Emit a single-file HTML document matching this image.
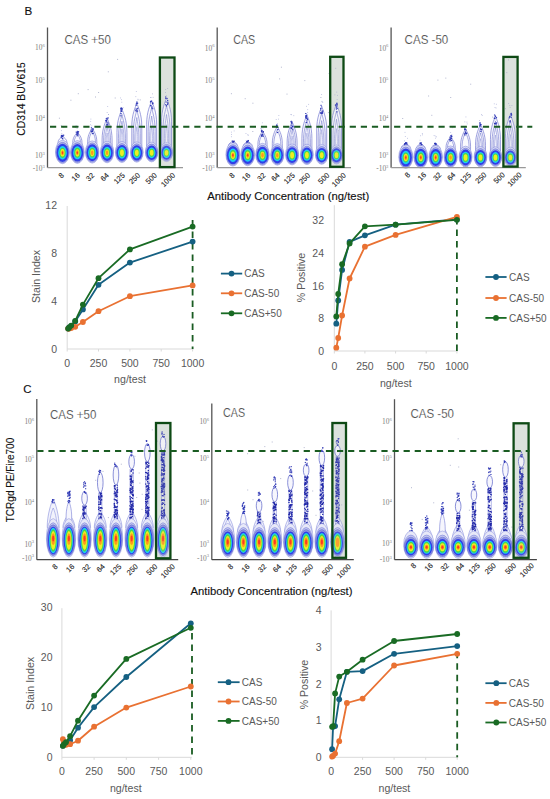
<!DOCTYPE html><html><head><meta charset="utf-8"><style>html,body{margin:0;padding:0;background:#fff;width:550px;height:799px;overflow:hidden}svg{display:block}</style></head><body>
<svg width="550" height="799" viewBox="0 0 550 799" font-family='"Liberation Sans", sans-serif'>
<rect width="550" height="799" fill="#fff"/>
<text x="24.4" y="14.5" font-size="11.6" fill="#111" stroke="#111" stroke-width="0.15">B</text>
<text x="23.2" y="392.9" font-size="11.4" fill="#111" stroke="#111" stroke-width="0.15">C</text>
<text x="24.6" y="99" text-anchor="middle" font-size="10.3" fill="#111" stroke="#111" stroke-width="0.12" transform="rotate(-90 24.6 99)">CD314 BUV615</text>
<text x="13.8" y="480" text-anchor="middle" font-size="10" fill="#111" stroke="#111" stroke-width="0.12" transform="rotate(-90 13.8 480)">TCRgd PE/Fire700</text>
<g>
<line x1="47.5" y1="27.5" x2="47.5" y2="167.7" stroke="#555" stroke-width="1.3"/>
<text x="44.8" y="50.0" text-anchor="end" font-family="Liberation Serif, serif" font-size="7.4" fill="#808080">10<tspan font-size="4.6" dy="-3.4">6</tspan></text>
<text x="44.8" y="82.9" text-anchor="end" font-family="Liberation Serif, serif" font-size="7.4" fill="#808080">10<tspan font-size="4.6" dy="-3.4">5</tspan></text>
<text x="44.8" y="121.0" text-anchor="end" font-family="Liberation Serif, serif" font-size="7.4" fill="#808080">10<tspan font-size="4.6" dy="-3.4">4</tspan></text>
<text x="44.8" y="157.9" text-anchor="end" font-family="Liberation Serif, serif" font-size="7.4" fill="#808080">10<tspan font-size="4.6" dy="-3.4">3</tspan></text>
<text x="44.8" y="171.0" text-anchor="end" font-family="Liberation Serif, serif" font-size="7.4" fill="#808080">-10<tspan font-size="4.6" dy="-3.4">3</tspan></text>
<rect x="159.9" y="57.5" width="14.6" height="109.6" fill="#e0e5e1"/>
<path d="M57.90,144.70 L57.90,142.96 C57.90,139.13 61.35,137.39 62.50,136.00 C63.65,137.39 67.10,139.13 67.10,142.96 L67.10,144.70" fill="#fafafe" stroke="#6a70cc" stroke-width="0.65"/><rect x="61.45" y="135.12" width="1.25" height="1.06" fill="#2a34b4"/><rect x="62.24" y="134.80" width="1.25" height="1.06" fill="#2a34b4"/><rect x="61.96" y="136.00" width="1.25" height="1.06" fill="#2a34b4"/><rect x="60.81" y="136.59" width="1.25" height="1.06" fill="#2a34b4"/><rect x="60.76" y="136.28" width="1.25" height="1.06" fill="#2a34b4"/><rect x="60.84" y="134.87" width="1.25" height="1.06" fill="#2a34b4"/><rect x="61.69" y="137.90" width="1.25" height="1.06" fill="#2a34b4"/><rect x="60.97" y="135.42" width="1.25" height="1.06" fill="#2a34b4"/><rect x="62.18" y="138.40" width="1.25" height="1.06" fill="#2a34b4"/><rect x="62.06" y="136.13" width="1.25" height="1.06" fill="#2a34b4"/><rect x="63.02" y="134.69" width="1.25" height="1.06" fill="#2a34b4"/><rect x="63.39" y="127.19" width="0.80" height="0.68" fill="#9aa0d0"/><rect x="60.82" y="125.30" width="0.80" height="0.68" fill="#9aa0d0"/><rect x="61.41" y="132.98" width="0.80" height="0.68" fill="#9aa0d0"/><rect x="60.95" y="130.40" width="0.80" height="0.68" fill="#9aa0d0"/>
<ellipse cx="62.50" cy="152.00" rx="7.00" ry="11.70" fill="#dcdef5" stroke="#7a80d8" stroke-width="0.5"/><ellipse cx="62.50" cy="152.50" rx="6.50" ry="10.20" fill="#a8ace8" stroke="#5a62d0" stroke-width="0.5"/><ellipse cx="62.50" cy="152.80" rx="6.00" ry="9.10" fill="#2f3ee8"/><ellipse cx="62.50" cy="152.80" rx="4.32" ry="6.73" fill="#1ccff5"/><ellipse cx="62.50" cy="152.80" rx="3.12" ry="5.10" fill="#4cd64a"/><ellipse cx="62.50" cy="152.80" rx="2.10" ry="3.73" fill="#eeee22"/><ellipse cx="62.50" cy="152.80" rx="1.32" ry="2.55" fill="#ff9a1e"/><ellipse cx="62.50" cy="152.80" rx="0.72" ry="1.36" fill="#ff3a22"/>
<path d="M72.76,145.00 L72.76,142.40 C72.76,136.68 76.21,134.08 77.36,132.00 C78.51,134.08 81.96,136.68 81.96,142.40 L81.96,145.00" fill="#fafafe" stroke="#6a70cc" stroke-width="0.65"/><path d="M74.14,145.00 L74.14,142.82 C74.14,138.01 76.55,135.83 77.36,134.08 C78.17,135.83 80.58,138.01 80.58,142.82 L80.58,145.00" fill="none" stroke="#6c72cc" stroke-width="0.6"/><rect x="77.07" y="132.51" width="1.25" height="1.06" fill="#2a34b4"/><rect x="76.85" y="130.84" width="1.25" height="1.06" fill="#2a34b4"/><rect x="75.68" y="131.61" width="1.25" height="1.06" fill="#2a34b4"/><rect x="77.17" y="132.81" width="1.25" height="1.06" fill="#2a34b4"/><rect x="76.29" y="133.66" width="1.25" height="1.06" fill="#2a34b4"/><rect x="76.62" y="132.12" width="1.25" height="1.06" fill="#2a34b4"/><rect x="77.44" y="134.27" width="1.25" height="1.06" fill="#2a34b4"/><rect x="76.12" y="133.60" width="1.25" height="1.06" fill="#2a34b4"/><rect x="76.80" y="135.23" width="1.25" height="1.06" fill="#2a34b4"/><rect x="77.29" y="132.05" width="1.25" height="1.06" fill="#2a34b4"/><rect x="77.89" y="131.14" width="1.25" height="1.06" fill="#2a34b4"/><rect x="76.67" y="128.33" width="0.80" height="0.68" fill="#9aa0d0"/><rect x="75.71" y="125.38" width="0.80" height="0.68" fill="#9aa0d0"/><rect x="75.30" y="127.35" width="0.80" height="0.68" fill="#9aa0d0"/><rect x="77.91" y="126.30" width="0.80" height="0.68" fill="#9aa0d0"/>
<ellipse cx="77.36" cy="152.00" rx="6.88" ry="11.40" fill="#dcdef5" stroke="#7a80d8" stroke-width="0.5"/><ellipse cx="77.36" cy="152.50" rx="6.38" ry="9.90" fill="#a8ace8" stroke="#5a62d0" stroke-width="0.5"/><ellipse cx="77.36" cy="152.80" rx="5.88" ry="8.80" fill="#2f3ee8"/><ellipse cx="77.36" cy="152.80" rx="4.23" ry="6.51" fill="#1ccff5"/><ellipse cx="77.36" cy="152.80" rx="3.06" ry="4.93" fill="#4cd64a"/><ellipse cx="77.36" cy="152.80" rx="2.06" ry="3.61" fill="#eeee22"/><ellipse cx="77.36" cy="152.80" rx="1.29" ry="2.46" fill="#ff9a1e"/><ellipse cx="77.36" cy="152.80" rx="0.71" ry="1.32" fill="#ff3a22"/>
<path d="M87.62,145.30 L87.62,141.84 C87.62,134.23 91.07,130.77 92.22,128.00 C93.37,130.77 96.82,134.23 96.82,141.84 L96.82,145.30" fill="#fafafe" stroke="#6a70cc" stroke-width="0.65"/><path d="M89.00,145.30 L89.00,142.39 C89.00,136.00 91.41,133.09 92.22,130.77 C93.03,133.09 95.44,136.00 95.44,142.39 L95.44,145.30" fill="none" stroke="#6c72cc" stroke-width="0.6"/><rect x="92.50" y="128.60" width="1.25" height="1.06" fill="#2a34b4"/><rect x="92.06" y="130.48" width="1.25" height="1.06" fill="#2a34b4"/><rect x="91.79" y="129.55" width="1.25" height="1.06" fill="#2a34b4"/><rect x="92.41" y="132.82" width="1.25" height="1.06" fill="#2a34b4"/><rect x="91.53" y="130.94" width="1.25" height="1.06" fill="#2a34b4"/><rect x="90.54" y="131.19" width="1.25" height="1.06" fill="#2a34b4"/><rect x="91.95" y="133.14" width="1.25" height="1.06" fill="#2a34b4"/><rect x="92.37" y="128.40" width="1.25" height="1.06" fill="#2a34b4"/><rect x="91.32" y="130.97" width="1.25" height="1.06" fill="#2a34b4"/><rect x="90.45" y="129.59" width="1.25" height="1.06" fill="#2a34b4"/><rect x="90.80" y="127.28" width="1.25" height="1.06" fill="#2a34b4"/><rect x="90.23" y="124.45" width="0.80" height="0.68" fill="#9aa0d0"/><rect x="90.49" y="118.72" width="0.80" height="0.68" fill="#9aa0d0"/><rect x="91.43" y="125.59" width="0.80" height="0.68" fill="#9aa0d0"/><rect x="90.31" y="120.94" width="0.80" height="0.68" fill="#9aa0d0"/>
<ellipse cx="92.22" cy="152.00" rx="6.76" ry="11.10" fill="#dcdef5" stroke="#7a80d8" stroke-width="0.5"/><ellipse cx="92.22" cy="152.50" rx="6.26" ry="9.60" fill="#a8ace8" stroke="#5a62d0" stroke-width="0.5"/><ellipse cx="92.22" cy="152.80" rx="5.76" ry="8.50" fill="#2f3ee8"/><ellipse cx="92.22" cy="152.80" rx="4.15" ry="6.29" fill="#1ccff5"/><ellipse cx="92.22" cy="152.80" rx="3.00" ry="4.76" fill="#4cd64a"/><ellipse cx="92.22" cy="152.80" rx="2.02" ry="3.48" fill="#eeee22"/><ellipse cx="92.22" cy="152.80" rx="1.27" ry="2.38" fill="#ff9a1e"/>
<path d="M102.08,145.60 L102.08,139.98 C102.08,127.62 105.83,122.00 107.08,117.50 C108.33,122.00 112.08,127.62 112.08,139.98 L112.08,145.60" fill="#fafafe" stroke="#6a70cc" stroke-width="0.65"/><path d="M103.58,145.60 L103.58,140.88 C103.58,130.49 106.20,125.77 107.08,122.00 C107.95,125.77 110.58,130.49 110.58,140.88 L110.58,145.60" fill="none" stroke="#6c72cc" stroke-width="0.6"/><path d="M104.98,145.60 L104.98,141.89 C104.98,133.73 106.55,130.02 107.08,127.05 C107.61,130.02 109.18,133.73 109.18,141.89 L109.18,145.60" fill="none" stroke="#767cd0" stroke-width="0.55"/><path d="M106.18,142.79 L106.18,140.82 C106.18,136.50 106.86,134.53 107.08,132.96 C107.30,134.53 107.98,136.50 107.98,140.82 L107.98,142.79" fill="none" stroke="#8086d4" stroke-width="0.5"/><rect x="106.57" y="124.39" width="1.25" height="1.06" fill="#2a34b4"/><rect x="107.22" y="124.21" width="1.25" height="1.06" fill="#2a34b4"/><rect x="105.92" y="119.95" width="1.25" height="1.06" fill="#2a34b4"/><rect x="106.12" y="124.40" width="1.25" height="1.06" fill="#2a34b4"/><rect x="107.55" y="117.43" width="1.25" height="1.06" fill="#2a34b4"/><rect x="105.68" y="118.20" width="1.25" height="1.06" fill="#2a34b4"/><rect x="105.82" y="120.61" width="1.25" height="1.06" fill="#2a34b4"/><rect x="106.67" y="118.50" width="1.25" height="1.06" fill="#2a34b4"/><rect x="105.26" y="119.98" width="1.25" height="1.06" fill="#2a34b4"/><rect x="106.14" y="121.38" width="1.25" height="1.06" fill="#2a34b4"/><rect x="107.54" y="122.56" width="1.25" height="1.06" fill="#2a34b4"/><rect x="106.74" y="112.29" width="0.80" height="0.68" fill="#9aa0d0"/><rect x="107.31" y="106.09" width="0.80" height="0.68" fill="#9aa0d0"/><rect x="108.12" y="114.08" width="0.80" height="0.68" fill="#9aa0d0"/><rect x="108.03" y="114.28" width="0.80" height="0.68" fill="#9aa0d0"/>
<ellipse cx="107.08" cy="152.00" rx="6.64" ry="10.80" fill="#dcdef5" stroke="#7a80d8" stroke-width="0.5"/><ellipse cx="107.08" cy="152.50" rx="6.14" ry="9.30" fill="#a8ace8" stroke="#5a62d0" stroke-width="0.5"/><ellipse cx="107.08" cy="152.80" rx="5.64" ry="8.20" fill="#2f3ee8"/><ellipse cx="107.08" cy="152.80" rx="4.06" ry="6.07" fill="#1ccff5"/><ellipse cx="107.08" cy="152.80" rx="2.93" ry="4.59" fill="#4cd64a"/><ellipse cx="107.08" cy="152.80" rx="1.97" ry="3.36" fill="#eeee22"/><ellipse cx="107.08" cy="152.80" rx="1.24" ry="2.30" fill="#ff9a1e"/>
<path d="M116.94,145.90 L116.94,132.50 C116.94,119.30 120.69,113.30 121.94,108.50 C123.19,113.30 126.94,119.30 126.94,132.50 L126.94,145.90" fill="#fafafe" stroke="#6a70cc" stroke-width="0.65"/><path d="M118.44,145.90 L118.44,138.48 C118.44,125.28 121.06,119.28 121.94,114.48 C122.81,119.28 125.44,125.28 125.44,138.48 L125.44,145.90" fill="none" stroke="#6c72cc" stroke-width="0.6"/><path d="M119.84,145.90 L119.84,140.96 C119.84,130.10 121.41,125.17 121.94,121.22 C122.47,125.17 124.04,130.10 124.04,140.96 L124.04,145.90" fill="none" stroke="#767cd0" stroke-width="0.55"/><path d="M121.04,142.16 L121.04,139.54 C121.04,133.78 121.72,131.16 121.94,129.07 C122.16,131.16 122.84,133.78 122.84,139.54 L122.84,142.16" fill="none" stroke="#8086d4" stroke-width="0.5"/><rect x="121.06" y="110.79" width="1.25" height="1.06" fill="#2a34b4"/><rect x="120.36" y="113.03" width="1.25" height="1.06" fill="#2a34b4"/><rect x="120.26" y="107.64" width="1.25" height="1.06" fill="#2a34b4"/><rect x="120.62" y="108.54" width="1.25" height="1.06" fill="#2a34b4"/><rect x="120.93" y="107.50" width="1.25" height="1.06" fill="#2a34b4"/><rect x="120.12" y="108.44" width="1.25" height="1.06" fill="#2a34b4"/><rect x="120.36" y="110.45" width="1.25" height="1.06" fill="#2a34b4"/><rect x="120.18" y="115.31" width="1.25" height="1.06" fill="#2a34b4"/><rect x="121.59" y="108.41" width="1.25" height="1.06" fill="#2a34b4"/><rect x="120.72" y="110.30" width="1.25" height="1.06" fill="#2a34b4"/><rect x="120.99" y="108.17" width="1.25" height="1.06" fill="#2a34b4"/><rect x="122.80" y="107.42" width="0.80" height="0.68" fill="#9aa0d0"/><rect x="121.42" y="101.82" width="0.80" height="0.68" fill="#9aa0d0"/><rect x="120.05" y="97.62" width="0.80" height="0.68" fill="#9aa0d0"/><rect x="120.97" y="99.41" width="0.80" height="0.68" fill="#9aa0d0"/>
<ellipse cx="121.94" cy="152.00" rx="6.52" ry="10.50" fill="#dcdef5" stroke="#7a80d8" stroke-width="0.5"/><ellipse cx="121.94" cy="152.50" rx="6.02" ry="9.00" fill="#a8ace8" stroke="#5a62d0" stroke-width="0.5"/><ellipse cx="121.94" cy="152.80" rx="5.52" ry="7.90" fill="#2f3ee8"/><ellipse cx="121.94" cy="152.80" rx="3.97" ry="5.85" fill="#1ccff5"/><ellipse cx="121.94" cy="152.80" rx="2.87" ry="4.42" fill="#4cd64a"/><ellipse cx="121.94" cy="152.80" rx="1.93" ry="3.24" fill="#eeee22"/>
<path d="M131.80,146.20 L131.80,126.70 C131.80,113.50 135.55,107.50 136.80,102.70 C138.05,107.50 141.80,113.50 141.80,126.70 L141.80,146.20" fill="#fafafe" stroke="#6a70cc" stroke-width="0.65"/><path d="M133.30,146.20 L133.30,133.66 C133.30,120.46 135.93,114.46 136.80,109.66 C137.68,114.46 140.30,120.46 140.30,133.66 L140.30,146.20" fill="none" stroke="#6c72cc" stroke-width="0.6"/><path d="M134.70,146.20 L134.70,140.46 C134.70,127.83 136.28,122.08 136.80,117.49 C137.33,122.08 138.90,127.83 138.90,140.46 L138.90,146.20" fill="none" stroke="#767cd0" stroke-width="0.55"/><path d="M135.90,141.85 L135.90,138.81 C135.90,132.11 136.58,129.06 136.80,126.63 C137.03,129.06 137.70,132.11 137.70,138.81 L137.70,141.85" fill="none" stroke="#8086d4" stroke-width="0.5"/><rect x="136.96" y="102.73" width="1.25" height="1.06" fill="#2a34b4"/><rect x="135.03" y="110.23" width="1.25" height="1.06" fill="#2a34b4"/><rect x="136.24" y="102.59" width="1.25" height="1.06" fill="#2a34b4"/><rect x="136.28" y="101.46" width="1.25" height="1.06" fill="#2a34b4"/><rect x="136.24" y="110.50" width="1.25" height="1.06" fill="#2a34b4"/><rect x="137.05" y="107.81" width="1.25" height="1.06" fill="#2a34b4"/><rect x="135.60" y="104.68" width="1.25" height="1.06" fill="#2a34b4"/><rect x="135.38" y="108.53" width="1.25" height="1.06" fill="#2a34b4"/><rect x="136.25" y="108.60" width="1.25" height="1.06" fill="#2a34b4"/><rect x="135.77" y="103.32" width="1.25" height="1.06" fill="#2a34b4"/><rect x="136.92" y="110.56" width="1.25" height="1.06" fill="#2a34b4"/><rect x="137.67" y="99.57" width="0.80" height="0.68" fill="#9aa0d0"/><rect x="137.55" y="98.84" width="0.80" height="0.68" fill="#9aa0d0"/><rect x="135.42" y="96.39" width="0.80" height="0.68" fill="#9aa0d0"/><rect x="135.88" y="91.02" width="0.80" height="0.68" fill="#9aa0d0"/>
<ellipse cx="136.80" cy="152.00" rx="6.40" ry="10.20" fill="#dcdef5" stroke="#7a80d8" stroke-width="0.5"/><ellipse cx="136.80" cy="152.50" rx="5.90" ry="8.70" fill="#a8ace8" stroke="#5a62d0" stroke-width="0.5"/><ellipse cx="136.80" cy="152.80" rx="5.40" ry="7.60" fill="#2f3ee8"/><ellipse cx="136.80" cy="152.80" rx="3.89" ry="5.62" fill="#1ccff5"/><ellipse cx="136.80" cy="152.80" rx="2.81" ry="4.26" fill="#4cd64a"/><ellipse cx="136.80" cy="152.80" rx="1.89" ry="3.12" fill="#eeee22"/>
<path d="M146.66,146.50 L146.66,124.30 C146.66,111.10 150.41,105.10 151.66,100.30 C152.91,105.10 156.66,111.10 156.66,124.30 L156.66,146.50" fill="#fafafe" stroke="#6a70cc" stroke-width="0.65"/><path d="M148.16,146.50 L148.16,131.69 C148.16,118.49 150.78,112.49 151.66,107.69 C152.53,112.49 155.16,118.49 155.16,131.69 L155.16,146.50" fill="none" stroke="#6c72cc" stroke-width="0.6"/><path d="M149.56,146.50 L149.56,140.01 C149.56,126.81 151.13,120.81 151.66,116.01 C152.19,120.81 153.76,126.81 153.76,140.01 L153.76,146.50" fill="none" stroke="#767cd0" stroke-width="0.55"/><path d="M150.76,141.88 L150.76,138.65 C150.76,131.53 151.44,128.30 151.66,125.71 C151.88,128.30 152.56,131.53 152.56,138.65 L152.56,141.88" fill="none" stroke="#8086d4" stroke-width="0.5"/><rect x="149.90" y="101.45" width="1.25" height="1.06" fill="#2a34b4"/><rect x="150.46" y="105.38" width="1.25" height="1.06" fill="#2a34b4"/><rect x="152.13" y="103.05" width="1.25" height="1.06" fill="#2a34b4"/><rect x="152.08" y="108.19" width="1.25" height="1.06" fill="#2a34b4"/><rect x="152.13" y="102.26" width="1.25" height="1.06" fill="#2a34b4"/><rect x="150.36" y="100.96" width="1.25" height="1.06" fill="#2a34b4"/><rect x="150.31" y="100.74" width="1.25" height="1.06" fill="#2a34b4"/><rect x="151.33" y="107.35" width="1.25" height="1.06" fill="#2a34b4"/><rect x="151.85" y="103.35" width="1.25" height="1.06" fill="#2a34b4"/><rect x="151.40" y="106.40" width="1.25" height="1.06" fill="#2a34b4"/><rect x="150.04" y="105.08" width="1.25" height="1.06" fill="#2a34b4"/><rect x="152.74" y="96.91" width="0.80" height="0.68" fill="#9aa0d0"/><rect x="152.16" y="93.56" width="0.80" height="0.68" fill="#9aa0d0"/><rect x="150.10" y="96.98" width="0.80" height="0.68" fill="#9aa0d0"/><rect x="150.66" y="97.11" width="0.80" height="0.68" fill="#9aa0d0"/>
<ellipse cx="151.66" cy="152.00" rx="6.28" ry="9.90" fill="#dcdef5" stroke="#7a80d8" stroke-width="0.5"/><ellipse cx="151.66" cy="152.50" rx="5.78" ry="8.40" fill="#a8ace8" stroke="#5a62d0" stroke-width="0.5"/><ellipse cx="151.66" cy="152.80" rx="5.28" ry="7.30" fill="#2f3ee8"/><ellipse cx="151.66" cy="152.80" rx="3.80" ry="5.40" fill="#1ccff5"/><ellipse cx="151.66" cy="152.80" rx="2.75" ry="4.09" fill="#4cd64a"/><ellipse cx="151.66" cy="152.80" rx="1.85" ry="2.99" fill="#eeee22"/>
<path d="M161.52,146.80 L161.52,121.80 C161.52,108.60 165.27,102.60 166.52,97.80 C167.77,102.60 171.52,108.60 171.52,121.80 L171.52,146.80" fill="#fafafe" stroke="#6a70cc" stroke-width="0.65"/><path d="M163.02,146.80 L163.02,129.64 C163.02,116.44 165.64,110.44 166.52,105.64 C167.39,110.44 170.02,116.44 170.02,129.64 L170.02,146.80" fill="none" stroke="#6c72cc" stroke-width="0.6"/><path d="M164.42,146.80 L164.42,138.46 C164.42,125.26 165.99,119.26 166.52,114.46 C167.04,119.26 168.62,125.26 168.62,138.46 L168.62,146.80" fill="none" stroke="#767cd0" stroke-width="0.55"/><path d="M165.62,141.90 L165.62,138.47 C165.62,130.92 166.29,127.49 166.52,124.75 C166.74,127.49 167.42,130.92 167.42,138.47 L167.42,141.90" fill="none" stroke="#8086d4" stroke-width="0.5"/><rect x="167.03" y="100.06" width="1.25" height="1.06" fill="#2a34b4"/><rect x="165.66" y="105.29" width="1.25" height="1.06" fill="#2a34b4"/><rect x="166.43" y="97.92" width="1.25" height="1.06" fill="#2a34b4"/><rect x="165.00" y="97.74" width="1.25" height="1.06" fill="#2a34b4"/><rect x="166.87" y="103.96" width="1.25" height="1.06" fill="#2a34b4"/><rect x="165.05" y="104.15" width="1.25" height="1.06" fill="#2a34b4"/><rect x="167.05" y="102.54" width="1.25" height="1.06" fill="#2a34b4"/><rect x="165.54" y="101.51" width="1.25" height="1.06" fill="#2a34b4"/><rect x="165.01" y="96.44" width="1.25" height="1.06" fill="#2a34b4"/><rect x="167.03" y="102.47" width="1.25" height="1.06" fill="#2a34b4"/><rect x="165.96" y="105.17" width="1.25" height="1.06" fill="#2a34b4"/><rect x="165.88" y="95.39" width="0.80" height="0.68" fill="#9aa0d0"/><rect x="167.29" y="88.12" width="0.80" height="0.68" fill="#9aa0d0"/><rect x="165.23" y="89.02" width="0.80" height="0.68" fill="#9aa0d0"/><rect x="165.19" y="92.25" width="0.80" height="0.68" fill="#9aa0d0"/>
<ellipse cx="166.52" cy="152.00" rx="6.16" ry="9.60" fill="#dcdef5" stroke="#7a80d8" stroke-width="0.5"/><ellipse cx="166.52" cy="152.50" rx="5.66" ry="8.10" fill="#a8ace8" stroke="#5a62d0" stroke-width="0.5"/><ellipse cx="166.52" cy="152.80" rx="5.16" ry="7.00" fill="#2f3ee8"/><ellipse cx="166.52" cy="152.80" rx="3.72" ry="5.18" fill="#1ccff5"/><ellipse cx="166.52" cy="152.80" rx="2.68" ry="3.92" fill="#4cd64a"/><ellipse cx="166.52" cy="152.80" rx="1.81" ry="2.87" fill="#eeee22"/>
<rect x="87.6" y="89.1" width="1" height="1" fill="#b4b8d0"/>
<rect x="73.2" y="126.0" width="1" height="1" fill="#b4b8d0"/>
<rect x="98.1" y="92.0" width="1" height="1" fill="#b4b8d0"/>
<rect x="123.8" y="125.6" width="1" height="1" fill="#b4b8d0"/>
<rect x="105.6" y="126.6" width="1" height="1" fill="#b4b8d0"/>
<rect x="114.7" y="97.5" width="1" height="1" fill="#b4b8d0"/>
<rect x="117.1" y="58.9" width="1" height="1" fill="#b4b8d0"/>
<rect x="107.8" y="71.3" width="1" height="1" fill="#b4b8d0"/>
<rect x="58.9" y="117.7" width="1" height="1" fill="#b4b8d0"/>
<rect x="77.8" y="93.2" width="1" height="1" fill="#b4b8d0"/>
<rect x="139.7" y="99.4" width="1" height="1" fill="#b4b8d0"/>
<rect x="95.0" y="96.5" width="1" height="1" fill="#b4b8d0"/>
<rect x="120.7" y="116.6" width="1" height="1" fill="#b4b8d0"/>
<rect x="70.4" y="99.7" width="1" height="1" fill="#b4b8d0"/>
<line x1="47.5" y1="167.7" x2="183" y2="167.7" stroke="#999" stroke-width="1.3"/>
<rect x="159.9" y="57.5" width="14.6" height="109.6" fill="#c4cec8" fill-opacity="0.12" stroke="#0e4a15" stroke-width="2.3"/>
<text x="64.5" y="44.3" font-size="12.8" fill="#333" stroke="#fff" stroke-width="0.22" textLength="46.4" lengthAdjust="spacingAndGlyphs">CAS +50</text>
<text x="64.4" y="175.8" text-anchor="end" font-size="7.4" fill="#222" stroke="#222" stroke-width="0.12" transform="rotate(-45 64.4 175.8)">8</text>
<text x="80.4" y="175.8" text-anchor="end" font-size="7.4" fill="#222" stroke="#222" stroke-width="0.12" transform="rotate(-45 80.4 175.8)">16</text>
<text x="94.9" y="175.8" text-anchor="end" font-size="7.4" fill="#222" stroke="#222" stroke-width="0.12" transform="rotate(-45 94.9 175.8)">32</text>
<text x="109.4" y="175.8" text-anchor="end" font-size="7.4" fill="#222" stroke="#222" stroke-width="0.12" transform="rotate(-45 109.4 175.8)">64</text>
<text x="125.4" y="175.8" text-anchor="end" font-size="7.4" fill="#222" stroke="#222" stroke-width="0.12" transform="rotate(-45 125.4 175.8)">125</text>
<text x="140.7" y="175.8" text-anchor="end" font-size="7.4" fill="#222" stroke="#222" stroke-width="0.12" transform="rotate(-45 140.7 175.8)">250</text>
<text x="157.3" y="175.8" text-anchor="end" font-size="7.4" fill="#222" stroke="#222" stroke-width="0.12" transform="rotate(-45 157.3 175.8)">500</text>
<text x="175.6" y="175.8" text-anchor="end" font-size="7.4" fill="#222" stroke="#222" stroke-width="0.12" transform="rotate(-45 175.6 175.8)">1000</text>
</g>
<g>
<line x1="217.2" y1="27.5" x2="217.2" y2="167.7" stroke="#555" stroke-width="1.3"/>
<text x="214.5" y="50.6" text-anchor="end" font-family="Liberation Serif, serif" font-size="7.4" fill="#808080">10<tspan font-size="4.6" dy="-3.4">6</tspan></text>
<text x="214.5" y="82.9" text-anchor="end" font-family="Liberation Serif, serif" font-size="7.4" fill="#808080">10<tspan font-size="4.6" dy="-3.4">5</tspan></text>
<text x="214.5" y="121.0" text-anchor="end" font-family="Liberation Serif, serif" font-size="7.4" fill="#808080">10<tspan font-size="4.6" dy="-3.4">4</tspan></text>
<text x="214.5" y="157.9" text-anchor="end" font-family="Liberation Serif, serif" font-size="7.4" fill="#808080">10<tspan font-size="4.6" dy="-3.4">3</tspan></text>
<text x="214.5" y="171.0" text-anchor="end" font-family="Liberation Serif, serif" font-size="7.4" fill="#808080">-10<tspan font-size="4.6" dy="-3.4">3</tspan></text>
<rect x="330.2" y="56.8" width="13.3" height="110.0" fill="#e0e5e1"/>
<path d="M228.30,147.10 L228.30,145.90 C228.30,143.26 231.75,142.06 232.90,141.10 C234.05,142.06 237.50,143.26 237.50,145.90 L237.50,147.10" fill="#fafafe" stroke="#6a70cc" stroke-width="0.65"/><rect x="231.67" y="140.51" width="1.25" height="1.06" fill="#2a34b4"/><rect x="232.93" y="141.28" width="1.25" height="1.06" fill="#2a34b4"/><rect x="232.42" y="142.11" width="1.25" height="1.06" fill="#2a34b4"/><rect x="233.26" y="141.06" width="1.25" height="1.06" fill="#2a34b4"/><rect x="232.55" y="141.27" width="1.25" height="1.06" fill="#2a34b4"/><rect x="232.30" y="141.89" width="1.25" height="1.06" fill="#2a34b4"/><rect x="232.16" y="141.36" width="1.25" height="1.06" fill="#2a34b4"/><rect x="232.22" y="142.71" width="1.25" height="1.06" fill="#2a34b4"/><rect x="232.75" y="142.49" width="1.25" height="1.06" fill="#2a34b4"/><rect x="233.34" y="140.46" width="1.25" height="1.06" fill="#2a34b4"/><rect x="232.42" y="142.71" width="1.25" height="1.06" fill="#2a34b4"/><rect x="233.72" y="130.61" width="0.80" height="0.68" fill="#9aa0d0"/><rect x="231.14" y="133.96" width="0.80" height="0.68" fill="#9aa0d0"/><rect x="230.96" y="131.75" width="0.80" height="0.68" fill="#9aa0d0"/><rect x="230.96" y="136.46" width="0.80" height="0.68" fill="#9aa0d0"/>
<ellipse cx="232.90" cy="154.40" rx="7.00" ry="11.70" fill="#dcdef5" stroke="#7a80d8" stroke-width="0.5"/><ellipse cx="232.90" cy="154.90" rx="6.50" ry="10.20" fill="#a8ace8" stroke="#5a62d0" stroke-width="0.5"/><ellipse cx="232.90" cy="155.20" rx="6.00" ry="9.10" fill="#2f3ee8"/><ellipse cx="232.90" cy="155.20" rx="4.32" ry="6.73" fill="#1ccff5"/><ellipse cx="232.90" cy="155.20" rx="3.12" ry="5.10" fill="#4cd64a"/><ellipse cx="232.90" cy="155.20" rx="2.10" ry="3.73" fill="#eeee22"/><ellipse cx="232.90" cy="155.20" rx="1.32" ry="2.55" fill="#ff9a1e"/><ellipse cx="232.90" cy="155.20" rx="0.72" ry="1.36" fill="#ff3a22"/>
<path d="M243.10,147.40 L243.10,146.20 C243.10,143.56 246.55,142.36 247.70,141.40 C248.85,142.36 252.30,143.56 252.30,146.20 L252.30,147.40" fill="#fafafe" stroke="#6a70cc" stroke-width="0.65"/><rect x="247.76" y="142.86" width="1.25" height="1.06" fill="#2a34b4"/><rect x="246.25" y="142.26" width="1.25" height="1.06" fill="#2a34b4"/><rect x="247.46" y="140.37" width="1.25" height="1.06" fill="#2a34b4"/><rect x="247.99" y="143.09" width="1.25" height="1.06" fill="#2a34b4"/><rect x="246.40" y="143.04" width="1.25" height="1.06" fill="#2a34b4"/><rect x="246.83" y="141.51" width="1.25" height="1.06" fill="#2a34b4"/><rect x="248.25" y="142.65" width="1.25" height="1.06" fill="#2a34b4"/><rect x="246.26" y="141.32" width="1.25" height="1.06" fill="#2a34b4"/><rect x="247.11" y="141.02" width="1.25" height="1.06" fill="#2a34b4"/><rect x="246.34" y="140.95" width="1.25" height="1.06" fill="#2a34b4"/><rect x="247.61" y="139.96" width="1.25" height="1.06" fill="#2a34b4"/><rect x="247.49" y="134.25" width="0.80" height="0.68" fill="#9aa0d0"/><rect x="245.57" y="133.05" width="0.80" height="0.68" fill="#9aa0d0"/><rect x="247.75" y="135.03" width="0.80" height="0.68" fill="#9aa0d0"/><rect x="245.73" y="140.24" width="0.80" height="0.68" fill="#9aa0d0"/>
<ellipse cx="247.70" cy="154.40" rx="6.88" ry="11.40" fill="#dcdef5" stroke="#7a80d8" stroke-width="0.5"/><ellipse cx="247.70" cy="154.90" rx="6.38" ry="9.90" fill="#a8ace8" stroke="#5a62d0" stroke-width="0.5"/><ellipse cx="247.70" cy="155.20" rx="5.88" ry="8.80" fill="#2f3ee8"/><ellipse cx="247.70" cy="155.20" rx="4.23" ry="6.51" fill="#1ccff5"/><ellipse cx="247.70" cy="155.20" rx="3.06" ry="4.93" fill="#4cd64a"/><ellipse cx="247.70" cy="155.20" rx="2.06" ry="3.61" fill="#eeee22"/><ellipse cx="247.70" cy="155.20" rx="1.29" ry="2.46" fill="#ff9a1e"/><ellipse cx="247.70" cy="155.20" rx="0.71" ry="1.32" fill="#ff3a22"/>
<path d="M257.90,147.70 L257.90,144.32 C257.90,136.88 261.35,133.50 262.50,130.80 C263.65,133.50 267.10,136.88 267.10,144.32 L267.10,147.70" fill="#fafafe" stroke="#6a70cc" stroke-width="0.65"/><path d="M259.28,147.70 L259.28,144.86 C259.28,138.61 261.69,135.78 262.50,133.50 C263.31,135.78 265.72,138.61 265.72,144.86 L265.72,147.70" fill="none" stroke="#6c72cc" stroke-width="0.6"/><rect x="262.57" y="135.68" width="1.25" height="1.06" fill="#2a34b4"/><rect x="260.93" y="131.04" width="1.25" height="1.06" fill="#2a34b4"/><rect x="260.77" y="134.42" width="1.25" height="1.06" fill="#2a34b4"/><rect x="261.32" y="130.15" width="1.25" height="1.06" fill="#2a34b4"/><rect x="261.69" y="135.29" width="1.25" height="1.06" fill="#2a34b4"/><rect x="262.64" y="131.00" width="1.25" height="1.06" fill="#2a34b4"/><rect x="261.03" y="135.34" width="1.25" height="1.06" fill="#2a34b4"/><rect x="262.04" y="133.90" width="1.25" height="1.06" fill="#2a34b4"/><rect x="260.89" y="129.68" width="1.25" height="1.06" fill="#2a34b4"/><rect x="262.33" y="132.09" width="1.25" height="1.06" fill="#2a34b4"/><rect x="260.85" y="135.46" width="1.25" height="1.06" fill="#2a34b4"/><rect x="262.58" y="127.62" width="0.80" height="0.68" fill="#9aa0d0"/><rect x="260.60" y="128.22" width="0.80" height="0.68" fill="#9aa0d0"/><rect x="260.54" y="128.29" width="0.80" height="0.68" fill="#9aa0d0"/><rect x="261.93" y="122.53" width="0.80" height="0.68" fill="#9aa0d0"/>
<ellipse cx="262.50" cy="154.40" rx="6.76" ry="11.10" fill="#dcdef5" stroke="#7a80d8" stroke-width="0.5"/><ellipse cx="262.50" cy="154.90" rx="6.26" ry="9.60" fill="#a8ace8" stroke="#5a62d0" stroke-width="0.5"/><ellipse cx="262.50" cy="155.20" rx="5.76" ry="8.50" fill="#2f3ee8"/><ellipse cx="262.50" cy="155.20" rx="4.15" ry="6.29" fill="#1ccff5"/><ellipse cx="262.50" cy="155.20" rx="3.00" ry="4.76" fill="#4cd64a"/><ellipse cx="262.50" cy="155.20" rx="2.02" ry="3.48" fill="#eeee22"/><ellipse cx="262.50" cy="155.20" rx="1.27" ry="2.38" fill="#ff9a1e"/>
<path d="M272.30,148.00 L272.30,143.60 C272.30,133.92 276.05,129.52 277.30,126.00 C278.55,129.52 282.30,133.92 282.30,143.60 L282.30,148.00" fill="#fafafe" stroke="#6a70cc" stroke-width="0.65"/><path d="M273.80,148.00 L273.80,144.30 C273.80,136.17 276.43,132.48 277.30,129.52 C278.18,132.48 280.80,136.17 280.80,144.30 L280.80,148.00" fill="none" stroke="#6c72cc" stroke-width="0.6"/><rect x="276.80" y="132.01" width="1.25" height="1.06" fill="#2a34b4"/><rect x="276.12" y="125.55" width="1.25" height="1.06" fill="#2a34b4"/><rect x="276.74" y="126.43" width="1.25" height="1.06" fill="#2a34b4"/><rect x="275.74" y="125.81" width="1.25" height="1.06" fill="#2a34b4"/><rect x="275.60" y="126.13" width="1.25" height="1.06" fill="#2a34b4"/><rect x="276.22" y="126.97" width="1.25" height="1.06" fill="#2a34b4"/><rect x="277.30" y="126.85" width="1.25" height="1.06" fill="#2a34b4"/><rect x="276.68" y="125.94" width="1.25" height="1.06" fill="#2a34b4"/><rect x="276.31" y="124.65" width="1.25" height="1.06" fill="#2a34b4"/><rect x="276.08" y="124.62" width="1.25" height="1.06" fill="#2a34b4"/><rect x="277.23" y="128.96" width="1.25" height="1.06" fill="#2a34b4"/><rect x="275.78" y="119.22" width="0.80" height="0.68" fill="#9aa0d0"/><rect x="278.46" y="115.17" width="0.80" height="0.68" fill="#9aa0d0"/><rect x="278.05" y="118.75" width="0.80" height="0.68" fill="#9aa0d0"/><rect x="276.88" y="123.18" width="0.80" height="0.68" fill="#9aa0d0"/>
<ellipse cx="277.30" cy="154.40" rx="6.64" ry="10.80" fill="#dcdef5" stroke="#7a80d8" stroke-width="0.5"/><ellipse cx="277.30" cy="154.90" rx="6.14" ry="9.30" fill="#a8ace8" stroke="#5a62d0" stroke-width="0.5"/><ellipse cx="277.30" cy="155.20" rx="5.64" ry="8.20" fill="#2f3ee8"/><ellipse cx="277.30" cy="155.20" rx="4.06" ry="6.07" fill="#1ccff5"/><ellipse cx="277.30" cy="155.20" rx="2.93" ry="4.59" fill="#4cd64a"/><ellipse cx="277.30" cy="155.20" rx="1.97" ry="3.36" fill="#eeee22"/><ellipse cx="277.30" cy="155.20" rx="1.24" ry="2.30" fill="#ff9a1e"/>
<path d="M287.10,148.30 L287.10,142.92 C287.10,131.08 290.85,125.70 292.10,121.40 C293.35,125.70 297.10,131.08 297.10,142.92 L297.10,148.30" fill="#fafafe" stroke="#6a70cc" stroke-width="0.65"/><path d="M288.60,148.30 L288.60,143.78 C288.60,133.84 291.23,129.32 292.10,125.70 C292.98,129.32 295.60,133.84 295.60,143.78 L295.60,148.30" fill="none" stroke="#6c72cc" stroke-width="0.6"/><path d="M290.00,148.30 L290.00,144.75 C290.00,136.94 291.58,133.39 292.10,130.55 C292.62,133.39 294.20,136.94 294.20,144.75 L294.20,148.30" fill="none" stroke="#767cd0" stroke-width="0.55"/><path d="M291.20,145.61 L291.20,143.73 C291.20,139.58 291.88,137.70 292.10,136.19 C292.33,137.70 293.00,139.58 293.00,143.73 L293.00,145.61" fill="none" stroke="#8086d4" stroke-width="0.5"/><rect x="291.22" y="124.71" width="1.25" height="1.06" fill="#2a34b4"/><rect x="291.93" y="129.23" width="1.25" height="1.06" fill="#2a34b4"/><rect x="291.10" y="127.81" width="1.25" height="1.06" fill="#2a34b4"/><rect x="291.97" y="125.94" width="1.25" height="1.06" fill="#2a34b4"/><rect x="291.25" y="123.20" width="1.25" height="1.06" fill="#2a34b4"/><rect x="290.41" y="121.13" width="1.25" height="1.06" fill="#2a34b4"/><rect x="290.44" y="126.94" width="1.25" height="1.06" fill="#2a34b4"/><rect x="290.89" y="121.45" width="1.25" height="1.06" fill="#2a34b4"/><rect x="290.48" y="127.89" width="1.25" height="1.06" fill="#2a34b4"/><rect x="292.36" y="126.27" width="1.25" height="1.06" fill="#2a34b4"/><rect x="290.95" y="122.20" width="1.25" height="1.06" fill="#2a34b4"/><rect x="290.96" y="114.45" width="0.80" height="0.68" fill="#9aa0d0"/><rect x="290.47" y="114.30" width="0.80" height="0.68" fill="#9aa0d0"/><rect x="290.85" y="119.98" width="0.80" height="0.68" fill="#9aa0d0"/><rect x="293.40" y="115.42" width="0.80" height="0.68" fill="#9aa0d0"/>
<ellipse cx="292.10" cy="154.40" rx="6.52" ry="10.50" fill="#dcdef5" stroke="#7a80d8" stroke-width="0.5"/><ellipse cx="292.10" cy="154.90" rx="6.02" ry="9.00" fill="#a8ace8" stroke="#5a62d0" stroke-width="0.5"/><ellipse cx="292.10" cy="155.20" rx="5.52" ry="7.90" fill="#2f3ee8"/><ellipse cx="292.10" cy="155.20" rx="3.97" ry="5.85" fill="#1ccff5"/><ellipse cx="292.10" cy="155.20" rx="2.87" ry="4.42" fill="#4cd64a"/><ellipse cx="292.10" cy="155.20" rx="1.93" ry="3.24" fill="#eeee22"/>
<path d="M301.90,148.60 L301.90,138.30 C301.90,125.10 305.65,119.10 306.90,114.30 C308.15,119.10 311.90,125.10 311.90,138.30 L311.90,148.60" fill="#fafafe" stroke="#6a70cc" stroke-width="0.65"/><path d="M303.40,148.60 L303.40,142.84 C303.40,130.16 306.02,124.40 306.90,119.79 C307.77,124.40 310.40,130.16 310.40,142.84 L310.40,148.60" fill="none" stroke="#6c72cc" stroke-width="0.6"/><path d="M304.80,148.60 L304.80,144.07 C304.80,134.11 306.38,129.58 306.90,125.96 C307.42,129.58 309.00,134.11 309.00,144.07 L309.00,148.60" fill="none" stroke="#767cd0" stroke-width="0.55"/><path d="M306.00,145.17 L306.00,142.77 C306.00,137.49 306.67,135.09 306.90,133.16 C307.12,135.09 307.80,137.49 307.80,142.77 L307.80,145.17" fill="none" stroke="#8086d4" stroke-width="0.5"/><rect x="305.66" y="121.97" width="1.25" height="1.06" fill="#2a34b4"/><rect x="305.82" y="116.19" width="1.25" height="1.06" fill="#2a34b4"/><rect x="305.08" y="116.43" width="1.25" height="1.06" fill="#2a34b4"/><rect x="306.21" y="117.58" width="1.25" height="1.06" fill="#2a34b4"/><rect x="305.56" y="117.59" width="1.25" height="1.06" fill="#2a34b4"/><rect x="305.09" y="115.31" width="1.25" height="1.06" fill="#2a34b4"/><rect x="305.29" y="116.60" width="1.25" height="1.06" fill="#2a34b4"/><rect x="305.18" y="113.01" width="1.25" height="1.06" fill="#2a34b4"/><rect x="305.81" y="115.01" width="1.25" height="1.06" fill="#2a34b4"/><rect x="306.48" y="117.83" width="1.25" height="1.06" fill="#2a34b4"/><rect x="306.88" y="119.05" width="1.25" height="1.06" fill="#2a34b4"/><rect x="307.28" y="111.97" width="0.80" height="0.68" fill="#9aa0d0"/><rect x="306.10" y="105.89" width="0.80" height="0.68" fill="#9aa0d0"/><rect x="308.25" y="103.94" width="0.80" height="0.68" fill="#9aa0d0"/><rect x="307.31" y="109.38" width="0.80" height="0.68" fill="#9aa0d0"/>
<ellipse cx="306.90" cy="154.40" rx="6.40" ry="10.20" fill="#dcdef5" stroke="#7a80d8" stroke-width="0.5"/><ellipse cx="306.90" cy="154.90" rx="5.90" ry="8.70" fill="#a8ace8" stroke="#5a62d0" stroke-width="0.5"/><ellipse cx="306.90" cy="155.20" rx="5.40" ry="7.60" fill="#2f3ee8"/><ellipse cx="306.90" cy="155.20" rx="3.89" ry="5.62" fill="#1ccff5"/><ellipse cx="306.90" cy="155.20" rx="2.81" ry="4.26" fill="#4cd64a"/><ellipse cx="306.90" cy="155.20" rx="1.89" ry="3.12" fill="#eeee22"/>
<path d="M316.70,148.90 L316.70,130.00 C316.70,116.80 320.45,110.80 321.70,106.00 C322.95,110.80 326.70,116.80 326.70,130.00 L326.70,148.90" fill="#fafafe" stroke="#6a70cc" stroke-width="0.65"/><path d="M318.20,148.90 L318.20,136.86 C318.20,123.66 320.83,117.66 321.70,112.86 C322.58,117.66 325.20,123.66 325.20,136.86 L325.20,148.90" fill="none" stroke="#6c72cc" stroke-width="0.6"/><path d="M319.60,148.90 L319.60,143.24 C319.60,130.78 321.18,125.12 321.70,120.59 C322.23,125.12 323.80,130.78 323.80,143.24 L323.80,148.90" fill="none" stroke="#767cd0" stroke-width="0.55"/><path d="M320.80,144.61 L320.80,141.61 C320.80,135.00 321.48,132.00 321.70,129.59 C321.93,132.00 322.60,135.00 322.60,141.61 L322.60,144.61" fill="none" stroke="#8086d4" stroke-width="0.5"/><rect x="319.98" y="112.44" width="1.25" height="1.06" fill="#2a34b4"/><rect x="322.02" y="110.46" width="1.25" height="1.06" fill="#2a34b4"/><rect x="321.64" y="112.22" width="1.25" height="1.06" fill="#2a34b4"/><rect x="320.21" y="109.48" width="1.25" height="1.06" fill="#2a34b4"/><rect x="321.09" y="112.43" width="1.25" height="1.06" fill="#2a34b4"/><rect x="321.81" y="112.35" width="1.25" height="1.06" fill="#2a34b4"/><rect x="321.28" y="112.98" width="1.25" height="1.06" fill="#2a34b4"/><rect x="321.51" y="111.09" width="1.25" height="1.06" fill="#2a34b4"/><rect x="320.43" y="104.80" width="1.25" height="1.06" fill="#2a34b4"/><rect x="320.19" y="107.93" width="1.25" height="1.06" fill="#2a34b4"/><rect x="320.13" y="112.44" width="1.25" height="1.06" fill="#2a34b4"/><rect x="321.51" y="100.91" width="0.80" height="0.68" fill="#9aa0d0"/><rect x="321.75" y="101.49" width="0.80" height="0.68" fill="#9aa0d0"/><rect x="321.26" y="94.04" width="0.80" height="0.68" fill="#9aa0d0"/><rect x="322.37" y="102.23" width="0.80" height="0.68" fill="#9aa0d0"/>
<ellipse cx="321.70" cy="154.40" rx="6.28" ry="9.90" fill="#dcdef5" stroke="#7a80d8" stroke-width="0.5"/><ellipse cx="321.70" cy="154.90" rx="5.78" ry="8.40" fill="#a8ace8" stroke="#5a62d0" stroke-width="0.5"/><ellipse cx="321.70" cy="155.20" rx="5.28" ry="7.30" fill="#2f3ee8"/><ellipse cx="321.70" cy="155.20" rx="3.80" ry="5.40" fill="#1ccff5"/><ellipse cx="321.70" cy="155.20" rx="2.75" ry="4.09" fill="#4cd64a"/><ellipse cx="321.70" cy="155.20" rx="1.85" ry="2.99" fill="#eeee22"/>
<path d="M331.50,149.20 L331.50,127.60 C331.50,114.40 335.25,108.40 336.50,103.60 C337.75,108.40 341.50,114.40 341.50,127.60 L341.50,149.20" fill="#fafafe" stroke="#6a70cc" stroke-width="0.65"/><path d="M333.00,149.20 L333.00,134.90 C333.00,121.70 335.62,115.70 336.50,110.90 C337.38,115.70 340.00,121.70 340.00,134.90 L340.00,149.20" fill="none" stroke="#6c72cc" stroke-width="0.6"/><path d="M334.40,149.20 L334.40,143.10 C334.40,129.90 335.98,123.90 336.50,119.10 C337.02,123.90 338.60,129.90 338.60,143.10 L338.60,149.20" fill="none" stroke="#767cd0" stroke-width="0.55"/><path d="M335.60,144.64 L335.60,141.45 C335.60,134.43 336.27,131.23 336.50,128.68 C336.73,131.23 337.40,134.43 337.40,141.45 L337.40,144.64" fill="none" stroke="#8086d4" stroke-width="0.5"/><rect x="335.88" y="107.18" width="1.25" height="1.06" fill="#2a34b4"/><rect x="336.26" y="102.73" width="1.25" height="1.06" fill="#2a34b4"/><rect x="336.44" y="104.50" width="1.25" height="1.06" fill="#2a34b4"/><rect x="334.85" y="104.62" width="1.25" height="1.06" fill="#2a34b4"/><rect x="336.43" y="104.05" width="1.25" height="1.06" fill="#2a34b4"/><rect x="336.45" y="111.37" width="1.25" height="1.06" fill="#2a34b4"/><rect x="335.86" y="105.73" width="1.25" height="1.06" fill="#2a34b4"/><rect x="335.82" y="108.60" width="1.25" height="1.06" fill="#2a34b4"/><rect x="336.52" y="107.96" width="1.25" height="1.06" fill="#2a34b4"/><rect x="336.22" y="102.84" width="1.25" height="1.06" fill="#2a34b4"/><rect x="335.03" y="104.51" width="1.25" height="1.06" fill="#2a34b4"/><rect x="336.98" y="94.95" width="0.80" height="0.68" fill="#9aa0d0"/><rect x="336.34" y="91.74" width="0.80" height="0.68" fill="#9aa0d0"/><rect x="334.52" y="94.56" width="0.80" height="0.68" fill="#9aa0d0"/><rect x="336.72" y="99.21" width="0.80" height="0.68" fill="#9aa0d0"/>
<ellipse cx="336.50" cy="154.40" rx="6.16" ry="9.60" fill="#dcdef5" stroke="#7a80d8" stroke-width="0.5"/><ellipse cx="336.50" cy="154.90" rx="5.66" ry="8.10" fill="#a8ace8" stroke="#5a62d0" stroke-width="0.5"/><ellipse cx="336.50" cy="155.20" rx="5.16" ry="7.00" fill="#2f3ee8"/><ellipse cx="336.50" cy="155.20" rx="3.72" ry="5.18" fill="#1ccff5"/><ellipse cx="336.50" cy="155.20" rx="2.68" ry="3.92" fill="#4cd64a"/><ellipse cx="336.50" cy="155.20" rx="1.81" ry="2.87" fill="#eeee22"/>
<rect x="304.3" y="80.1" width="1" height="1" fill="#b4b8d0"/>
<rect x="286.5" y="93.6" width="1" height="1" fill="#b4b8d0"/>
<rect x="280.9" y="66.7" width="1" height="1" fill="#b4b8d0"/>
<rect x="328.6" y="73.0" width="1" height="1" fill="#b4b8d0"/>
<rect x="338.1" y="130.2" width="1" height="1" fill="#b4b8d0"/>
<rect x="230.9" y="93.2" width="1" height="1" fill="#b4b8d0"/>
<rect x="320.4" y="132.7" width="1" height="1" fill="#b4b8d0"/>
<rect x="279.1" y="78.4" width="1" height="1" fill="#b4b8d0"/>
<rect x="252.3" y="131.0" width="1" height="1" fill="#b4b8d0"/>
<rect x="252.4" y="102.7" width="1" height="1" fill="#b4b8d0"/>
<rect x="244.7" y="98.2" width="1" height="1" fill="#b4b8d0"/>
<rect x="335.2" y="67.8" width="1" height="1" fill="#b4b8d0"/>
<rect x="320.4" y="97.0" width="1" height="1" fill="#b4b8d0"/>
<rect x="327.9" y="112.1" width="1" height="1" fill="#b4b8d0"/>
<line x1="217.2" y1="167.7" x2="351" y2="167.7" stroke="#999" stroke-width="1.3"/>
<rect x="330.2" y="56.8" width="13.3" height="110.0" fill="#c4cec8" fill-opacity="0.12" stroke="#0e4a15" stroke-width="2.3"/>
<text x="233.3" y="44.0" font-size="12.8" fill="#333" stroke="#fff" stroke-width="0.22" textLength="21.9" lengthAdjust="spacingAndGlyphs">CAS</text>
<text x="235.2" y="175.8" text-anchor="end" font-size="7.4" fill="#222" stroke="#222" stroke-width="0.12" transform="rotate(-45 235.2 175.8)">8</text>
<text x="250.9" y="175.8" text-anchor="end" font-size="7.4" fill="#222" stroke="#222" stroke-width="0.12" transform="rotate(-45 250.9 175.8)">16</text>
<text x="266.2" y="175.8" text-anchor="end" font-size="7.4" fill="#222" stroke="#222" stroke-width="0.12" transform="rotate(-45 266.2 175.8)">32</text>
<text x="280.2" y="175.8" text-anchor="end" font-size="7.4" fill="#222" stroke="#222" stroke-width="0.12" transform="rotate(-45 280.2 175.8)">64</text>
<text x="295.4" y="175.8" text-anchor="end" font-size="7.4" fill="#222" stroke="#222" stroke-width="0.12" transform="rotate(-45 295.4 175.8)">125</text>
<text x="310.7" y="175.8" text-anchor="end" font-size="7.4" fill="#222" stroke="#222" stroke-width="0.12" transform="rotate(-45 310.7 175.8)">250</text>
<text x="329.8" y="175.8" text-anchor="end" font-size="7.4" fill="#222" stroke="#222" stroke-width="0.12" transform="rotate(-45 329.8 175.8)">500</text>
<text x="346.4" y="175.8" text-anchor="end" font-size="7.4" fill="#222" stroke="#222" stroke-width="0.12" transform="rotate(-45 346.4 175.8)">1000</text>
</g>
<g>
<line x1="391.1" y1="27.5" x2="391.1" y2="167.7" stroke="#555" stroke-width="1.3"/>
<text x="388.4" y="50.6" text-anchor="end" font-family="Liberation Serif, serif" font-size="7.4" fill="#808080">10<tspan font-size="4.6" dy="-3.4">6</tspan></text>
<text x="388.4" y="82.9" text-anchor="end" font-family="Liberation Serif, serif" font-size="7.4" fill="#808080">10<tspan font-size="4.6" dy="-3.4">5</tspan></text>
<text x="388.4" y="121.0" text-anchor="end" font-family="Liberation Serif, serif" font-size="7.4" fill="#808080">10<tspan font-size="4.6" dy="-3.4">4</tspan></text>
<text x="388.4" y="157.9" text-anchor="end" font-family="Liberation Serif, serif" font-size="7.4" fill="#808080">10<tspan font-size="4.6" dy="-3.4">3</tspan></text>
<text x="388.4" y="171.0" text-anchor="end" font-family="Liberation Serif, serif" font-size="7.4" fill="#808080">-10<tspan font-size="4.6" dy="-3.4">3</tspan></text>
<rect x="503.4" y="56.9" width="14.2" height="109.7" fill="#e0e5e1"/>
<path d="M401.20,149.40 L401.20,148.20 C401.20,145.56 404.65,144.36 405.80,143.40 C406.95,144.36 410.40,145.56 410.40,148.20 L410.40,149.40" fill="#fafafe" stroke="#6a70cc" stroke-width="0.65"/><rect x="404.53" y="144.86" width="1.25" height="1.06" fill="#2a34b4"/><rect x="405.14" y="141.98" width="1.25" height="1.06" fill="#2a34b4"/><rect x="403.98" y="143.52" width="1.25" height="1.06" fill="#2a34b4"/><rect x="405.06" y="142.90" width="1.25" height="1.06" fill="#2a34b4"/><rect x="404.31" y="143.04" width="1.25" height="1.06" fill="#2a34b4"/><rect x="404.73" y="144.67" width="1.25" height="1.06" fill="#2a34b4"/><rect x="403.98" y="144.38" width="1.25" height="1.06" fill="#2a34b4"/><rect x="405.99" y="142.30" width="1.25" height="1.06" fill="#2a34b4"/><rect x="406.20" y="144.25" width="1.25" height="1.06" fill="#2a34b4"/><rect x="406.14" y="142.86" width="1.25" height="1.06" fill="#2a34b4"/><rect x="404.87" y="143.20" width="1.25" height="1.06" fill="#2a34b4"/><rect x="407.20" y="137.88" width="0.80" height="0.68" fill="#9aa0d0"/><rect x="404.90" y="136.11" width="0.80" height="0.68" fill="#9aa0d0"/><rect x="404.59" y="131.93" width="0.80" height="0.68" fill="#9aa0d0"/><rect x="403.97" y="140.58" width="0.80" height="0.68" fill="#9aa0d0"/>
<ellipse cx="405.80" cy="156.70" rx="7.00" ry="11.70" fill="#dcdef5" stroke="#7a80d8" stroke-width="0.5"/><ellipse cx="405.80" cy="157.20" rx="6.50" ry="10.20" fill="#a8ace8" stroke="#5a62d0" stroke-width="0.5"/><ellipse cx="405.80" cy="157.50" rx="6.00" ry="9.10" fill="#2f3ee8"/><ellipse cx="405.80" cy="157.50" rx="4.32" ry="6.73" fill="#1ccff5"/><ellipse cx="405.80" cy="157.50" rx="3.12" ry="5.10" fill="#4cd64a"/><ellipse cx="405.80" cy="157.50" rx="2.10" ry="3.73" fill="#eeee22"/><ellipse cx="405.80" cy="157.50" rx="1.32" ry="2.55" fill="#ff9a1e"/><ellipse cx="405.80" cy="157.50" rx="0.72" ry="1.36" fill="#ff3a22"/>
<path d="M416.14,149.70 L416.14,148.50 C416.14,145.86 419.59,144.66 420.74,143.70 C421.89,144.66 425.34,145.86 425.34,148.50 L425.34,149.70" fill="#fafafe" stroke="#6a70cc" stroke-width="0.65"/><rect x="419.60" y="145.29" width="1.25" height="1.06" fill="#2a34b4"/><rect x="419.51" y="143.08" width="1.25" height="1.06" fill="#2a34b4"/><rect x="420.14" y="142.83" width="1.25" height="1.06" fill="#2a34b4"/><rect x="419.81" y="145.36" width="1.25" height="1.06" fill="#2a34b4"/><rect x="421.04" y="144.88" width="1.25" height="1.06" fill="#2a34b4"/><rect x="420.43" y="145.21" width="1.25" height="1.06" fill="#2a34b4"/><rect x="421.17" y="144.01" width="1.25" height="1.06" fill="#2a34b4"/><rect x="420.64" y="142.36" width="1.25" height="1.06" fill="#2a34b4"/><rect x="420.67" y="143.69" width="1.25" height="1.06" fill="#2a34b4"/><rect x="420.72" y="144.33" width="1.25" height="1.06" fill="#2a34b4"/><rect x="419.60" y="142.36" width="1.25" height="1.06" fill="#2a34b4"/><rect x="421.88" y="133.10" width="0.80" height="0.68" fill="#9aa0d0"/><rect x="420.24" y="135.48" width="0.80" height="0.68" fill="#9aa0d0"/><rect x="419.61" y="139.83" width="0.80" height="0.68" fill="#9aa0d0"/><rect x="422.05" y="134.56" width="0.80" height="0.68" fill="#9aa0d0"/>
<ellipse cx="420.74" cy="156.70" rx="6.88" ry="11.40" fill="#dcdef5" stroke="#7a80d8" stroke-width="0.5"/><ellipse cx="420.74" cy="157.20" rx="6.38" ry="9.90" fill="#a8ace8" stroke="#5a62d0" stroke-width="0.5"/><ellipse cx="420.74" cy="157.50" rx="5.88" ry="8.80" fill="#2f3ee8"/><ellipse cx="420.74" cy="157.50" rx="4.23" ry="6.51" fill="#1ccff5"/><ellipse cx="420.74" cy="157.50" rx="3.06" ry="4.93" fill="#4cd64a"/><ellipse cx="420.74" cy="157.50" rx="2.06" ry="3.61" fill="#eeee22"/><ellipse cx="420.74" cy="157.50" rx="1.29" ry="2.46" fill="#ff9a1e"/><ellipse cx="420.74" cy="157.50" rx="0.71" ry="1.32" fill="#ff3a22"/>
<path d="M431.08,150.00 L431.08,148.80 C431.08,146.16 434.53,144.96 435.68,144.00 C436.83,144.96 440.28,146.16 440.28,148.80 L440.28,150.00" fill="#fafafe" stroke="#6a70cc" stroke-width="0.65"/><rect x="435.43" y="143.49" width="1.25" height="1.06" fill="#2a34b4"/><rect x="435.19" y="143.80" width="1.25" height="1.06" fill="#2a34b4"/><rect x="434.26" y="143.03" width="1.25" height="1.06" fill="#2a34b4"/><rect x="434.35" y="145.49" width="1.25" height="1.06" fill="#2a34b4"/><rect x="435.05" y="143.23" width="1.25" height="1.06" fill="#2a34b4"/><rect x="436.03" y="145.79" width="1.25" height="1.06" fill="#2a34b4"/><rect x="434.93" y="142.96" width="1.25" height="1.06" fill="#2a34b4"/><rect x="434.32" y="142.80" width="1.25" height="1.06" fill="#2a34b4"/><rect x="434.68" y="142.80" width="1.25" height="1.06" fill="#2a34b4"/><rect x="434.43" y="143.35" width="1.25" height="1.06" fill="#2a34b4"/><rect x="435.22" y="145.43" width="1.25" height="1.06" fill="#2a34b4"/><rect x="436.18" y="136.54" width="0.80" height="0.68" fill="#9aa0d0"/><rect x="434.97" y="137.77" width="0.80" height="0.68" fill="#9aa0d0"/><rect x="434.84" y="135.72" width="0.80" height="0.68" fill="#9aa0d0"/><rect x="433.70" y="135.05" width="0.80" height="0.68" fill="#9aa0d0"/>
<ellipse cx="435.68" cy="156.70" rx="6.76" ry="11.10" fill="#dcdef5" stroke="#7a80d8" stroke-width="0.5"/><ellipse cx="435.68" cy="157.20" rx="6.26" ry="9.60" fill="#a8ace8" stroke="#5a62d0" stroke-width="0.5"/><ellipse cx="435.68" cy="157.50" rx="5.76" ry="8.50" fill="#2f3ee8"/><ellipse cx="435.68" cy="157.50" rx="4.15" ry="6.29" fill="#1ccff5"/><ellipse cx="435.68" cy="157.50" rx="3.00" ry="4.76" fill="#4cd64a"/><ellipse cx="435.68" cy="157.50" rx="2.02" ry="3.48" fill="#eeee22"/><ellipse cx="435.68" cy="157.50" rx="1.27" ry="2.38" fill="#ff9a1e"/><ellipse cx="435.68" cy="157.50" rx="0.69" ry="1.27" fill="#ff3a22"/>
<path d="M446.02,150.30 L446.02,147.58 C446.02,141.60 449.47,138.88 450.62,136.70 C451.77,138.88 455.22,141.60 455.22,147.58 L455.22,150.30" fill="#fafafe" stroke="#6a70cc" stroke-width="0.65"/><path d="M447.40,150.30 L447.40,148.02 C447.40,142.99 449.81,140.70 450.62,138.88 C451.43,140.70 453.84,142.99 453.84,148.02 L453.84,150.30" fill="none" stroke="#6c72cc" stroke-width="0.6"/><rect x="451.12" y="135.90" width="1.25" height="1.06" fill="#2a34b4"/><rect x="450.00" y="138.71" width="1.25" height="1.06" fill="#2a34b4"/><rect x="450.87" y="136.41" width="1.25" height="1.06" fill="#2a34b4"/><rect x="449.45" y="136.59" width="1.25" height="1.06" fill="#2a34b4"/><rect x="449.75" y="137.69" width="1.25" height="1.06" fill="#2a34b4"/><rect x="451.08" y="139.94" width="1.25" height="1.06" fill="#2a34b4"/><rect x="450.89" y="135.32" width="1.25" height="1.06" fill="#2a34b4"/><rect x="448.87" y="139.16" width="1.25" height="1.06" fill="#2a34b4"/><rect x="450.94" y="137.84" width="1.25" height="1.06" fill="#2a34b4"/><rect x="450.20" y="135.20" width="1.25" height="1.06" fill="#2a34b4"/><rect x="449.73" y="140.37" width="1.25" height="1.06" fill="#2a34b4"/><rect x="451.39" y="134.11" width="0.80" height="0.68" fill="#9aa0d0"/><rect x="451.92" y="127.43" width="0.80" height="0.68" fill="#9aa0d0"/><rect x="448.81" y="126.40" width="0.80" height="0.68" fill="#9aa0d0"/><rect x="450.30" y="132.20" width="0.80" height="0.68" fill="#9aa0d0"/>
<ellipse cx="450.62" cy="156.70" rx="6.64" ry="10.80" fill="#dcdef5" stroke="#7a80d8" stroke-width="0.5"/><ellipse cx="450.62" cy="157.20" rx="6.14" ry="9.30" fill="#a8ace8" stroke="#5a62d0" stroke-width="0.5"/><ellipse cx="450.62" cy="157.50" rx="5.64" ry="8.20" fill="#2f3ee8"/><ellipse cx="450.62" cy="157.50" rx="4.06" ry="6.07" fill="#1ccff5"/><ellipse cx="450.62" cy="157.50" rx="2.93" ry="4.59" fill="#4cd64a"/><ellipse cx="450.62" cy="157.50" rx="1.97" ry="3.36" fill="#eeee22"/><ellipse cx="450.62" cy="157.50" rx="1.24" ry="2.30" fill="#ff9a1e"/>
<path d="M460.56,150.60 L460.56,146.18 C460.56,136.46 464.31,132.04 465.56,128.50 C466.81,132.04 470.56,136.46 470.56,146.18 L470.56,150.60" fill="#fafafe" stroke="#6a70cc" stroke-width="0.65"/><path d="M462.06,150.60 L462.06,146.89 C462.06,138.72 464.69,135.01 465.56,132.04 C466.44,135.01 469.06,138.72 469.06,146.89 L469.06,150.60" fill="none" stroke="#6c72cc" stroke-width="0.6"/><rect x="465.99" y="132.87" width="1.25" height="1.06" fill="#2a34b4"/><rect x="465.29" y="133.22" width="1.25" height="1.06" fill="#2a34b4"/><rect x="464.83" y="131.48" width="1.25" height="1.06" fill="#2a34b4"/><rect x="463.83" y="133.36" width="1.25" height="1.06" fill="#2a34b4"/><rect x="464.29" y="134.48" width="1.25" height="1.06" fill="#2a34b4"/><rect x="465.28" y="129.47" width="1.25" height="1.06" fill="#2a34b4"/><rect x="464.04" y="129.05" width="1.25" height="1.06" fill="#2a34b4"/><rect x="465.26" y="132.68" width="1.25" height="1.06" fill="#2a34b4"/><rect x="464.00" y="127.57" width="1.25" height="1.06" fill="#2a34b4"/><rect x="464.99" y="131.74" width="1.25" height="1.06" fill="#2a34b4"/><rect x="464.67" y="128.82" width="1.25" height="1.06" fill="#2a34b4"/><rect x="465.52" y="116.62" width="0.80" height="0.68" fill="#9aa0d0"/><rect x="464.45" y="121.57" width="0.80" height="0.68" fill="#9aa0d0"/><rect x="466.81" y="123.59" width="0.80" height="0.68" fill="#9aa0d0"/><rect x="466.54" y="121.73" width="0.80" height="0.68" fill="#9aa0d0"/>
<ellipse cx="465.56" cy="156.70" rx="6.52" ry="10.50" fill="#dcdef5" stroke="#7a80d8" stroke-width="0.5"/><ellipse cx="465.56" cy="157.20" rx="6.02" ry="9.00" fill="#a8ace8" stroke="#5a62d0" stroke-width="0.5"/><ellipse cx="465.56" cy="157.50" rx="5.52" ry="7.90" fill="#2f3ee8"/><ellipse cx="465.56" cy="157.50" rx="3.97" ry="5.85" fill="#1ccff5"/><ellipse cx="465.56" cy="157.50" rx="2.87" ry="4.42" fill="#4cd64a"/><ellipse cx="465.56" cy="157.50" rx="1.93" ry="3.24" fill="#eeee22"/>
<path d="M475.50,150.90 L475.50,145.46 C475.50,133.49 479.25,128.05 480.50,123.70 C481.75,128.05 485.50,133.49 485.50,145.46 L485.50,150.90" fill="#fafafe" stroke="#6a70cc" stroke-width="0.65"/><path d="M477.00,150.90 L477.00,146.33 C477.00,136.28 479.62,131.71 480.50,128.05 C481.38,131.71 484.00,136.28 484.00,146.33 L484.00,150.90" fill="none" stroke="#6c72cc" stroke-width="0.6"/><path d="M478.40,150.90 L478.40,147.31 C478.40,139.41 479.98,135.82 480.50,132.95 C481.02,135.82 482.60,139.41 482.60,147.31 L482.60,150.90" fill="none" stroke="#767cd0" stroke-width="0.55"/><path d="M479.60,148.18 L479.60,146.28 C479.60,142.09 480.27,140.18 480.50,138.66 C480.73,140.18 481.40,142.09 481.40,146.28 L481.40,148.18" fill="none" stroke="#8086d4" stroke-width="0.5"/><rect x="479.24" y="124.55" width="1.25" height="1.06" fill="#2a34b4"/><rect x="480.98" y="128.89" width="1.25" height="1.06" fill="#2a34b4"/><rect x="479.41" y="122.41" width="1.25" height="1.06" fill="#2a34b4"/><rect x="479.87" y="128.61" width="1.25" height="1.06" fill="#2a34b4"/><rect x="479.68" y="124.64" width="1.25" height="1.06" fill="#2a34b4"/><rect x="480.28" y="130.99" width="1.25" height="1.06" fill="#2a34b4"/><rect x="479.22" y="122.52" width="1.25" height="1.06" fill="#2a34b4"/><rect x="479.49" y="126.20" width="1.25" height="1.06" fill="#2a34b4"/><rect x="480.31" y="124.08" width="1.25" height="1.06" fill="#2a34b4"/><rect x="480.59" y="129.22" width="1.25" height="1.06" fill="#2a34b4"/><rect x="479.89" y="124.15" width="1.25" height="1.06" fill="#2a34b4"/><rect x="481.79" y="115.13" width="0.80" height="0.68" fill="#9aa0d0"/><rect x="481.25" y="114.24" width="0.80" height="0.68" fill="#9aa0d0"/><rect x="479.10" y="120.07" width="0.80" height="0.68" fill="#9aa0d0"/><rect x="479.36" y="122.17" width="0.80" height="0.68" fill="#9aa0d0"/>
<ellipse cx="480.50" cy="156.70" rx="6.40" ry="10.20" fill="#dcdef5" stroke="#7a80d8" stroke-width="0.5"/><ellipse cx="480.50" cy="157.20" rx="5.90" ry="8.70" fill="#a8ace8" stroke="#5a62d0" stroke-width="0.5"/><ellipse cx="480.50" cy="157.50" rx="5.40" ry="7.60" fill="#2f3ee8"/><ellipse cx="480.50" cy="157.50" rx="3.89" ry="5.62" fill="#1ccff5"/><ellipse cx="480.50" cy="157.50" rx="2.81" ry="4.26" fill="#4cd64a"/><ellipse cx="480.50" cy="157.50" rx="1.89" ry="3.12" fill="#eeee22"/>
<path d="M490.44,151.20 L490.44,139.50 C490.44,126.30 494.19,120.30 495.44,115.50 C496.69,120.30 500.44,126.30 500.44,139.50 L500.44,151.20" fill="#fafafe" stroke="#6a70cc" stroke-width="0.65"/><path d="M491.94,151.20 L491.94,145.20 C491.94,132.01 494.56,126.01 495.44,121.21 C496.31,126.01 498.94,132.01 498.94,145.20 L498.94,151.20" fill="none" stroke="#6c72cc" stroke-width="0.6"/><path d="M493.34,151.20 L493.34,146.49 C493.34,136.12 494.92,131.41 495.44,127.64 C495.96,131.41 497.54,136.12 497.54,146.49 L497.54,151.20" fill="none" stroke="#767cd0" stroke-width="0.55"/><path d="M494.54,147.63 L494.54,145.13 C494.54,139.63 495.21,137.13 495.44,135.13 C495.67,137.13 496.34,139.63 496.34,145.13 L496.34,147.63" fill="none" stroke="#8086d4" stroke-width="0.5"/><rect x="494.80" y="115.78" width="1.25" height="1.06" fill="#2a34b4"/><rect x="494.15" y="117.96" width="1.25" height="1.06" fill="#2a34b4"/><rect x="495.21" y="123.01" width="1.25" height="1.06" fill="#2a34b4"/><rect x="493.97" y="117.74" width="1.25" height="1.06" fill="#2a34b4"/><rect x="494.13" y="123.25" width="1.25" height="1.06" fill="#2a34b4"/><rect x="493.96" y="114.49" width="1.25" height="1.06" fill="#2a34b4"/><rect x="493.76" y="117.74" width="1.25" height="1.06" fill="#2a34b4"/><rect x="495.77" y="122.39" width="1.25" height="1.06" fill="#2a34b4"/><rect x="495.37" y="123.48" width="1.25" height="1.06" fill="#2a34b4"/><rect x="495.85" y="117.13" width="1.25" height="1.06" fill="#2a34b4"/><rect x="494.06" y="122.89" width="1.25" height="1.06" fill="#2a34b4"/><rect x="495.93" y="103.85" width="0.80" height="0.68" fill="#9aa0d0"/><rect x="495.63" y="107.66" width="0.80" height="0.68" fill="#9aa0d0"/><rect x="494.59" y="107.15" width="0.80" height="0.68" fill="#9aa0d0"/><rect x="493.85" y="103.53" width="0.80" height="0.68" fill="#9aa0d0"/>
<ellipse cx="495.44" cy="156.70" rx="6.28" ry="9.90" fill="#dcdef5" stroke="#7a80d8" stroke-width="0.5"/><ellipse cx="495.44" cy="157.20" rx="5.78" ry="8.40" fill="#a8ace8" stroke="#5a62d0" stroke-width="0.5"/><ellipse cx="495.44" cy="157.50" rx="5.28" ry="7.30" fill="#2f3ee8"/><ellipse cx="495.44" cy="157.50" rx="3.80" ry="5.40" fill="#1ccff5"/><ellipse cx="495.44" cy="157.50" rx="2.75" ry="4.09" fill="#4cd64a"/><ellipse cx="495.44" cy="157.50" rx="1.85" ry="2.99" fill="#eeee22"/>
<path d="M505.38,151.50 L505.38,138.30 C505.38,125.10 509.13,119.10 510.38,114.30 C511.63,119.10 515.38,125.10 515.38,138.30 L515.38,151.50" fill="#fafafe" stroke="#6a70cc" stroke-width="0.65"/><path d="M506.88,151.50 L506.88,144.25 C506.88,131.05 509.50,125.05 510.38,120.25 C511.25,125.05 513.88,131.05 513.88,144.25 L513.88,151.50" fill="none" stroke="#6c72cc" stroke-width="0.6"/><path d="M508.28,151.50 L508.28,146.59 C508.28,135.79 509.86,130.88 510.38,126.95 C510.90,130.88 512.48,135.79 512.48,146.59 L512.48,151.50" fill="none" stroke="#767cd0" stroke-width="0.55"/><path d="M509.48,147.78 L509.48,145.18 C509.48,139.45 510.15,136.84 510.38,134.76 C510.61,136.84 511.28,139.45 511.28,145.18 L511.28,147.78" fill="none" stroke="#8086d4" stroke-width="0.5"/><rect x="509.23" y="116.14" width="1.25" height="1.06" fill="#2a34b4"/><rect x="510.85" y="113.98" width="1.25" height="1.06" fill="#2a34b4"/><rect x="510.87" y="114.77" width="1.25" height="1.06" fill="#2a34b4"/><rect x="509.41" y="120.60" width="1.25" height="1.06" fill="#2a34b4"/><rect x="510.53" y="116.91" width="1.25" height="1.06" fill="#2a34b4"/><rect x="508.67" y="117.30" width="1.25" height="1.06" fill="#2a34b4"/><rect x="509.45" y="121.54" width="1.25" height="1.06" fill="#2a34b4"/><rect x="509.02" y="116.26" width="1.25" height="1.06" fill="#2a34b4"/><rect x="510.71" y="113.09" width="1.25" height="1.06" fill="#2a34b4"/><rect x="509.54" y="120.51" width="1.25" height="1.06" fill="#2a34b4"/><rect x="510.40" y="113.19" width="1.25" height="1.06" fill="#2a34b4"/><rect x="508.31" y="102.99" width="0.80" height="0.68" fill="#9aa0d0"/><rect x="511.49" y="105.13" width="0.80" height="0.68" fill="#9aa0d0"/><rect x="510.87" y="112.18" width="0.80" height="0.68" fill="#9aa0d0"/><rect x="509.40" y="105.30" width="0.80" height="0.68" fill="#9aa0d0"/>
<ellipse cx="510.38" cy="156.70" rx="6.16" ry="9.60" fill="#dcdef5" stroke="#7a80d8" stroke-width="0.5"/><ellipse cx="510.38" cy="157.20" rx="5.66" ry="8.10" fill="#a8ace8" stroke="#5a62d0" stroke-width="0.5"/><ellipse cx="510.38" cy="157.50" rx="5.16" ry="7.00" fill="#2f3ee8"/><ellipse cx="510.38" cy="157.50" rx="3.72" ry="5.18" fill="#1ccff5"/><ellipse cx="510.38" cy="157.50" rx="2.68" ry="3.92" fill="#4cd64a"/><ellipse cx="510.38" cy="157.50" rx="1.81" ry="2.87" fill="#eeee22"/>
<rect x="509.6" y="106.9" width="1" height="1" fill="#b4b8d0"/>
<rect x="431.3" y="114.8" width="1" height="1" fill="#b4b8d0"/>
<rect x="437.4" y="79.6" width="1" height="1" fill="#b4b8d0"/>
<rect x="402.2" y="118.0" width="1" height="1" fill="#b4b8d0"/>
<rect x="505.0" y="108.2" width="1" height="1" fill="#b4b8d0"/>
<rect x="508.0" y="59.4" width="1" height="1" fill="#b4b8d0"/>
<rect x="428.1" y="95.5" width="1" height="1" fill="#b4b8d0"/>
<rect x="509.5" y="133.8" width="1" height="1" fill="#b4b8d0"/>
<rect x="445.3" y="77.6" width="1" height="1" fill="#b4b8d0"/>
<rect x="450.2" y="97.0" width="1" height="1" fill="#b4b8d0"/>
<rect x="506.3" y="72.1" width="1" height="1" fill="#b4b8d0"/>
<rect x="492.2" y="116.6" width="1" height="1" fill="#b4b8d0"/>
<rect x="494.4" y="119.3" width="1" height="1" fill="#b4b8d0"/>
<rect x="470.2" y="83.7" width="1" height="1" fill="#b4b8d0"/>
<line x1="391.1" y1="167.7" x2="525.8" y2="167.7" stroke="#999" stroke-width="1.3"/>
<rect x="503.4" y="56.9" width="14.2" height="109.7" fill="#c4cec8" fill-opacity="0.12" stroke="#0e4a15" stroke-width="2.3"/>
<text x="404.6" y="44.0" font-size="12.8" fill="#333" stroke="#fff" stroke-width="0.22" textLength="43.7" lengthAdjust="spacingAndGlyphs">CAS -50</text>
<text x="410.7" y="175.4" text-anchor="end" font-size="7.4" fill="#222" stroke="#222" stroke-width="0.12" transform="rotate(-45 410.7 175.4)">8</text>
<text x="426.7" y="175.4" text-anchor="end" font-size="7.4" fill="#222" stroke="#222" stroke-width="0.12" transform="rotate(-45 426.7 175.4)">16</text>
<text x="442.0" y="175.4" text-anchor="end" font-size="7.4" fill="#222" stroke="#222" stroke-width="0.12" transform="rotate(-45 442.0 175.4)">32</text>
<text x="456.0" y="175.4" text-anchor="end" font-size="7.4" fill="#222" stroke="#222" stroke-width="0.12" transform="rotate(-45 456.0 175.4)">64</text>
<text x="471.7" y="175.4" text-anchor="end" font-size="7.4" fill="#222" stroke="#222" stroke-width="0.12" transform="rotate(-45 471.7 175.4)">125</text>
<text x="487.0" y="175.4" text-anchor="end" font-size="7.4" fill="#222" stroke="#222" stroke-width="0.12" transform="rotate(-45 487.0 175.4)">250</text>
<text x="505.3" y="175.4" text-anchor="end" font-size="7.4" fill="#222" stroke="#222" stroke-width="0.12" transform="rotate(-45 505.3 175.4)">500</text>
<text x="522.1" y="175.4" text-anchor="end" font-size="7.4" fill="#222" stroke="#222" stroke-width="0.12" transform="rotate(-45 522.1 175.4)">1000</text>
</g>
<line x1="50" y1="126.7" x2="532.3" y2="126.7" stroke="#1a5c22" stroke-width="2" stroke-dasharray="6.2,4.9"/>
<text x="288.2" y="200.4" text-anchor="middle" font-size="11.3" fill="#111" stroke="#111" stroke-width="0.14">Antibody Concentration (ng/test)</text>
<g>
<line x1="36.8" y1="399" x2="36.8" y2="559.7" stroke="#555" stroke-width="1.3"/>
<text x="34.1" y="424.2" text-anchor="end" font-family="Liberation Serif, serif" font-size="7.4" fill="#808080">10<tspan font-size="4.6" dy="-3.4">6</tspan></text>
<text x="34.1" y="461.7" text-anchor="end" font-family="Liberation Serif, serif" font-size="7.4" fill="#808080">10<tspan font-size="4.6" dy="-3.4">5</tspan></text>
<text x="34.1" y="505.3" text-anchor="end" font-family="Liberation Serif, serif" font-size="7.4" fill="#808080">10<tspan font-size="4.6" dy="-3.4">4</tspan></text>
<text x="34.1" y="546.8" text-anchor="end" font-family="Liberation Serif, serif" font-size="7.4" fill="#808080">10<tspan font-size="4.6" dy="-3.4">3</tspan></text>
<text x="34.1" y="560.6" text-anchor="end" font-family="Liberation Serif, serif" font-size="7.4" fill="#808080">-10<tspan font-size="4.6" dy="-3.4">3</tspan></text>
<rect x="156.0" y="423.0" width="14.4" height="135.3" fill="#e0e5e1"/>
<path d="M47.20,527.60 C47.20,514.87 51.10,502.70 53.20,499.30 C55.30,502.70 59.20,514.87 59.20,527.60 Z" fill="#f2f3fc" stroke="#6e76d4" stroke-width="0.5"/><path d="M49.40,527.60 C49.40,518.77 51.87,510.34 53.20,507.99 C54.53,510.34 57.00,518.77 57.00,527.60 Z" fill="none" stroke="#7a82da" stroke-width="0.5"/><rect x="52.14" y="500.19" width="1.25" height="1.06" fill="#2a34b4"/><rect x="53.25" y="499.26" width="1.25" height="1.06" fill="#2a34b4"/><rect x="51.85" y="501.48" width="1.25" height="1.06" fill="#2a34b4"/><rect x="51.97" y="499.21" width="1.25" height="1.06" fill="#2a34b4"/><rect x="51.46" y="500.82" width="1.25" height="1.06" fill="#2a34b4"/><rect x="52.16" y="502.23" width="1.25" height="1.06" fill="#2a34b4"/><rect x="53.50" y="502.26" width="1.25" height="1.06" fill="#2a34b4"/><rect x="52.01" y="499.28" width="1.25" height="1.06" fill="#2a34b4"/>
<ellipse cx="53.20" cy="537.90" rx="6.80" ry="19.30" fill="#e8e9f8" stroke="#8a90dc" stroke-width="0.5"/><ellipse cx="53.20" cy="539.30" rx="6.20" ry="16.60" fill="#c4c7ef" stroke="#6a72d6" stroke-width="0.5"/><ellipse cx="53.20" cy="540.00" rx="6.00" ry="15.20" fill="#9096e2" stroke="#5058cc" stroke-width="0.45"/><ellipse cx="53.20" cy="540.50" rx="5.20" ry="13.80" fill="#2f3ee8"/><ellipse cx="53.20" cy="540.50" rx="4.16" ry="12.70" fill="#1ccff5"/><ellipse cx="53.20" cy="540.50" rx="3.43" ry="11.32" fill="#4cd64a"/><ellipse cx="53.20" cy="540.50" rx="2.50" ry="9.38" fill="#eeee22"/><ellipse cx="53.20" cy="539.12" rx="1.87" ry="5.80" fill="#ff9a1e"/><ellipse cx="53.20" cy="538.57" rx="1.04" ry="3.04" fill="#ff3a22"/>
<path d="M62.89,527.60 C62.89,521.75 66.79,516.16 68.89,514.60 C70.99,516.16 74.89,521.75 74.89,527.60 Z" fill="#f2f3fc" stroke="#6e76d4" stroke-width="0.5"/><path d="M66.09,521.60 L66.09,517.32 C66.09,507.90 68.19,503.62 68.89,500.20 C69.59,503.62 71.69,507.90 71.69,517.32 L71.69,521.60" fill="#f6f6fd" stroke="#6a72d2" stroke-width="0.55"/><rect x="67.22" y="495.78" width="1.25" height="1.06" fill="#2a34b4"/><rect x="68.81" y="495.12" width="1.25" height="1.06" fill="#2a34b4"/><rect x="67.57" y="494.74" width="1.25" height="1.06" fill="#2a34b4"/><rect x="68.58" y="498.03" width="1.25" height="1.06" fill="#2a34b4"/><rect x="68.91" y="500.24" width="1.25" height="1.06" fill="#2a34b4"/><rect x="68.69" y="490.95" width="1.25" height="1.06" fill="#2a34b4"/><rect x="69.15" y="493.16" width="1.25" height="1.06" fill="#2a34b4"/><rect x="68.44" y="494.17" width="1.25" height="1.06" fill="#2a34b4"/><rect x="68.88" y="491.95" width="1.25" height="1.06" fill="#2a34b4"/><rect x="67.61" y="492.54" width="1.25" height="1.06" fill="#2a34b4"/><rect x="67.36" y="500.72" width="1.25" height="1.06" fill="#2a34b4"/><rect x="68.47" y="493.58" width="1.25" height="1.06" fill="#2a34b4"/><rect x="67.99" y="502.10" width="1.25" height="1.06" fill="#2a34b4"/><rect x="68.28" y="492.36" width="1.25" height="1.06" fill="#2a34b4"/><rect x="69.07" y="497.76" width="1.25" height="1.06" fill="#2a34b4"/><rect x="69.54" y="490.71" width="1.25" height="1.06" fill="#2a34b4"/><rect x="68.20" y="499.88" width="1.25" height="1.06" fill="#2a34b4"/><rect x="69.15" y="501.10" width="1.25" height="1.06" fill="#2a34b4"/><rect x="67.07" y="493.16" width="1.25" height="1.06" fill="#2a34b4"/><rect x="67.27" y="491.83" width="1.25" height="1.06" fill="#2a34b4"/><rect x="69.49" y="496.86" width="1.25" height="1.06" fill="#2a34b4"/><rect x="69.38" y="494.16" width="1.25" height="1.06" fill="#2a34b4"/><rect x="69.22" y="495.15" width="1.25" height="1.06" fill="#2a34b4"/>
<ellipse cx="68.89" cy="537.90" rx="6.80" ry="19.30" fill="#e8e9f8" stroke="#8a90dc" stroke-width="0.5"/><ellipse cx="68.89" cy="539.30" rx="6.20" ry="16.60" fill="#c4c7ef" stroke="#6a72d6" stroke-width="0.5"/><ellipse cx="68.89" cy="540.00" rx="6.00" ry="15.20" fill="#9096e2" stroke="#5058cc" stroke-width="0.45"/><ellipse cx="68.89" cy="540.50" rx="5.20" ry="13.80" fill="#2f3ee8"/><ellipse cx="68.89" cy="540.50" rx="4.16" ry="12.70" fill="#1ccff5"/><ellipse cx="68.89" cy="540.50" rx="3.43" ry="11.32" fill="#4cd64a"/><ellipse cx="68.89" cy="540.50" rx="2.50" ry="9.38" fill="#eeee22"/><ellipse cx="68.89" cy="539.12" rx="1.87" ry="5.80" fill="#ff9a1e"/><ellipse cx="68.89" cy="538.57" rx="1.04" ry="3.04" fill="#ff3a22"/>
<path d="M78.58,527.60 C78.58,520.40 82.48,513.52 84.58,511.60 C86.68,513.52 90.58,520.40 90.58,527.60 Z" fill="#f2f3fc" stroke="#6e76d4" stroke-width="0.5"/><path d="M82.98,505.10 L82.98,520.60 M86.18,505.10 L86.18,520.60" stroke="#6a72d2" stroke-width="0.5"/><rect x="83.09" y="516.16" width="1.35" height="1.15" fill="#2228a8"/><rect x="85.42" y="505.74" width="1.35" height="1.15" fill="#2228a8"/><rect x="84.23" y="513.71" width="1.35" height="1.15" fill="#2228a8"/><rect x="82.94" y="509.81" width="1.35" height="1.15" fill="#2228a8"/><rect x="82.69" y="507.26" width="1.35" height="1.15" fill="#2228a8"/><rect x="83.07" y="513.39" width="1.35" height="1.15" fill="#2228a8"/><rect x="84.42" y="507.25" width="1.35" height="1.15" fill="#2228a8"/><rect x="82.24" y="509.17" width="1.35" height="1.15" fill="#2228a8"/><rect x="84.51" y="506.97" width="1.35" height="1.15" fill="#2228a8"/><rect x="83.27" y="507.25" width="1.35" height="1.15" fill="#2228a8"/><rect x="84.91" y="512.59" width="1.35" height="1.15" fill="#2228a8"/><rect x="82.42" y="505.67" width="1.35" height="1.15" fill="#2228a8"/><rect x="83.55" y="512.63" width="1.35" height="1.15" fill="#2228a8"/><rect x="84.38" y="505.51" width="1.35" height="1.15" fill="#2228a8"/><rect x="82.76" y="514.88" width="1.35" height="1.15" fill="#2228a8"/><rect x="83.60" y="508.49" width="1.35" height="1.15" fill="#2228a8"/><rect x="83.25" y="518.87" width="1.35" height="1.15" fill="#2228a8"/><rect x="83.27" y="512.88" width="1.35" height="1.15" fill="#2228a8"/><rect x="83.42" y="510.55" width="1.35" height="1.15" fill="#2228a8"/><rect x="85.14" y="519.55" width="1.35" height="1.15" fill="#2228a8"/><rect x="83.44" y="507.16" width="1.35" height="1.15" fill="#2228a8"/><rect x="84.68" y="507.26" width="1.35" height="1.15" fill="#2228a8"/><rect x="82.22" y="518.08" width="1.35" height="1.15" fill="#2228a8"/><rect x="83.65" y="516.82" width="1.35" height="1.15" fill="#2228a8"/><rect x="83.59" y="517.78" width="1.35" height="1.15" fill="#2228a8"/><rect x="83.77" y="506.62" width="1.35" height="1.15" fill="#2228a8"/><rect x="82.26" y="512.65" width="1.35" height="1.15" fill="#2228a8"/><rect x="84.38" y="518.20" width="1.35" height="1.15" fill="#2228a8"/><rect x="82.51" y="513.74" width="1.35" height="1.15" fill="#2228a8"/><rect x="83.47" y="511.92" width="1.35" height="1.15" fill="#2228a8"/><rect x="82.70" y="508.49" width="1.35" height="1.15" fill="#2228a8"/><ellipse cx="84.58" cy="498.25" rx="2.8" ry="6.85" fill="#f6f6fd" stroke="#4f58c4" stroke-width="0.65"/><rect x="84.04" y="491.98" width="1.20" height="1.02" fill="#3038b4"/><rect x="82.96" y="486.63" width="1.20" height="1.02" fill="#3038b4"/><rect x="84.77" y="492.49" width="1.20" height="1.02" fill="#3038b4"/><rect x="83.19" y="482.16" width="1.20" height="1.02" fill="#3038b4"/><rect x="85.13" y="492.60" width="1.20" height="1.02" fill="#3038b4"/><rect x="83.94" y="481.26" width="1.20" height="1.02" fill="#3038b4"/><rect x="85.09" y="485.37" width="1.20" height="1.02" fill="#3038b4"/><rect x="85.03" y="488.23" width="1.20" height="1.02" fill="#3038b4"/><rect x="84.82" y="482.57" width="1.20" height="1.02" fill="#3038b4"/><rect x="84.72" y="483.33" width="1.20" height="1.02" fill="#3038b4"/><rect x="83.73" y="491.01" width="1.20" height="1.02" fill="#3038b4"/><rect x="84.84" y="482.85" width="1.20" height="1.02" fill="#3038b4"/><rect x="83.25" y="485.52" width="1.20" height="1.02" fill="#3038b4"/><rect x="84.03" y="485.32" width="1.20" height="1.02" fill="#3038b4"/><rect x="83.00" y="483.64" width="1.20" height="1.02" fill="#3038b4"/>
<ellipse cx="84.58" cy="537.90" rx="6.80" ry="19.30" fill="#e8e9f8" stroke="#8a90dc" stroke-width="0.5"/><ellipse cx="84.58" cy="539.30" rx="6.20" ry="16.60" fill="#c4c7ef" stroke="#6a72d6" stroke-width="0.5"/><ellipse cx="84.58" cy="540.00" rx="6.00" ry="15.20" fill="#9096e2" stroke="#5058cc" stroke-width="0.45"/><ellipse cx="84.58" cy="540.50" rx="5.20" ry="13.80" fill="#2f3ee8"/><ellipse cx="84.58" cy="540.50" rx="4.16" ry="12.70" fill="#1ccff5"/><ellipse cx="84.58" cy="540.50" rx="3.43" ry="11.32" fill="#4cd64a"/><ellipse cx="84.58" cy="540.50" rx="2.50" ry="9.38" fill="#eeee22"/><ellipse cx="84.58" cy="539.12" rx="1.87" ry="5.80" fill="#ff9a1e"/><ellipse cx="84.58" cy="538.57" rx="1.04" ry="3.04" fill="#ff3a22"/>
<path d="M94.27,527.60 C94.27,520.40 98.17,513.52 100.27,511.60 C102.37,513.52 106.27,520.40 106.27,527.60 Z" fill="#f2f3fc" stroke="#6e76d4" stroke-width="0.5"/><path d="M98.67,492.60 L98.67,520.60 M101.87,492.60 L101.87,520.60" stroke="#6a72d2" stroke-width="0.5"/><rect x="100.36" y="516.72" width="1.35" height="1.15" fill="#2228a8"/><rect x="98.03" y="507.35" width="1.35" height="1.15" fill="#2228a8"/><rect x="100.47" y="492.67" width="1.35" height="1.15" fill="#2228a8"/><rect x="100.74" y="494.90" width="1.35" height="1.15" fill="#2228a8"/><rect x="99.93" y="507.00" width="1.35" height="1.15" fill="#2228a8"/><rect x="100.03" y="500.17" width="1.35" height="1.15" fill="#2228a8"/><rect x="99.32" y="507.91" width="1.35" height="1.15" fill="#2228a8"/><rect x="99.34" y="510.05" width="1.35" height="1.15" fill="#2228a8"/><rect x="99.41" y="503.87" width="1.35" height="1.15" fill="#2228a8"/><rect x="97.97" y="508.93" width="1.35" height="1.15" fill="#2228a8"/><rect x="99.56" y="498.19" width="1.35" height="1.15" fill="#2228a8"/><rect x="100.49" y="513.44" width="1.35" height="1.15" fill="#2228a8"/><rect x="99.45" y="496.63" width="1.35" height="1.15" fill="#2228a8"/><rect x="99.50" y="494.60" width="1.35" height="1.15" fill="#2228a8"/><rect x="98.33" y="503.66" width="1.35" height="1.15" fill="#2228a8"/><rect x="98.21" y="503.98" width="1.35" height="1.15" fill="#2228a8"/><rect x="99.63" y="492.74" width="1.35" height="1.15" fill="#2228a8"/><rect x="100.06" y="493.90" width="1.35" height="1.15" fill="#2228a8"/><rect x="100.39" y="513.37" width="1.35" height="1.15" fill="#2228a8"/><rect x="99.63" y="493.12" width="1.35" height="1.15" fill="#2228a8"/><rect x="99.61" y="502.18" width="1.35" height="1.15" fill="#2228a8"/><rect x="101.13" y="495.41" width="1.35" height="1.15" fill="#2228a8"/><rect x="100.81" y="519.49" width="1.35" height="1.15" fill="#2228a8"/><rect x="100.38" y="514.42" width="1.35" height="1.15" fill="#2228a8"/><rect x="98.55" y="519.09" width="1.35" height="1.15" fill="#2228a8"/><rect x="99.57" y="518.39" width="1.35" height="1.15" fill="#2228a8"/><rect x="101.01" y="496.22" width="1.35" height="1.15" fill="#2228a8"/><rect x="100.58" y="517.66" width="1.35" height="1.15" fill="#2228a8"/><rect x="98.12" y="501.43" width="1.35" height="1.15" fill="#2228a8"/><rect x="100.47" y="496.05" width="1.35" height="1.15" fill="#2228a8"/><rect x="100.94" y="499.30" width="1.35" height="1.15" fill="#2228a8"/><rect x="100.67" y="495.62" width="1.35" height="1.15" fill="#2228a8"/><rect x="99.60" y="517.36" width="1.35" height="1.15" fill="#2228a8"/><rect x="98.60" y="498.96" width="1.35" height="1.15" fill="#2228a8"/><rect x="99.62" y="500.53" width="1.35" height="1.15" fill="#2228a8"/><rect x="98.02" y="496.70" width="1.35" height="1.15" fill="#2228a8"/><rect x="98.44" y="517.82" width="1.35" height="1.15" fill="#2228a8"/><rect x="100.21" y="516.67" width="1.35" height="1.15" fill="#2228a8"/><rect x="98.47" y="513.58" width="1.35" height="1.15" fill="#2228a8"/><rect x="98.29" y="506.46" width="1.35" height="1.15" fill="#2228a8"/><rect x="100.06" y="501.67" width="1.35" height="1.15" fill="#2228a8"/><rect x="100.86" y="507.15" width="1.35" height="1.15" fill="#2228a8"/><rect x="99.87" y="516.31" width="1.35" height="1.15" fill="#2228a8"/><rect x="98.25" y="519.40" width="1.35" height="1.15" fill="#2228a8"/><rect x="100.04" y="502.64" width="1.35" height="1.15" fill="#2228a8"/><rect x="100.61" y="499.01" width="1.35" height="1.15" fill="#2228a8"/><rect x="101.26" y="507.77" width="1.35" height="1.15" fill="#2228a8"/><rect x="99.12" y="513.01" width="1.35" height="1.15" fill="#2228a8"/><rect x="99.40" y="496.55" width="1.35" height="1.15" fill="#2228a8"/><rect x="100.42" y="492.95" width="1.35" height="1.15" fill="#2228a8"/><rect x="100.68" y="498.70" width="1.35" height="1.15" fill="#2228a8"/><rect x="100.07" y="519.15" width="1.35" height="1.15" fill="#2228a8"/><rect x="99.89" y="510.18" width="1.35" height="1.15" fill="#2228a8"/><rect x="98.96" y="491.65" width="1.35" height="1.15" fill="#2228a8"/><rect x="98.01" y="495.78" width="1.35" height="1.15" fill="#2228a8"/><rect x="99.99" y="503.70" width="1.35" height="1.15" fill="#2228a8"/><rect x="99.64" y="516.68" width="1.35" height="1.15" fill="#2228a8"/><rect x="98.34" y="497.96" width="1.35" height="1.15" fill="#2228a8"/><rect x="100.12" y="492.22" width="1.35" height="1.15" fill="#2228a8"/><ellipse cx="100.27" cy="482.60" rx="2.8" ry="10.00" fill="#f6f6fd" stroke="#4f58c4" stroke-width="0.65"/><rect x="98.38" y="470.81" width="1.20" height="1.02" fill="#3038b4"/><rect x="98.65" y="470.82" width="1.20" height="1.02" fill="#3038b4"/><rect x="98.95" y="471.98" width="1.20" height="1.02" fill="#3038b4"/><rect x="99.90" y="470.04" width="1.20" height="1.02" fill="#3038b4"/><rect x="99.99" y="471.42" width="1.20" height="1.02" fill="#3038b4"/><rect x="98.72" y="473.78" width="1.20" height="1.02" fill="#3038b4"/><rect x="99.00" y="469.76" width="1.20" height="1.02" fill="#3038b4"/>
<ellipse cx="100.27" cy="537.90" rx="6.80" ry="19.30" fill="#e8e9f8" stroke="#8a90dc" stroke-width="0.5"/><ellipse cx="100.27" cy="539.30" rx="6.20" ry="16.60" fill="#c4c7ef" stroke="#6a72d6" stroke-width="0.5"/><ellipse cx="100.27" cy="540.00" rx="6.00" ry="15.20" fill="#9096e2" stroke="#5058cc" stroke-width="0.45"/><ellipse cx="100.27" cy="540.50" rx="5.20" ry="13.80" fill="#2f3ee8"/><ellipse cx="100.27" cy="540.50" rx="4.16" ry="12.70" fill="#1ccff5"/><ellipse cx="100.27" cy="540.50" rx="3.43" ry="11.32" fill="#4cd64a"/><ellipse cx="100.27" cy="540.50" rx="2.50" ry="9.38" fill="#eeee22"/><ellipse cx="100.27" cy="539.12" rx="1.87" ry="5.80" fill="#ff9a1e"/><ellipse cx="100.27" cy="538.57" rx="1.04" ry="3.04" fill="#ff3a22"/>
<path d="M109.96,527.60 C109.96,520.40 113.86,513.52 115.96,511.60 C118.06,513.52 121.96,520.40 121.96,527.60 Z" fill="#f2f3fc" stroke="#6e76d4" stroke-width="0.5"/><path d="M114.36,485.00 L114.36,520.60 M117.56,485.00 L117.56,520.60" stroke="#6a72d2" stroke-width="0.5"/><rect x="113.91" y="506.72" width="1.35" height="1.15" fill="#2228a8"/><rect x="116.55" y="511.84" width="1.35" height="1.15" fill="#2228a8"/><rect x="114.95" y="493.41" width="1.35" height="1.15" fill="#2228a8"/><rect x="113.62" y="506.96" width="1.35" height="1.15" fill="#2228a8"/><rect x="115.50" y="496.47" width="1.35" height="1.15" fill="#2228a8"/><rect x="115.78" y="499.80" width="1.35" height="1.15" fill="#2228a8"/><rect x="116.77" y="510.11" width="1.35" height="1.15" fill="#2228a8"/><rect x="114.43" y="516.16" width="1.35" height="1.15" fill="#2228a8"/><rect x="113.73" y="502.92" width="1.35" height="1.15" fill="#2228a8"/><rect x="114.97" y="492.46" width="1.35" height="1.15" fill="#2228a8"/><rect x="113.78" y="511.73" width="1.35" height="1.15" fill="#2228a8"/><rect x="113.63" y="503.61" width="1.35" height="1.15" fill="#2228a8"/><rect x="116.78" y="489.06" width="1.35" height="1.15" fill="#2228a8"/><rect x="114.26" y="505.65" width="1.35" height="1.15" fill="#2228a8"/><rect x="115.31" y="506.84" width="1.35" height="1.15" fill="#2228a8"/><rect x="116.35" y="490.22" width="1.35" height="1.15" fill="#2228a8"/><rect x="114.64" y="494.69" width="1.35" height="1.15" fill="#2228a8"/><rect x="113.75" y="515.66" width="1.35" height="1.15" fill="#2228a8"/><rect x="116.25" y="509.47" width="1.35" height="1.15" fill="#2228a8"/><rect x="113.61" y="514.06" width="1.35" height="1.15" fill="#2228a8"/><rect x="116.12" y="500.56" width="1.35" height="1.15" fill="#2228a8"/><rect x="116.11" y="500.11" width="1.35" height="1.15" fill="#2228a8"/><rect x="114.35" y="487.75" width="1.35" height="1.15" fill="#2228a8"/><rect x="114.37" y="485.38" width="1.35" height="1.15" fill="#2228a8"/><rect x="114.73" y="510.69" width="1.35" height="1.15" fill="#2228a8"/><rect x="115.95" y="514.09" width="1.35" height="1.15" fill="#2228a8"/><rect x="116.00" y="493.47" width="1.35" height="1.15" fill="#2228a8"/><rect x="115.47" y="499.52" width="1.35" height="1.15" fill="#2228a8"/><rect x="116.27" y="502.63" width="1.35" height="1.15" fill="#2228a8"/><rect x="114.49" y="506.86" width="1.35" height="1.15" fill="#2228a8"/><rect x="116.87" y="491.73" width="1.35" height="1.15" fill="#2228a8"/><rect x="116.58" y="484.54" width="1.35" height="1.15" fill="#2228a8"/><rect x="114.47" y="492.41" width="1.35" height="1.15" fill="#2228a8"/><rect x="116.11" y="517.63" width="1.35" height="1.15" fill="#2228a8"/><rect x="116.12" y="495.64" width="1.35" height="1.15" fill="#2228a8"/><rect x="116.58" y="495.70" width="1.35" height="1.15" fill="#2228a8"/><rect x="114.40" y="516.31" width="1.35" height="1.15" fill="#2228a8"/><rect x="115.73" y="508.67" width="1.35" height="1.15" fill="#2228a8"/><rect x="115.85" y="518.85" width="1.35" height="1.15" fill="#2228a8"/><rect x="115.18" y="513.89" width="1.35" height="1.15" fill="#2228a8"/><rect x="115.96" y="514.53" width="1.35" height="1.15" fill="#2228a8"/><rect x="115.07" y="509.80" width="1.35" height="1.15" fill="#2228a8"/><rect x="115.52" y="494.96" width="1.35" height="1.15" fill="#2228a8"/><rect x="114.31" y="506.17" width="1.35" height="1.15" fill="#2228a8"/><rect x="113.85" y="516.42" width="1.35" height="1.15" fill="#2228a8"/><rect x="114.08" y="484.96" width="1.35" height="1.15" fill="#2228a8"/><rect x="113.95" y="517.07" width="1.35" height="1.15" fill="#2228a8"/><rect x="114.76" y="489.05" width="1.35" height="1.15" fill="#2228a8"/><rect x="113.68" y="485.48" width="1.35" height="1.15" fill="#2228a8"/><rect x="115.94" y="506.57" width="1.35" height="1.15" fill="#2228a8"/><rect x="115.95" y="510.23" width="1.35" height="1.15" fill="#2228a8"/><rect x="113.81" y="505.02" width="1.35" height="1.15" fill="#2228a8"/><rect x="114.82" y="513.11" width="1.35" height="1.15" fill="#2228a8"/><rect x="116.37" y="515.73" width="1.35" height="1.15" fill="#2228a8"/><rect x="113.81" y="514.89" width="1.35" height="1.15" fill="#2228a8"/><rect x="116.69" y="517.62" width="1.35" height="1.15" fill="#2228a8"/><rect x="113.95" y="491.32" width="1.35" height="1.15" fill="#2228a8"/><rect x="113.97" y="485.23" width="1.35" height="1.15" fill="#2228a8"/><rect x="116.47" y="512.91" width="1.35" height="1.15" fill="#2228a8"/><rect x="115.74" y="513.37" width="1.35" height="1.15" fill="#2228a8"/><rect x="115.73" y="494.23" width="1.35" height="1.15" fill="#2228a8"/><rect x="113.92" y="487.48" width="1.35" height="1.15" fill="#2228a8"/><rect x="116.16" y="491.30" width="1.35" height="1.15" fill="#2228a8"/><rect x="114.67" y="499.09" width="1.35" height="1.15" fill="#2228a8"/><rect x="113.66" y="493.14" width="1.35" height="1.15" fill="#2228a8"/><rect x="114.55" y="509.48" width="1.35" height="1.15" fill="#2228a8"/><rect x="114.84" y="495.42" width="1.35" height="1.15" fill="#2228a8"/><rect x="116.86" y="501.93" width="1.35" height="1.15" fill="#2228a8"/><rect x="116.48" y="506.01" width="1.35" height="1.15" fill="#2228a8"/><rect x="113.69" y="498.70" width="1.35" height="1.15" fill="#2228a8"/><rect x="115.07" y="511.52" width="1.35" height="1.15" fill="#2228a8"/><rect x="114.76" y="509.09" width="1.35" height="1.15" fill="#2228a8"/><rect x="115.41" y="491.71" width="1.35" height="1.15" fill="#2228a8"/><rect x="116.52" y="487.24" width="1.35" height="1.15" fill="#2228a8"/><rect x="116.37" y="490.07" width="1.35" height="1.15" fill="#2228a8"/><ellipse cx="115.96" cy="475.00" rx="2.8" ry="10.00" fill="#f6f6fd" stroke="#4f58c4" stroke-width="0.65"/><rect x="114.06" y="462.67" width="1.20" height="1.02" fill="#3038b4"/><rect x="116.04" y="466.39" width="1.20" height="1.02" fill="#3038b4"/><rect x="114.07" y="464.06" width="1.20" height="1.02" fill="#3038b4"/><rect x="115.34" y="465.52" width="1.20" height="1.02" fill="#3038b4"/><rect x="114.54" y="464.07" width="1.20" height="1.02" fill="#3038b4"/><rect x="114.96" y="465.69" width="1.20" height="1.02" fill="#3038b4"/>
<ellipse cx="115.96" cy="537.90" rx="6.80" ry="19.30" fill="#e8e9f8" stroke="#8a90dc" stroke-width="0.5"/><ellipse cx="115.96" cy="539.30" rx="6.20" ry="16.60" fill="#c4c7ef" stroke="#6a72d6" stroke-width="0.5"/><ellipse cx="115.96" cy="540.00" rx="6.00" ry="15.20" fill="#9096e2" stroke="#5058cc" stroke-width="0.45"/><ellipse cx="115.96" cy="540.50" rx="5.20" ry="13.80" fill="#2f3ee8"/><ellipse cx="115.96" cy="540.50" rx="4.16" ry="12.70" fill="#1ccff5"/><ellipse cx="115.96" cy="540.50" rx="3.43" ry="11.32" fill="#4cd64a"/><ellipse cx="115.96" cy="540.50" rx="2.50" ry="9.38" fill="#eeee22"/><ellipse cx="115.96" cy="539.12" rx="1.87" ry="5.80" fill="#ff9a1e"/><ellipse cx="115.96" cy="538.57" rx="1.04" ry="3.04" fill="#ff3a22"/>
<path d="M125.65,527.60 C125.65,520.40 129.55,513.52 131.65,511.60 C133.75,513.52 137.65,520.40 137.65,527.60 Z" fill="#f2f3fc" stroke="#6e76d4" stroke-width="0.5"/><path d="M130.05,469.00 L130.05,520.60 M133.25,469.00 L133.25,520.60" stroke="#6a72d2" stroke-width="0.5"/><rect x="130.16" y="516.70" width="1.35" height="1.15" fill="#2228a8"/><rect x="130.24" y="479.08" width="1.35" height="1.15" fill="#2228a8"/><rect x="131.65" y="493.71" width="1.35" height="1.15" fill="#2228a8"/><rect x="129.65" y="500.85" width="1.35" height="1.15" fill="#2228a8"/><rect x="129.55" y="508.66" width="1.35" height="1.15" fill="#2228a8"/><rect x="131.65" y="508.61" width="1.35" height="1.15" fill="#2228a8"/><rect x="131.41" y="486.35" width="1.35" height="1.15" fill="#2228a8"/><rect x="130.64" y="488.36" width="1.35" height="1.15" fill="#2228a8"/><rect x="132.30" y="472.45" width="1.35" height="1.15" fill="#2228a8"/><rect x="132.30" y="469.30" width="1.35" height="1.15" fill="#2228a8"/><rect x="129.98" y="481.58" width="1.35" height="1.15" fill="#2228a8"/><rect x="132.34" y="493.86" width="1.35" height="1.15" fill="#2228a8"/><rect x="130.56" y="513.61" width="1.35" height="1.15" fill="#2228a8"/><rect x="130.07" y="491.78" width="1.35" height="1.15" fill="#2228a8"/><rect x="131.08" y="506.93" width="1.35" height="1.15" fill="#2228a8"/><rect x="131.84" y="501.35" width="1.35" height="1.15" fill="#2228a8"/><rect x="130.46" y="484.86" width="1.35" height="1.15" fill="#2228a8"/><rect x="129.80" y="511.50" width="1.35" height="1.15" fill="#2228a8"/><rect x="131.53" y="506.29" width="1.35" height="1.15" fill="#2228a8"/><rect x="129.85" y="490.64" width="1.35" height="1.15" fill="#2228a8"/><rect x="131.90" y="497.89" width="1.35" height="1.15" fill="#2228a8"/><rect x="129.70" y="491.84" width="1.35" height="1.15" fill="#2228a8"/><rect x="132.28" y="480.28" width="1.35" height="1.15" fill="#2228a8"/><rect x="129.93" y="483.56" width="1.35" height="1.15" fill="#2228a8"/><rect x="131.67" y="511.53" width="1.35" height="1.15" fill="#2228a8"/><rect x="129.80" y="476.05" width="1.35" height="1.15" fill="#2228a8"/><rect x="130.12" y="484.85" width="1.35" height="1.15" fill="#2228a8"/><rect x="131.05" y="476.30" width="1.35" height="1.15" fill="#2228a8"/><rect x="130.39" y="477.77" width="1.35" height="1.15" fill="#2228a8"/><rect x="132.59" y="505.60" width="1.35" height="1.15" fill="#2228a8"/><rect x="129.62" y="517.66" width="1.35" height="1.15" fill="#2228a8"/><rect x="129.62" y="487.83" width="1.35" height="1.15" fill="#2228a8"/><rect x="132.62" y="509.02" width="1.35" height="1.15" fill="#2228a8"/><rect x="131.77" y="490.44" width="1.35" height="1.15" fill="#2228a8"/><rect x="129.94" y="500.92" width="1.35" height="1.15" fill="#2228a8"/><rect x="129.64" y="478.65" width="1.35" height="1.15" fill="#2228a8"/><rect x="130.60" y="469.75" width="1.35" height="1.15" fill="#2228a8"/><rect x="130.63" y="508.82" width="1.35" height="1.15" fill="#2228a8"/><rect x="131.63" y="493.83" width="1.35" height="1.15" fill="#2228a8"/><rect x="131.43" y="491.91" width="1.35" height="1.15" fill="#2228a8"/><rect x="129.76" y="499.15" width="1.35" height="1.15" fill="#2228a8"/><rect x="130.65" y="506.23" width="1.35" height="1.15" fill="#2228a8"/><rect x="132.36" y="490.19" width="1.35" height="1.15" fill="#2228a8"/><rect x="131.23" y="506.65" width="1.35" height="1.15" fill="#2228a8"/><rect x="130.71" y="479.79" width="1.35" height="1.15" fill="#2228a8"/><rect x="131.73" y="513.41" width="1.35" height="1.15" fill="#2228a8"/><rect x="131.91" y="504.12" width="1.35" height="1.15" fill="#2228a8"/><rect x="132.17" y="503.07" width="1.35" height="1.15" fill="#2228a8"/><rect x="131.46" y="491.42" width="1.35" height="1.15" fill="#2228a8"/><rect x="130.34" y="500.42" width="1.35" height="1.15" fill="#2228a8"/><rect x="129.61" y="489.65" width="1.35" height="1.15" fill="#2228a8"/><rect x="131.94" y="504.80" width="1.35" height="1.15" fill="#2228a8"/><rect x="131.42" y="480.90" width="1.35" height="1.15" fill="#2228a8"/><rect x="130.72" y="491.49" width="1.35" height="1.15" fill="#2228a8"/><rect x="131.39" y="489.12" width="1.35" height="1.15" fill="#2228a8"/><rect x="131.57" y="516.00" width="1.35" height="1.15" fill="#2228a8"/><rect x="129.90" y="501.77" width="1.35" height="1.15" fill="#2228a8"/><rect x="131.92" y="488.06" width="1.35" height="1.15" fill="#2228a8"/><rect x="130.94" y="518.29" width="1.35" height="1.15" fill="#2228a8"/><rect x="129.40" y="496.04" width="1.35" height="1.15" fill="#2228a8"/><rect x="129.82" y="508.34" width="1.35" height="1.15" fill="#2228a8"/><rect x="132.47" y="494.79" width="1.35" height="1.15" fill="#2228a8"/><rect x="129.62" y="497.65" width="1.35" height="1.15" fill="#2228a8"/><rect x="131.11" y="505.01" width="1.35" height="1.15" fill="#2228a8"/><rect x="131.02" y="500.99" width="1.35" height="1.15" fill="#2228a8"/><rect x="132.09" y="494.92" width="1.35" height="1.15" fill="#2228a8"/><rect x="130.67" y="516.92" width="1.35" height="1.15" fill="#2228a8"/><rect x="129.99" y="503.31" width="1.35" height="1.15" fill="#2228a8"/><rect x="130.61" y="507.36" width="1.35" height="1.15" fill="#2228a8"/><rect x="129.69" y="518.80" width="1.35" height="1.15" fill="#2228a8"/><rect x="130.48" y="470.92" width="1.35" height="1.15" fill="#2228a8"/><rect x="130.21" y="488.62" width="1.35" height="1.15" fill="#2228a8"/><rect x="129.32" y="489.60" width="1.35" height="1.15" fill="#2228a8"/><rect x="130.70" y="504.03" width="1.35" height="1.15" fill="#2228a8"/><rect x="130.47" y="481.68" width="1.35" height="1.15" fill="#2228a8"/><rect x="130.04" y="506.26" width="1.35" height="1.15" fill="#2228a8"/><rect x="132.47" y="495.20" width="1.35" height="1.15" fill="#2228a8"/><rect x="130.02" y="509.36" width="1.35" height="1.15" fill="#2228a8"/><rect x="130.61" y="478.94" width="1.35" height="1.15" fill="#2228a8"/><rect x="129.71" y="508.07" width="1.35" height="1.15" fill="#2228a8"/><rect x="132.03" y="500.73" width="1.35" height="1.15" fill="#2228a8"/><rect x="130.87" y="497.00" width="1.35" height="1.15" fill="#2228a8"/><rect x="130.04" y="517.74" width="1.35" height="1.15" fill="#2228a8"/><rect x="130.48" y="500.96" width="1.35" height="1.15" fill="#2228a8"/><rect x="132.06" y="510.11" width="1.35" height="1.15" fill="#2228a8"/><rect x="130.87" y="483.19" width="1.35" height="1.15" fill="#2228a8"/><rect x="131.14" y="474.46" width="1.35" height="1.15" fill="#2228a8"/><rect x="132.11" y="486.30" width="1.35" height="1.15" fill="#2228a8"/><rect x="132.17" y="481.80" width="1.35" height="1.15" fill="#2228a8"/><rect x="130.55" y="481.08" width="1.35" height="1.15" fill="#2228a8"/><rect x="130.72" y="477.59" width="1.35" height="1.15" fill="#2228a8"/><rect x="129.28" y="505.24" width="1.35" height="1.15" fill="#2228a8"/><rect x="130.23" y="480.64" width="1.35" height="1.15" fill="#2228a8"/><rect x="130.30" y="492.74" width="1.35" height="1.15" fill="#2228a8"/><rect x="130.73" y="500.88" width="1.35" height="1.15" fill="#2228a8"/><rect x="131.52" y="486.70" width="1.35" height="1.15" fill="#2228a8"/><rect x="132.43" y="512.09" width="1.35" height="1.15" fill="#2228a8"/><rect x="129.47" y="510.72" width="1.35" height="1.15" fill="#2228a8"/><rect x="132.35" y="508.46" width="1.35" height="1.15" fill="#2228a8"/><rect x="129.75" y="510.90" width="1.35" height="1.15" fill="#2228a8"/><rect x="131.43" y="468.77" width="1.35" height="1.15" fill="#2228a8"/><rect x="129.31" y="517.11" width="1.35" height="1.15" fill="#2228a8"/><rect x="131.51" y="480.90" width="1.35" height="1.15" fill="#2228a8"/><rect x="129.62" y="475.36" width="1.35" height="1.15" fill="#2228a8"/><rect x="130.07" y="508.06" width="1.35" height="1.15" fill="#2228a8"/><rect x="130.45" y="475.88" width="1.35" height="1.15" fill="#2228a8"/><rect x="132.35" y="508.85" width="1.35" height="1.15" fill="#2228a8"/><rect x="129.85" y="513.98" width="1.35" height="1.15" fill="#2228a8"/><rect x="131.34" y="508.31" width="1.35" height="1.15" fill="#2228a8"/><rect x="131.55" y="514.13" width="1.35" height="1.15" fill="#2228a8"/><rect x="131.95" y="511.28" width="1.35" height="1.15" fill="#2228a8"/><ellipse cx="131.65" cy="461.75" rx="2.8" ry="7.25" fill="#f6f6fd" stroke="#4f58c4" stroke-width="0.65"/><rect x="130.26" y="454.43" width="1.20" height="1.02" fill="#3038b4"/><rect x="131.13" y="454.68" width="1.20" height="1.02" fill="#3038b4"/><rect x="130.89" y="455.40" width="1.20" height="1.02" fill="#3038b4"/><rect x="131.19" y="452.25" width="1.20" height="1.02" fill="#3038b4"/><rect x="130.36" y="451.61" width="1.20" height="1.02" fill="#3038b4"/><rect x="131.03" y="451.20" width="1.20" height="1.02" fill="#3038b4"/><rect x="130.96" y="451.64" width="1.20" height="1.02" fill="#3038b4"/>
<ellipse cx="131.65" cy="537.90" rx="6.80" ry="19.30" fill="#e8e9f8" stroke="#8a90dc" stroke-width="0.5"/><ellipse cx="131.65" cy="539.30" rx="6.20" ry="16.60" fill="#c4c7ef" stroke="#6a72d6" stroke-width="0.5"/><ellipse cx="131.65" cy="540.00" rx="6.00" ry="15.20" fill="#9096e2" stroke="#5058cc" stroke-width="0.45"/><ellipse cx="131.65" cy="540.50" rx="5.20" ry="13.80" fill="#2f3ee8"/><ellipse cx="131.65" cy="540.50" rx="4.16" ry="12.70" fill="#1ccff5"/><ellipse cx="131.65" cy="540.50" rx="3.43" ry="11.32" fill="#4cd64a"/><ellipse cx="131.65" cy="540.50" rx="2.50" ry="9.38" fill="#eeee22"/><ellipse cx="131.65" cy="539.12" rx="1.87" ry="5.80" fill="#ff9a1e"/><ellipse cx="131.65" cy="538.57" rx="1.04" ry="3.04" fill="#ff3a22"/>
<path d="M141.34,527.60 C141.34,520.40 145.24,513.52 147.34,511.60 C149.44,513.52 153.34,520.40 153.34,527.60 Z" fill="#f2f3fc" stroke="#6e76d4" stroke-width="0.5"/><path d="M145.74,461.70 L145.74,520.60 M148.94,461.70 L148.94,520.60" stroke="#6a72d2" stroke-width="0.5"/><rect x="146.64" y="490.04" width="1.35" height="1.15" fill="#2228a8"/><rect x="146.80" y="511.52" width="1.35" height="1.15" fill="#2228a8"/><rect x="144.99" y="510.22" width="1.35" height="1.15" fill="#2228a8"/><rect x="146.56" y="493.84" width="1.35" height="1.15" fill="#2228a8"/><rect x="147.23" y="510.21" width="1.35" height="1.15" fill="#2228a8"/><rect x="146.24" y="485.37" width="1.35" height="1.15" fill="#2228a8"/><rect x="148.23" y="465.14" width="1.35" height="1.15" fill="#2228a8"/><rect x="147.13" y="498.17" width="1.35" height="1.15" fill="#2228a8"/><rect x="145.06" y="496.61" width="1.35" height="1.15" fill="#2228a8"/><rect x="147.29" y="515.56" width="1.35" height="1.15" fill="#2228a8"/><rect x="146.09" y="518.52" width="1.35" height="1.15" fill="#2228a8"/><rect x="146.70" y="489.25" width="1.35" height="1.15" fill="#2228a8"/><rect x="148.02" y="462.70" width="1.35" height="1.15" fill="#2228a8"/><rect x="147.41" y="497.53" width="1.35" height="1.15" fill="#2228a8"/><rect x="146.12" y="511.45" width="1.35" height="1.15" fill="#2228a8"/><rect x="146.21" y="488.65" width="1.35" height="1.15" fill="#2228a8"/><rect x="146.75" y="506.09" width="1.35" height="1.15" fill="#2228a8"/><rect x="145.68" y="486.33" width="1.35" height="1.15" fill="#2228a8"/><rect x="146.40" y="493.33" width="1.35" height="1.15" fill="#2228a8"/><rect x="147.78" y="477.95" width="1.35" height="1.15" fill="#2228a8"/><rect x="147.78" y="484.48" width="1.35" height="1.15" fill="#2228a8"/><rect x="146.68" y="476.70" width="1.35" height="1.15" fill="#2228a8"/><rect x="146.69" y="518.13" width="1.35" height="1.15" fill="#2228a8"/><rect x="147.19" y="507.35" width="1.35" height="1.15" fill="#2228a8"/><rect x="146.09" y="479.38" width="1.35" height="1.15" fill="#2228a8"/><rect x="145.98" y="495.24" width="1.35" height="1.15" fill="#2228a8"/><rect x="147.12" y="506.89" width="1.35" height="1.15" fill="#2228a8"/><rect x="145.10" y="503.27" width="1.35" height="1.15" fill="#2228a8"/><rect x="147.98" y="492.82" width="1.35" height="1.15" fill="#2228a8"/><rect x="145.13" y="478.39" width="1.35" height="1.15" fill="#2228a8"/><rect x="144.99" y="471.89" width="1.35" height="1.15" fill="#2228a8"/><rect x="148.10" y="496.55" width="1.35" height="1.15" fill="#2228a8"/><rect x="147.20" y="507.17" width="1.35" height="1.15" fill="#2228a8"/><rect x="148.06" y="496.73" width="1.35" height="1.15" fill="#2228a8"/><rect x="147.06" y="497.62" width="1.35" height="1.15" fill="#2228a8"/><rect x="147.33" y="495.82" width="1.35" height="1.15" fill="#2228a8"/><rect x="147.28" y="473.22" width="1.35" height="1.15" fill="#2228a8"/><rect x="147.23" y="487.67" width="1.35" height="1.15" fill="#2228a8"/><rect x="147.56" y="466.67" width="1.35" height="1.15" fill="#2228a8"/><rect x="145.58" y="462.88" width="1.35" height="1.15" fill="#2228a8"/><rect x="147.60" y="514.54" width="1.35" height="1.15" fill="#2228a8"/><rect x="147.19" y="482.43" width="1.35" height="1.15" fill="#2228a8"/><rect x="147.76" y="507.03" width="1.35" height="1.15" fill="#2228a8"/><rect x="146.88" y="475.90" width="1.35" height="1.15" fill="#2228a8"/><rect x="145.99" y="485.54" width="1.35" height="1.15" fill="#2228a8"/><rect x="146.05" y="486.07" width="1.35" height="1.15" fill="#2228a8"/><rect x="147.15" y="515.70" width="1.35" height="1.15" fill="#2228a8"/><rect x="145.15" y="494.13" width="1.35" height="1.15" fill="#2228a8"/><rect x="145.10" y="467.70" width="1.35" height="1.15" fill="#2228a8"/><rect x="147.72" y="494.59" width="1.35" height="1.15" fill="#2228a8"/><rect x="148.09" y="487.00" width="1.35" height="1.15" fill="#2228a8"/><rect x="145.01" y="483.50" width="1.35" height="1.15" fill="#2228a8"/><rect x="146.98" y="515.93" width="1.35" height="1.15" fill="#2228a8"/><rect x="148.30" y="488.70" width="1.35" height="1.15" fill="#2228a8"/><rect x="146.37" y="466.71" width="1.35" height="1.15" fill="#2228a8"/><rect x="147.16" y="473.20" width="1.35" height="1.15" fill="#2228a8"/><rect x="145.48" y="461.61" width="1.35" height="1.15" fill="#2228a8"/><rect x="144.98" y="500.97" width="1.35" height="1.15" fill="#2228a8"/><rect x="145.38" y="517.62" width="1.35" height="1.15" fill="#2228a8"/><rect x="145.26" y="511.92" width="1.35" height="1.15" fill="#2228a8"/><rect x="145.40" y="461.75" width="1.35" height="1.15" fill="#2228a8"/><rect x="147.41" y="474.97" width="1.35" height="1.15" fill="#2228a8"/><rect x="147.46" y="471.74" width="1.35" height="1.15" fill="#2228a8"/><rect x="145.14" y="506.29" width="1.35" height="1.15" fill="#2228a8"/><rect x="147.39" y="511.09" width="1.35" height="1.15" fill="#2228a8"/><rect x="147.45" y="465.66" width="1.35" height="1.15" fill="#2228a8"/><rect x="147.10" y="502.47" width="1.35" height="1.15" fill="#2228a8"/><rect x="146.53" y="515.62" width="1.35" height="1.15" fill="#2228a8"/><rect x="145.83" y="517.50" width="1.35" height="1.15" fill="#2228a8"/><rect x="147.40" y="461.37" width="1.35" height="1.15" fill="#2228a8"/><rect x="145.02" y="499.03" width="1.35" height="1.15" fill="#2228a8"/><rect x="147.74" y="465.39" width="1.35" height="1.15" fill="#2228a8"/><rect x="146.02" y="503.66" width="1.35" height="1.15" fill="#2228a8"/><rect x="145.53" y="511.41" width="1.35" height="1.15" fill="#2228a8"/><rect x="146.62" y="464.22" width="1.35" height="1.15" fill="#2228a8"/><rect x="146.21" y="494.57" width="1.35" height="1.15" fill="#2228a8"/><rect x="146.46" y="500.57" width="1.35" height="1.15" fill="#2228a8"/><rect x="145.46" y="507.66" width="1.35" height="1.15" fill="#2228a8"/><rect x="146.20" y="498.68" width="1.35" height="1.15" fill="#2228a8"/><rect x="147.11" y="485.32" width="1.35" height="1.15" fill="#2228a8"/><rect x="146.28" y="507.01" width="1.35" height="1.15" fill="#2228a8"/><rect x="148.18" y="506.91" width="1.35" height="1.15" fill="#2228a8"/><rect x="146.89" y="477.92" width="1.35" height="1.15" fill="#2228a8"/><rect x="145.17" y="518.07" width="1.35" height="1.15" fill="#2228a8"/><rect x="147.36" y="509.43" width="1.35" height="1.15" fill="#2228a8"/><rect x="146.09" y="496.38" width="1.35" height="1.15" fill="#2228a8"/><rect x="148.29" y="509.66" width="1.35" height="1.15" fill="#2228a8"/><rect x="147.01" y="478.88" width="1.35" height="1.15" fill="#2228a8"/><rect x="146.42" y="513.01" width="1.35" height="1.15" fill="#2228a8"/><rect x="146.25" y="501.04" width="1.35" height="1.15" fill="#2228a8"/><rect x="147.01" y="513.48" width="1.35" height="1.15" fill="#2228a8"/><rect x="147.71" y="477.39" width="1.35" height="1.15" fill="#2228a8"/><rect x="144.97" y="476.19" width="1.35" height="1.15" fill="#2228a8"/><rect x="146.40" y="495.25" width="1.35" height="1.15" fill="#2228a8"/><rect x="147.74" y="512.97" width="1.35" height="1.15" fill="#2228a8"/><rect x="145.11" y="509.78" width="1.35" height="1.15" fill="#2228a8"/><rect x="147.72" y="511.78" width="1.35" height="1.15" fill="#2228a8"/><rect x="146.91" y="476.83" width="1.35" height="1.15" fill="#2228a8"/><rect x="147.86" y="508.23" width="1.35" height="1.15" fill="#2228a8"/><rect x="147.29" y="514.52" width="1.35" height="1.15" fill="#2228a8"/><rect x="146.14" y="465.71" width="1.35" height="1.15" fill="#2228a8"/><rect x="146.85" y="507.67" width="1.35" height="1.15" fill="#2228a8"/><rect x="145.65" y="504.89" width="1.35" height="1.15" fill="#2228a8"/><rect x="148.13" y="474.48" width="1.35" height="1.15" fill="#2228a8"/><rect x="147.03" y="500.61" width="1.35" height="1.15" fill="#2228a8"/><rect x="146.55" y="472.87" width="1.35" height="1.15" fill="#2228a8"/><rect x="145.83" y="504.94" width="1.35" height="1.15" fill="#2228a8"/><rect x="147.66" y="487.78" width="1.35" height="1.15" fill="#2228a8"/><rect x="145.26" y="508.21" width="1.35" height="1.15" fill="#2228a8"/><rect x="147.59" y="474.42" width="1.35" height="1.15" fill="#2228a8"/><rect x="146.94" y="513.53" width="1.35" height="1.15" fill="#2228a8"/><rect x="147.97" y="491.44" width="1.35" height="1.15" fill="#2228a8"/><rect x="146.59" y="495.41" width="1.35" height="1.15" fill="#2228a8"/><rect x="145.61" y="472.03" width="1.35" height="1.15" fill="#2228a8"/><rect x="145.58" y="501.99" width="1.35" height="1.15" fill="#2228a8"/><rect x="146.20" y="493.94" width="1.35" height="1.15" fill="#2228a8"/><rect x="146.33" y="491.16" width="1.35" height="1.15" fill="#2228a8"/><rect x="145.47" y="463.33" width="1.35" height="1.15" fill="#2228a8"/><rect x="148.36" y="482.73" width="1.35" height="1.15" fill="#2228a8"/><rect x="145.33" y="497.97" width="1.35" height="1.15" fill="#2228a8"/><rect x="147.64" y="469.90" width="1.35" height="1.15" fill="#2228a8"/><rect x="147.00" y="481.02" width="1.35" height="1.15" fill="#2228a8"/><rect x="146.73" y="461.91" width="1.35" height="1.15" fill="#2228a8"/><rect x="145.08" y="519.03" width="1.35" height="1.15" fill="#2228a8"/><rect x="147.91" y="489.34" width="1.35" height="1.15" fill="#2228a8"/><rect x="146.89" y="476.11" width="1.35" height="1.15" fill="#2228a8"/><rect x="147.61" y="485.79" width="1.35" height="1.15" fill="#2228a8"/><ellipse cx="147.34" cy="452.65" rx="2.8" ry="9.05" fill="#f6f6fd" stroke="#4f58c4" stroke-width="0.65"/><rect x="147.90" y="443.91" width="1.20" height="1.02" fill="#3038b4"/><rect x="147.57" y="444.91" width="1.20" height="1.02" fill="#3038b4"/><rect x="146.10" y="440.19" width="1.20" height="1.02" fill="#3038b4"/><rect x="145.96" y="440.92" width="1.20" height="1.02" fill="#3038b4"/><rect x="145.66" y="440.26" width="1.20" height="1.02" fill="#3038b4"/><rect x="146.89" y="444.44" width="1.20" height="1.02" fill="#3038b4"/><rect x="146.63" y="444.83" width="1.20" height="1.02" fill="#3038b4"/>
<ellipse cx="147.34" cy="537.90" rx="6.80" ry="19.30" fill="#e8e9f8" stroke="#8a90dc" stroke-width="0.5"/><ellipse cx="147.34" cy="539.30" rx="6.20" ry="16.60" fill="#c4c7ef" stroke="#6a72d6" stroke-width="0.5"/><ellipse cx="147.34" cy="540.00" rx="6.00" ry="15.20" fill="#9096e2" stroke="#5058cc" stroke-width="0.45"/><ellipse cx="147.34" cy="540.50" rx="5.20" ry="13.80" fill="#2f3ee8"/><ellipse cx="147.34" cy="540.50" rx="4.16" ry="12.70" fill="#1ccff5"/><ellipse cx="147.34" cy="540.50" rx="3.43" ry="11.32" fill="#4cd64a"/><ellipse cx="147.34" cy="540.50" rx="2.50" ry="9.38" fill="#eeee22"/><ellipse cx="147.34" cy="539.12" rx="1.87" ry="5.80" fill="#ff9a1e"/><ellipse cx="147.34" cy="538.57" rx="1.04" ry="3.04" fill="#ff3a22"/>
<path d="M157.03,527.60 C157.03,520.40 160.93,513.52 163.03,511.60 C165.13,513.52 169.03,520.40 169.03,527.60 Z" fill="#f2f3fc" stroke="#6e76d4" stroke-width="0.5"/><path d="M161.43,450.90 L161.43,520.60 M164.63,450.90 L164.63,520.60" stroke="#6a72d2" stroke-width="0.5"/><rect x="163.75" y="454.37" width="1.35" height="1.15" fill="#2228a8"/><rect x="162.69" y="477.60" width="1.35" height="1.15" fill="#2228a8"/><rect x="161.06" y="516.76" width="1.35" height="1.15" fill="#2228a8"/><rect x="161.53" y="489.24" width="1.35" height="1.15" fill="#2228a8"/><rect x="162.83" y="516.56" width="1.35" height="1.15" fill="#2228a8"/><rect x="162.93" y="477.30" width="1.35" height="1.15" fill="#2228a8"/><rect x="162.18" y="461.03" width="1.35" height="1.15" fill="#2228a8"/><rect x="163.94" y="519.02" width="1.35" height="1.15" fill="#2228a8"/><rect x="161.41" y="452.59" width="1.35" height="1.15" fill="#2228a8"/><rect x="161.52" y="474.44" width="1.35" height="1.15" fill="#2228a8"/><rect x="163.72" y="512.95" width="1.35" height="1.15" fill="#2228a8"/><rect x="163.50" y="453.18" width="1.35" height="1.15" fill="#2228a8"/><rect x="163.33" y="499.36" width="1.35" height="1.15" fill="#2228a8"/><rect x="162.85" y="518.58" width="1.35" height="1.15" fill="#2228a8"/><rect x="160.84" y="459.99" width="1.35" height="1.15" fill="#2228a8"/><rect x="163.22" y="515.37" width="1.35" height="1.15" fill="#2228a8"/><rect x="162.96" y="470.73" width="1.35" height="1.15" fill="#2228a8"/><rect x="162.67" y="502.73" width="1.35" height="1.15" fill="#2228a8"/><rect x="161.01" y="472.48" width="1.35" height="1.15" fill="#2228a8"/><rect x="161.53" y="458.55" width="1.35" height="1.15" fill="#2228a8"/><rect x="162.29" y="461.65" width="1.35" height="1.15" fill="#2228a8"/><rect x="161.47" y="459.88" width="1.35" height="1.15" fill="#2228a8"/><rect x="162.96" y="450.78" width="1.35" height="1.15" fill="#2228a8"/><rect x="163.09" y="463.50" width="1.35" height="1.15" fill="#2228a8"/><rect x="160.78" y="514.56" width="1.35" height="1.15" fill="#2228a8"/><rect x="161.40" y="515.00" width="1.35" height="1.15" fill="#2228a8"/><rect x="163.60" y="511.84" width="1.35" height="1.15" fill="#2228a8"/><rect x="161.13" y="481.07" width="1.35" height="1.15" fill="#2228a8"/><rect x="160.98" y="514.64" width="1.35" height="1.15" fill="#2228a8"/><rect x="163.52" y="493.70" width="1.35" height="1.15" fill="#2228a8"/><rect x="162.19" y="473.58" width="1.35" height="1.15" fill="#2228a8"/><rect x="163.45" y="483.18" width="1.35" height="1.15" fill="#2228a8"/><rect x="162.79" y="459.85" width="1.35" height="1.15" fill="#2228a8"/><rect x="161.41" y="453.85" width="1.35" height="1.15" fill="#2228a8"/><rect x="163.08" y="488.47" width="1.35" height="1.15" fill="#2228a8"/><rect x="161.15" y="510.59" width="1.35" height="1.15" fill="#2228a8"/><rect x="161.56" y="478.60" width="1.35" height="1.15" fill="#2228a8"/><rect x="161.18" y="468.80" width="1.35" height="1.15" fill="#2228a8"/><rect x="163.51" y="473.22" width="1.35" height="1.15" fill="#2228a8"/><rect x="161.23" y="484.12" width="1.35" height="1.15" fill="#2228a8"/><rect x="161.74" y="512.85" width="1.35" height="1.15" fill="#2228a8"/><rect x="161.04" y="518.11" width="1.35" height="1.15" fill="#2228a8"/><rect x="160.85" y="512.28" width="1.35" height="1.15" fill="#2228a8"/><rect x="162.93" y="464.62" width="1.35" height="1.15" fill="#2228a8"/><rect x="162.28" y="469.85" width="1.35" height="1.15" fill="#2228a8"/><rect x="161.53" y="463.95" width="1.35" height="1.15" fill="#2228a8"/><rect x="161.89" y="518.97" width="1.35" height="1.15" fill="#2228a8"/><rect x="164.05" y="514.38" width="1.35" height="1.15" fill="#2228a8"/><rect x="160.99" y="470.07" width="1.35" height="1.15" fill="#2228a8"/><rect x="163.70" y="453.91" width="1.35" height="1.15" fill="#2228a8"/><rect x="163.13" y="470.36" width="1.35" height="1.15" fill="#2228a8"/><rect x="163.98" y="451.02" width="1.35" height="1.15" fill="#2228a8"/><rect x="163.40" y="473.66" width="1.35" height="1.15" fill="#2228a8"/><rect x="161.13" y="450.03" width="1.35" height="1.15" fill="#2228a8"/><rect x="163.48" y="486.60" width="1.35" height="1.15" fill="#2228a8"/><rect x="161.29" y="480.24" width="1.35" height="1.15" fill="#2228a8"/><rect x="163.76" y="465.11" width="1.35" height="1.15" fill="#2228a8"/><rect x="162.60" y="459.52" width="1.35" height="1.15" fill="#2228a8"/><rect x="161.27" y="503.60" width="1.35" height="1.15" fill="#2228a8"/><rect x="163.07" y="463.61" width="1.35" height="1.15" fill="#2228a8"/><rect x="160.92" y="455.99" width="1.35" height="1.15" fill="#2228a8"/><rect x="162.72" y="484.43" width="1.35" height="1.15" fill="#2228a8"/><rect x="161.59" y="464.26" width="1.35" height="1.15" fill="#2228a8"/><rect x="162.74" y="499.23" width="1.35" height="1.15" fill="#2228a8"/><rect x="163.41" y="490.53" width="1.35" height="1.15" fill="#2228a8"/><rect x="161.34" y="454.48" width="1.35" height="1.15" fill="#2228a8"/><rect x="163.15" y="478.35" width="1.35" height="1.15" fill="#2228a8"/><rect x="163.11" y="453.76" width="1.35" height="1.15" fill="#2228a8"/><rect x="163.41" y="473.26" width="1.35" height="1.15" fill="#2228a8"/><rect x="163.52" y="510.16" width="1.35" height="1.15" fill="#2228a8"/><rect x="162.33" y="450.98" width="1.35" height="1.15" fill="#2228a8"/><rect x="163.75" y="483.12" width="1.35" height="1.15" fill="#2228a8"/><rect x="163.62" y="468.46" width="1.35" height="1.15" fill="#2228a8"/><rect x="161.29" y="507.86" width="1.35" height="1.15" fill="#2228a8"/><rect x="161.90" y="461.30" width="1.35" height="1.15" fill="#2228a8"/><rect x="161.92" y="491.36" width="1.35" height="1.15" fill="#2228a8"/><rect x="160.67" y="486.13" width="1.35" height="1.15" fill="#2228a8"/><rect x="162.17" y="485.84" width="1.35" height="1.15" fill="#2228a8"/><rect x="161.07" y="499.71" width="1.35" height="1.15" fill="#2228a8"/><rect x="163.43" y="510.22" width="1.35" height="1.15" fill="#2228a8"/><rect x="161.75" y="499.47" width="1.35" height="1.15" fill="#2228a8"/><rect x="161.95" y="502.27" width="1.35" height="1.15" fill="#2228a8"/><rect x="160.86" y="510.73" width="1.35" height="1.15" fill="#2228a8"/><rect x="163.90" y="484.39" width="1.35" height="1.15" fill="#2228a8"/><rect x="162.40" y="486.88" width="1.35" height="1.15" fill="#2228a8"/><rect x="162.48" y="451.34" width="1.35" height="1.15" fill="#2228a8"/><rect x="163.94" y="465.49" width="1.35" height="1.15" fill="#2228a8"/><rect x="161.28" y="457.06" width="1.35" height="1.15" fill="#2228a8"/><rect x="161.51" y="506.86" width="1.35" height="1.15" fill="#2228a8"/><rect x="160.76" y="456.62" width="1.35" height="1.15" fill="#2228a8"/><rect x="163.03" y="463.50" width="1.35" height="1.15" fill="#2228a8"/><rect x="160.72" y="491.68" width="1.35" height="1.15" fill="#2228a8"/><rect x="162.62" y="486.35" width="1.35" height="1.15" fill="#2228a8"/><rect x="163.04" y="457.07" width="1.35" height="1.15" fill="#2228a8"/><rect x="163.61" y="499.88" width="1.35" height="1.15" fill="#2228a8"/><rect x="160.81" y="458.48" width="1.35" height="1.15" fill="#2228a8"/><rect x="162.33" y="484.80" width="1.35" height="1.15" fill="#2228a8"/><rect x="161.61" y="458.41" width="1.35" height="1.15" fill="#2228a8"/><rect x="162.03" y="459.45" width="1.35" height="1.15" fill="#2228a8"/><rect x="162.67" y="509.92" width="1.35" height="1.15" fill="#2228a8"/><rect x="161.16" y="489.83" width="1.35" height="1.15" fill="#2228a8"/><rect x="163.19" y="461.35" width="1.35" height="1.15" fill="#2228a8"/><rect x="163.46" y="515.25" width="1.35" height="1.15" fill="#2228a8"/><rect x="161.98" y="479.21" width="1.35" height="1.15" fill="#2228a8"/><rect x="163.51" y="486.54" width="1.35" height="1.15" fill="#2228a8"/><rect x="162.00" y="515.51" width="1.35" height="1.15" fill="#2228a8"/><rect x="163.30" y="473.50" width="1.35" height="1.15" fill="#2228a8"/><rect x="161.47" y="473.26" width="1.35" height="1.15" fill="#2228a8"/><rect x="162.14" y="518.29" width="1.35" height="1.15" fill="#2228a8"/><rect x="163.39" y="513.52" width="1.35" height="1.15" fill="#2228a8"/><rect x="163.43" y="508.98" width="1.35" height="1.15" fill="#2228a8"/><rect x="160.84" y="485.96" width="1.35" height="1.15" fill="#2228a8"/><rect x="163.91" y="515.02" width="1.35" height="1.15" fill="#2228a8"/><rect x="161.50" y="479.32" width="1.35" height="1.15" fill="#2228a8"/><rect x="162.81" y="475.30" width="1.35" height="1.15" fill="#2228a8"/><rect x="162.46" y="454.73" width="1.35" height="1.15" fill="#2228a8"/><rect x="162.13" y="485.08" width="1.35" height="1.15" fill="#2228a8"/><rect x="160.73" y="459.62" width="1.35" height="1.15" fill="#2228a8"/><rect x="163.95" y="504.03" width="1.35" height="1.15" fill="#2228a8"/><rect x="163.84" y="494.03" width="1.35" height="1.15" fill="#2228a8"/><rect x="163.41" y="511.54" width="1.35" height="1.15" fill="#2228a8"/><rect x="163.66" y="452.30" width="1.35" height="1.15" fill="#2228a8"/><rect x="162.84" y="468.42" width="1.35" height="1.15" fill="#2228a8"/><rect x="162.96" y="468.96" width="1.35" height="1.15" fill="#2228a8"/><rect x="162.50" y="514.33" width="1.35" height="1.15" fill="#2228a8"/><rect x="162.77" y="467.37" width="1.35" height="1.15" fill="#2228a8"/><rect x="162.42" y="480.13" width="1.35" height="1.15" fill="#2228a8"/><rect x="163.89" y="469.94" width="1.35" height="1.15" fill="#2228a8"/><rect x="161.69" y="495.03" width="1.35" height="1.15" fill="#2228a8"/><rect x="161.06" y="491.32" width="1.35" height="1.15" fill="#2228a8"/><rect x="163.91" y="485.71" width="1.35" height="1.15" fill="#2228a8"/><rect x="161.57" y="482.41" width="1.35" height="1.15" fill="#2228a8"/><rect x="162.47" y="460.24" width="1.35" height="1.15" fill="#2228a8"/><rect x="161.08" y="459.06" width="1.35" height="1.15" fill="#2228a8"/><rect x="161.65" y="478.24" width="1.35" height="1.15" fill="#2228a8"/><rect x="161.64" y="466.87" width="1.35" height="1.15" fill="#2228a8"/><rect x="160.95" y="487.98" width="1.35" height="1.15" fill="#2228a8"/><rect x="163.51" y="492.41" width="1.35" height="1.15" fill="#2228a8"/><rect x="162.59" y="495.23" width="1.35" height="1.15" fill="#2228a8"/><rect x="161.34" y="499.41" width="1.35" height="1.15" fill="#2228a8"/><rect x="162.22" y="488.10" width="1.35" height="1.15" fill="#2228a8"/><rect x="162.74" y="482.59" width="1.35" height="1.15" fill="#2228a8"/><rect x="161.71" y="466.79" width="1.35" height="1.15" fill="#2228a8"/><rect x="161.41" y="485.62" width="1.35" height="1.15" fill="#2228a8"/><rect x="161.96" y="490.72" width="1.35" height="1.15" fill="#2228a8"/><rect x="160.70" y="474.48" width="1.35" height="1.15" fill="#2228a8"/><rect x="163.59" y="466.53" width="1.35" height="1.15" fill="#2228a8"/><rect x="162.55" y="484.15" width="1.35" height="1.15" fill="#2228a8"/><rect x="161.62" y="518.73" width="1.35" height="1.15" fill="#2228a8"/><rect x="161.66" y="503.72" width="1.35" height="1.15" fill="#2228a8"/><ellipse cx="163.03" cy="443.60" rx="2.8" ry="7.30" fill="#f6f6fd" stroke="#4f58c4" stroke-width="0.65"/><rect x="161.54" y="431.36" width="1.20" height="1.02" fill="#3038b4"/><rect x="163.40" y="433.94" width="1.20" height="1.02" fill="#3038b4"/><rect x="161.29" y="433.58" width="1.20" height="1.02" fill="#3038b4"/><rect x="162.27" y="435.97" width="1.20" height="1.02" fill="#3038b4"/><rect x="161.41" y="432.45" width="1.20" height="1.02" fill="#3038b4"/><rect x="163.62" y="436.00" width="1.20" height="1.02" fill="#3038b4"/><rect x="161.53" y="433.23" width="1.20" height="1.02" fill="#3038b4"/><rect x="162.05" y="435.56" width="1.20" height="1.02" fill="#3038b4"/><rect x="162.73" y="436.76" width="1.20" height="1.02" fill="#3038b4"/>
<ellipse cx="163.03" cy="537.90" rx="6.80" ry="19.30" fill="#e8e9f8" stroke="#8a90dc" stroke-width="0.5"/><ellipse cx="163.03" cy="539.30" rx="6.20" ry="16.60" fill="#c4c7ef" stroke="#6a72d6" stroke-width="0.5"/><ellipse cx="163.03" cy="540.00" rx="6.00" ry="15.20" fill="#9096e2" stroke="#5058cc" stroke-width="0.45"/><ellipse cx="163.03" cy="540.50" rx="5.20" ry="13.80" fill="#2f3ee8"/><ellipse cx="163.03" cy="540.50" rx="4.16" ry="12.70" fill="#1ccff5"/><ellipse cx="163.03" cy="540.50" rx="3.43" ry="11.32" fill="#4cd64a"/><ellipse cx="163.03" cy="540.50" rx="2.50" ry="9.38" fill="#eeee22"/><ellipse cx="163.03" cy="539.12" rx="1.87" ry="5.80" fill="#ff9a1e"/><ellipse cx="163.03" cy="538.57" rx="1.04" ry="3.04" fill="#ff3a22"/>
<rect x="146.0" y="476.4" width="1" height="1" fill="#b4b8d0"/>
<rect x="136.2" y="497.0" width="1" height="1" fill="#b4b8d0"/>
<rect x="138.7" y="472.5" width="1" height="1" fill="#b4b8d0"/>
<rect x="141.7" y="493.8" width="1" height="1" fill="#b4b8d0"/>
<rect x="157.0" y="440.6" width="1" height="1" fill="#b4b8d0"/>
<rect x="151.8" y="429.4" width="1" height="1" fill="#b4b8d0"/>
<rect x="139.4" y="482.6" width="1" height="1" fill="#b4b8d0"/>
<rect x="107.9" y="517.1" width="1" height="1" fill="#b4b8d0"/>
<rect x="116.6" y="467.2" width="1" height="1" fill="#b4b8d0"/>
<rect x="141.5" y="508.9" width="1" height="1" fill="#b4b8d0"/>
<rect x="120.8" y="463.7" width="1" height="1" fill="#b4b8d0"/>
<rect x="102.5" y="470.9" width="1" height="1" fill="#b4b8d0"/>
<rect x="134.4" y="455.8" width="1" height="1" fill="#b4b8d0"/>
<rect x="95.2" y="479.8" width="1" height="1" fill="#b4b8d0"/>
<line x1="36.8" y1="559.7" x2="178.2" y2="559.7" stroke="#444" stroke-width="1.3"/>
<rect x="156.0" y="423.0" width="14.4" height="135.3" fill="#c4cec8" fill-opacity="0.12" stroke="#0e4a15" stroke-width="2.3"/>
<text x="50" y="418.8" font-size="12.8" fill="#333" stroke="#fff" stroke-width="0.22" textLength="46.4" lengthAdjust="spacingAndGlyphs">CAS +50</text>
<text x="58.2" y="567.0" text-anchor="end" font-size="7.4" fill="#222" stroke="#222" stroke-width="0.12" transform="rotate(-45 58.2 567.0)">8</text>
<text x="74.8" y="567.0" text-anchor="end" font-size="7.4" fill="#222" stroke="#222" stroke-width="0.12" transform="rotate(-45 74.8 567.0)">16</text>
<text x="90.8" y="567.0" text-anchor="end" font-size="7.4" fill="#222" stroke="#222" stroke-width="0.12" transform="rotate(-45 90.8 567.0)">32</text>
<text x="105.3" y="567.0" text-anchor="end" font-size="7.4" fill="#222" stroke="#222" stroke-width="0.12" transform="rotate(-45 105.3 567.0)">64</text>
<text x="121.8" y="567.0" text-anchor="end" font-size="7.4" fill="#222" stroke="#222" stroke-width="0.12" transform="rotate(-45 121.8 567.0)">125</text>
<text x="138.4" y="567.0" text-anchor="end" font-size="7.4" fill="#222" stroke="#222" stroke-width="0.12" transform="rotate(-45 138.4 567.0)">250</text>
<text x="158.0" y="567.0" text-anchor="end" font-size="7.4" fill="#222" stroke="#222" stroke-width="0.12" transform="rotate(-45 158.0 567.0)">500</text>
<text x="175.3" y="567.0" text-anchor="end" font-size="7.4" fill="#222" stroke="#222" stroke-width="0.12" transform="rotate(-45 175.3 567.0)">1000</text>
</g>
<g>
<line x1="211.8" y1="403.6" x2="211.8" y2="559.7" stroke="#555" stroke-width="1.3"/>
<text x="209.1" y="424.2" text-anchor="end" font-family="Liberation Serif, serif" font-size="7.4" fill="#808080">10<tspan font-size="4.6" dy="-3.4">6</tspan></text>
<text x="209.1" y="461.1" text-anchor="end" font-family="Liberation Serif, serif" font-size="7.4" fill="#808080">10<tspan font-size="4.6" dy="-3.4">5</tspan></text>
<text x="209.1" y="505.3" text-anchor="end" font-family="Liberation Serif, serif" font-size="7.4" fill="#808080">10<tspan font-size="4.6" dy="-3.4">4</tspan></text>
<text x="209.1" y="546.8" text-anchor="end" font-family="Liberation Serif, serif" font-size="7.4" fill="#808080">10<tspan font-size="4.6" dy="-3.4">3</tspan></text>
<text x="209.1" y="560.6" text-anchor="end" font-family="Liberation Serif, serif" font-size="7.4" fill="#808080">-10<tspan font-size="4.6" dy="-3.4">3</tspan></text>
<rect x="332.4" y="423.0" width="13.6" height="134.8" fill="#e0e5e1"/>
<path d="M221.70,532.40 C221.70,525.02 225.60,517.97 227.70,516.00 C229.80,517.97 233.70,525.02 233.70,532.40 Z" fill="#f2f3fc" stroke="#6e76d4" stroke-width="0.5"/><path d="M223.90,532.40 C223.90,526.52 226.37,520.90 227.70,519.33 C229.03,520.90 231.50,526.52 231.50,532.40 Z" fill="none" stroke="#7a82da" stroke-width="0.5"/><rect x="226.80" y="512.90" width="1.25" height="1.06" fill="#2a34b4"/><rect x="227.76" y="517.65" width="1.25" height="1.06" fill="#2a34b4"/><rect x="227.07" y="514.00" width="1.25" height="1.06" fill="#2a34b4"/><rect x="226.32" y="512.74" width="1.25" height="1.06" fill="#2a34b4"/><rect x="226.22" y="515.18" width="1.25" height="1.06" fill="#2a34b4"/><rect x="227.27" y="510.79" width="1.25" height="1.06" fill="#2a34b4"/><rect x="228.08" y="512.91" width="1.25" height="1.06" fill="#2a34b4"/><rect x="227.90" y="517.54" width="1.25" height="1.06" fill="#2a34b4"/><rect x="228.18" y="511.84" width="1.25" height="1.06" fill="#2a34b4"/><rect x="226.90" y="518.20" width="1.25" height="1.06" fill="#2a34b4"/><rect x="225.90" y="510.43" width="1.25" height="1.06" fill="#2a34b4"/><rect x="227.23" y="514.48" width="1.25" height="1.06" fill="#2a34b4"/><rect x="228.08" y="516.96" width="1.25" height="1.06" fill="#2a34b4"/><rect x="227.17" y="518.98" width="1.25" height="1.06" fill="#2a34b4"/><rect x="227.12" y="514.66" width="1.25" height="1.06" fill="#2a34b4"/><rect x="227.52" y="513.51" width="1.25" height="1.06" fill="#2a34b4"/><rect x="226.73" y="515.35" width="1.25" height="1.06" fill="#2a34b4"/>
<ellipse cx="227.70" cy="540.40" rx="7.10" ry="17.00" fill="#e8e9f8" stroke="#8a90dc" stroke-width="0.5"/><ellipse cx="227.70" cy="541.80" rx="6.50" ry="14.30" fill="#c4c7ef" stroke="#6a72d6" stroke-width="0.5"/><ellipse cx="227.70" cy="542.50" rx="6.30" ry="12.90" fill="#9096e2" stroke="#5058cc" stroke-width="0.45"/><ellipse cx="227.70" cy="543.00" rx="5.50" ry="11.50" fill="#2f3ee8"/><ellipse cx="227.70" cy="543.00" rx="4.29" ry="10.12" fill="#1ccff5"/><ellipse cx="227.70" cy="543.00" rx="3.46" ry="8.74" fill="#4cd64a"/><ellipse cx="227.70" cy="543.00" rx="2.53" ry="6.90" fill="#eeee22"/><ellipse cx="227.70" cy="542.31" rx="1.87" ry="4.83" fill="#ff9a1e"/><ellipse cx="227.70" cy="542.08" rx="1.10" ry="2.76" fill="#ff3a22"/>
<path d="M237.39,532.40 C237.39,526.55 241.29,520.96 243.39,519.40 C245.49,520.96 249.39,526.55 249.39,532.40 Z" fill="#f2f3fc" stroke="#6e76d4" stroke-width="0.5"/><path d="M240.59,526.40 L240.59,523.32 C240.59,516.54 242.69,513.46 243.39,511.00 C244.09,513.46 246.19,516.54 246.19,523.32 L246.19,526.40" fill="#f6f6fd" stroke="#6a72d2" stroke-width="0.55"/><rect x="242.38" y="512.40" width="1.25" height="1.06" fill="#2a34b4"/><rect x="243.22" y="507.49" width="1.25" height="1.06" fill="#2a34b4"/><rect x="241.72" y="505.74" width="1.25" height="1.06" fill="#2a34b4"/><rect x="242.51" y="507.91" width="1.25" height="1.06" fill="#2a34b4"/><rect x="242.96" y="511.61" width="1.25" height="1.06" fill="#2a34b4"/><rect x="243.97" y="507.05" width="1.25" height="1.06" fill="#2a34b4"/><rect x="242.61" y="508.65" width="1.25" height="1.06" fill="#2a34b4"/><rect x="244.05" y="505.38" width="1.25" height="1.06" fill="#2a34b4"/><rect x="242.84" y="510.86" width="1.25" height="1.06" fill="#2a34b4"/><rect x="241.91" y="505.09" width="1.25" height="1.06" fill="#2a34b4"/><rect x="244.01" y="510.98" width="1.25" height="1.06" fill="#2a34b4"/><rect x="242.80" y="502.68" width="1.25" height="1.06" fill="#2a34b4"/><rect x="243.79" y="509.40" width="1.25" height="1.06" fill="#2a34b4"/><rect x="243.60" y="512.89" width="1.25" height="1.06" fill="#2a34b4"/><rect x="243.77" y="506.28" width="1.25" height="1.06" fill="#2a34b4"/><rect x="241.87" y="504.76" width="1.25" height="1.06" fill="#2a34b4"/><rect x="242.80" y="507.26" width="1.25" height="1.06" fill="#2a34b4"/><rect x="241.95" y="503.52" width="1.25" height="1.06" fill="#2a34b4"/><rect x="243.10" y="508.40" width="1.25" height="1.06" fill="#2a34b4"/><rect x="242.38" y="512.93" width="1.25" height="1.06" fill="#2a34b4"/><rect x="243.12" y="501.89" width="1.25" height="1.06" fill="#2a34b4"/>
<ellipse cx="243.39" cy="540.40" rx="7.10" ry="17.00" fill="#e8e9f8" stroke="#8a90dc" stroke-width="0.5"/><ellipse cx="243.39" cy="541.80" rx="6.50" ry="14.30" fill="#c4c7ef" stroke="#6a72d6" stroke-width="0.5"/><ellipse cx="243.39" cy="542.50" rx="6.30" ry="12.90" fill="#9096e2" stroke="#5058cc" stroke-width="0.45"/><ellipse cx="243.39" cy="543.00" rx="5.50" ry="11.50" fill="#2f3ee8"/><ellipse cx="243.39" cy="543.00" rx="4.29" ry="10.12" fill="#1ccff5"/><ellipse cx="243.39" cy="543.00" rx="3.46" ry="8.74" fill="#4cd64a"/><ellipse cx="243.39" cy="543.00" rx="2.53" ry="6.90" fill="#eeee22"/><ellipse cx="243.39" cy="542.31" rx="1.87" ry="4.83" fill="#ff9a1e"/><ellipse cx="243.39" cy="542.08" rx="1.10" ry="2.76" fill="#ff3a22"/>
<path d="M253.08,532.40 C253.08,525.20 256.98,518.32 259.08,516.40 C261.18,518.32 265.08,525.20 265.08,532.40 Z" fill="#f2f3fc" stroke="#6e76d4" stroke-width="0.5"/><path d="M257.48,512.20 L257.48,525.40 M260.68,512.20 L260.68,525.40" stroke="#6a72d2" stroke-width="0.5"/><rect x="258.10" y="521.60" width="1.35" height="1.15" fill="#2228a8"/><rect x="257.75" y="520.32" width="1.35" height="1.15" fill="#2228a8"/><rect x="256.72" y="515.22" width="1.35" height="1.15" fill="#2228a8"/><rect x="259.57" y="518.94" width="1.35" height="1.15" fill="#2228a8"/><rect x="258.98" y="513.80" width="1.35" height="1.15" fill="#2228a8"/><rect x="258.40" y="518.50" width="1.35" height="1.15" fill="#2228a8"/><rect x="257.61" y="519.74" width="1.35" height="1.15" fill="#2228a8"/><rect x="258.51" y="524.36" width="1.35" height="1.15" fill="#2228a8"/><rect x="258.66" y="516.63" width="1.35" height="1.15" fill="#2228a8"/><rect x="257.12" y="513.27" width="1.35" height="1.15" fill="#2228a8"/><rect x="259.29" y="512.61" width="1.35" height="1.15" fill="#2228a8"/><rect x="257.05" y="513.45" width="1.35" height="1.15" fill="#2228a8"/><rect x="258.48" y="522.07" width="1.35" height="1.15" fill="#2228a8"/><rect x="258.79" y="521.85" width="1.35" height="1.15" fill="#2228a8"/><rect x="256.92" y="511.36" width="1.35" height="1.15" fill="#2228a8"/><rect x="259.32" y="515.46" width="1.35" height="1.15" fill="#2228a8"/><rect x="259.14" y="515.87" width="1.35" height="1.15" fill="#2228a8"/><rect x="257.28" y="514.72" width="1.35" height="1.15" fill="#2228a8"/><rect x="257.04" y="523.13" width="1.35" height="1.15" fill="#2228a8"/><rect x="258.68" y="515.81" width="1.35" height="1.15" fill="#2228a8"/><rect x="258.23" y="516.29" width="1.35" height="1.15" fill="#2228a8"/><rect x="256.89" y="522.96" width="1.35" height="1.15" fill="#2228a8"/><rect x="258.69" y="523.87" width="1.35" height="1.15" fill="#2228a8"/><rect x="258.20" y="519.39" width="1.35" height="1.15" fill="#2228a8"/><rect x="257.55" y="511.78" width="1.35" height="1.15" fill="#2228a8"/><rect x="259.87" y="522.48" width="1.35" height="1.15" fill="#2228a8"/><ellipse cx="259.08" cy="505.80" rx="2.8" ry="6.40" fill="#f6f6fd" stroke="#4f58c4" stroke-width="0.65"/><rect x="258.00" y="499.86" width="1.20" height="1.02" fill="#3038b4"/><rect x="259.30" y="493.73" width="1.20" height="1.02" fill="#3038b4"/><rect x="258.75" y="500.49" width="1.20" height="1.02" fill="#3038b4"/><rect x="258.47" y="500.38" width="1.20" height="1.02" fill="#3038b4"/><rect x="257.81" y="494.61" width="1.20" height="1.02" fill="#3038b4"/><rect x="259.05" y="492.88" width="1.20" height="1.02" fill="#3038b4"/><rect x="257.98" y="499.62" width="1.20" height="1.02" fill="#3038b4"/><rect x="258.44" y="498.77" width="1.20" height="1.02" fill="#3038b4"/><rect x="257.81" y="492.39" width="1.20" height="1.02" fill="#3038b4"/><rect x="258.11" y="492.52" width="1.20" height="1.02" fill="#3038b4"/><rect x="259.71" y="493.59" width="1.20" height="1.02" fill="#3038b4"/><rect x="258.64" y="491.78" width="1.20" height="1.02" fill="#3038b4"/><rect x="258.57" y="494.57" width="1.20" height="1.02" fill="#3038b4"/>
<ellipse cx="259.08" cy="540.40" rx="7.10" ry="17.00" fill="#e8e9f8" stroke="#8a90dc" stroke-width="0.5"/><ellipse cx="259.08" cy="541.80" rx="6.50" ry="14.30" fill="#c4c7ef" stroke="#6a72d6" stroke-width="0.5"/><ellipse cx="259.08" cy="542.50" rx="6.30" ry="12.90" fill="#9096e2" stroke="#5058cc" stroke-width="0.45"/><ellipse cx="259.08" cy="543.00" rx="5.50" ry="11.50" fill="#2f3ee8"/><ellipse cx="259.08" cy="543.00" rx="4.29" ry="10.12" fill="#1ccff5"/><ellipse cx="259.08" cy="543.00" rx="3.46" ry="8.74" fill="#4cd64a"/><ellipse cx="259.08" cy="543.00" rx="2.53" ry="6.90" fill="#eeee22"/><ellipse cx="259.08" cy="542.31" rx="1.87" ry="4.83" fill="#ff9a1e"/><ellipse cx="259.08" cy="542.08" rx="1.10" ry="2.76" fill="#ff3a22"/>
<path d="M268.77,532.40 C268.77,525.20 272.67,518.32 274.77,516.40 C276.87,518.32 280.77,525.20 280.77,532.40 Z" fill="#f2f3fc" stroke="#6e76d4" stroke-width="0.5"/><path d="M273.17,501.90 L273.17,525.40 M276.37,501.90 L276.37,525.40" stroke="#6a72d2" stroke-width="0.5"/><rect x="273.77" y="502.44" width="1.35" height="1.15" fill="#2228a8"/><rect x="272.81" y="520.31" width="1.35" height="1.15" fill="#2228a8"/><rect x="273.59" y="506.66" width="1.35" height="1.15" fill="#2228a8"/><rect x="273.05" y="507.56" width="1.35" height="1.15" fill="#2228a8"/><rect x="273.20" y="501.72" width="1.35" height="1.15" fill="#2228a8"/><rect x="274.65" y="508.92" width="1.35" height="1.15" fill="#2228a8"/><rect x="272.93" y="517.49" width="1.35" height="1.15" fill="#2228a8"/><rect x="272.71" y="507.24" width="1.35" height="1.15" fill="#2228a8"/><rect x="275.23" y="503.90" width="1.35" height="1.15" fill="#2228a8"/><rect x="273.90" y="520.55" width="1.35" height="1.15" fill="#2228a8"/><rect x="275.13" y="504.64" width="1.35" height="1.15" fill="#2228a8"/><rect x="273.59" y="517.88" width="1.35" height="1.15" fill="#2228a8"/><rect x="273.68" y="523.42" width="1.35" height="1.15" fill="#2228a8"/><rect x="273.10" y="523.25" width="1.35" height="1.15" fill="#2228a8"/><rect x="274.11" y="506.24" width="1.35" height="1.15" fill="#2228a8"/><rect x="273.93" y="503.98" width="1.35" height="1.15" fill="#2228a8"/><rect x="274.80" y="507.03" width="1.35" height="1.15" fill="#2228a8"/><rect x="275.45" y="514.71" width="1.35" height="1.15" fill="#2228a8"/><rect x="273.65" y="506.69" width="1.35" height="1.15" fill="#2228a8"/><rect x="274.46" y="505.89" width="1.35" height="1.15" fill="#2228a8"/><rect x="275.36" y="503.79" width="1.35" height="1.15" fill="#2228a8"/><rect x="274.14" y="513.65" width="1.35" height="1.15" fill="#2228a8"/><rect x="273.31" y="519.04" width="1.35" height="1.15" fill="#2228a8"/><rect x="273.70" y="516.35" width="1.35" height="1.15" fill="#2228a8"/><rect x="274.33" y="508.20" width="1.35" height="1.15" fill="#2228a8"/><rect x="273.72" y="502.92" width="1.35" height="1.15" fill="#2228a8"/><rect x="273.00" y="520.90" width="1.35" height="1.15" fill="#2228a8"/><rect x="273.49" y="516.47" width="1.35" height="1.15" fill="#2228a8"/><rect x="272.77" y="514.11" width="1.35" height="1.15" fill="#2228a8"/><rect x="273.62" y="512.66" width="1.35" height="1.15" fill="#2228a8"/><rect x="273.40" y="502.45" width="1.35" height="1.15" fill="#2228a8"/><rect x="273.45" y="506.22" width="1.35" height="1.15" fill="#2228a8"/><rect x="272.82" y="517.74" width="1.35" height="1.15" fill="#2228a8"/><rect x="273.36" y="510.38" width="1.35" height="1.15" fill="#2228a8"/><rect x="275.49" y="519.11" width="1.35" height="1.15" fill="#2228a8"/><rect x="275.40" y="521.14" width="1.35" height="1.15" fill="#2228a8"/><rect x="272.84" y="507.40" width="1.35" height="1.15" fill="#2228a8"/><rect x="272.50" y="516.87" width="1.35" height="1.15" fill="#2228a8"/><rect x="274.65" y="509.16" width="1.35" height="1.15" fill="#2228a8"/><rect x="273.80" y="516.39" width="1.35" height="1.15" fill="#2228a8"/><rect x="274.77" y="506.74" width="1.35" height="1.15" fill="#2228a8"/><rect x="275.27" y="509.17" width="1.35" height="1.15" fill="#2228a8"/><rect x="274.53" y="505.17" width="1.35" height="1.15" fill="#2228a8"/><rect x="272.79" y="522.35" width="1.35" height="1.15" fill="#2228a8"/><rect x="274.89" y="517.65" width="1.35" height="1.15" fill="#2228a8"/><rect x="272.53" y="501.84" width="1.35" height="1.15" fill="#2228a8"/><rect x="272.95" y="505.56" width="1.35" height="1.15" fill="#2228a8"/><rect x="273.43" y="509.85" width="1.35" height="1.15" fill="#2228a8"/><rect x="272.53" y="508.21" width="1.35" height="1.15" fill="#2228a8"/><ellipse cx="274.77" cy="494.55" rx="2.8" ry="7.35" fill="#f6f6fd" stroke="#4f58c4" stroke-width="0.65"/><rect x="274.53" y="478.61" width="1.20" height="1.02" fill="#3038b4"/><rect x="275.05" y="483.41" width="1.20" height="1.02" fill="#3038b4"/><rect x="274.73" y="479.53" width="1.20" height="1.02" fill="#3038b4"/><rect x="274.00" y="484.82" width="1.20" height="1.02" fill="#3038b4"/><rect x="273.78" y="476.41" width="1.20" height="1.02" fill="#3038b4"/><rect x="275.04" y="485.95" width="1.20" height="1.02" fill="#3038b4"/><rect x="273.61" y="476.93" width="1.20" height="1.02" fill="#3038b4"/><rect x="275.09" y="483.87" width="1.20" height="1.02" fill="#3038b4"/><rect x="272.99" y="479.41" width="1.20" height="1.02" fill="#3038b4"/><rect x="273.16" y="486.13" width="1.20" height="1.02" fill="#3038b4"/><rect x="273.42" y="487.65" width="1.20" height="1.02" fill="#3038b4"/><rect x="274.82" y="477.46" width="1.20" height="1.02" fill="#3038b4"/><rect x="274.68" y="481.24" width="1.20" height="1.02" fill="#3038b4"/><rect x="274.81" y="486.59" width="1.20" height="1.02" fill="#3038b4"/><rect x="273.60" y="477.51" width="1.20" height="1.02" fill="#3038b4"/>
<ellipse cx="274.77" cy="540.40" rx="7.10" ry="17.00" fill="#e8e9f8" stroke="#8a90dc" stroke-width="0.5"/><ellipse cx="274.77" cy="541.80" rx="6.50" ry="14.30" fill="#c4c7ef" stroke="#6a72d6" stroke-width="0.5"/><ellipse cx="274.77" cy="542.50" rx="6.30" ry="12.90" fill="#9096e2" stroke="#5058cc" stroke-width="0.45"/><ellipse cx="274.77" cy="543.00" rx="5.50" ry="11.50" fill="#2f3ee8"/><ellipse cx="274.77" cy="543.00" rx="4.29" ry="10.12" fill="#1ccff5"/><ellipse cx="274.77" cy="543.00" rx="3.46" ry="8.74" fill="#4cd64a"/><ellipse cx="274.77" cy="543.00" rx="2.53" ry="6.90" fill="#eeee22"/><ellipse cx="274.77" cy="542.31" rx="1.87" ry="4.83" fill="#ff9a1e"/><ellipse cx="274.77" cy="542.08" rx="1.10" ry="2.76" fill="#ff3a22"/>
<path d="M284.46,532.40 C284.46,525.20 288.36,518.32 290.46,516.40 C292.56,518.32 296.46,525.20 296.46,532.40 Z" fill="#f2f3fc" stroke="#6e76d4" stroke-width="0.5"/><path d="M288.86,490.30 L288.86,525.40 M292.06,490.30 L292.06,525.40" stroke="#6a72d2" stroke-width="0.5"/><rect x="291.30" y="504.18" width="1.35" height="1.15" fill="#2228a8"/><rect x="291.25" y="513.58" width="1.35" height="1.15" fill="#2228a8"/><rect x="290.60" y="518.43" width="1.35" height="1.15" fill="#2228a8"/><rect x="290.22" y="505.19" width="1.35" height="1.15" fill="#2228a8"/><rect x="288.27" y="513.81" width="1.35" height="1.15" fill="#2228a8"/><rect x="289.54" y="507.27" width="1.35" height="1.15" fill="#2228a8"/><rect x="291.24" y="493.78" width="1.35" height="1.15" fill="#2228a8"/><rect x="290.68" y="490.83" width="1.35" height="1.15" fill="#2228a8"/><rect x="290.47" y="517.58" width="1.35" height="1.15" fill="#2228a8"/><rect x="288.97" y="508.48" width="1.35" height="1.15" fill="#2228a8"/><rect x="291.38" y="511.68" width="1.35" height="1.15" fill="#2228a8"/><rect x="289.93" y="498.06" width="1.35" height="1.15" fill="#2228a8"/><rect x="288.29" y="501.86" width="1.35" height="1.15" fill="#2228a8"/><rect x="289.48" y="496.37" width="1.35" height="1.15" fill="#2228a8"/><rect x="289.14" y="494.09" width="1.35" height="1.15" fill="#2228a8"/><rect x="290.49" y="512.83" width="1.35" height="1.15" fill="#2228a8"/><rect x="288.89" y="497.78" width="1.35" height="1.15" fill="#2228a8"/><rect x="289.84" y="504.92" width="1.35" height="1.15" fill="#2228a8"/><rect x="291.27" y="501.64" width="1.35" height="1.15" fill="#2228a8"/><rect x="289.10" y="520.35" width="1.35" height="1.15" fill="#2228a8"/><rect x="288.57" y="509.07" width="1.35" height="1.15" fill="#2228a8"/><rect x="289.22" y="517.92" width="1.35" height="1.15" fill="#2228a8"/><rect x="289.95" y="515.99" width="1.35" height="1.15" fill="#2228a8"/><rect x="288.66" y="512.70" width="1.35" height="1.15" fill="#2228a8"/><rect x="290.12" y="505.49" width="1.35" height="1.15" fill="#2228a8"/><rect x="290.69" y="518.47" width="1.35" height="1.15" fill="#2228a8"/><rect x="288.47" y="499.46" width="1.35" height="1.15" fill="#2228a8"/><rect x="289.31" y="496.55" width="1.35" height="1.15" fill="#2228a8"/><rect x="288.29" y="499.16" width="1.35" height="1.15" fill="#2228a8"/><rect x="288.76" y="513.93" width="1.35" height="1.15" fill="#2228a8"/><rect x="289.61" y="493.27" width="1.35" height="1.15" fill="#2228a8"/><rect x="289.19" y="505.75" width="1.35" height="1.15" fill="#2228a8"/><rect x="289.32" y="495.20" width="1.35" height="1.15" fill="#2228a8"/><rect x="288.33" y="489.68" width="1.35" height="1.15" fill="#2228a8"/><rect x="291.46" y="515.64" width="1.35" height="1.15" fill="#2228a8"/><rect x="288.37" y="514.47" width="1.35" height="1.15" fill="#2228a8"/><rect x="291.42" y="509.08" width="1.35" height="1.15" fill="#2228a8"/><rect x="288.45" y="506.46" width="1.35" height="1.15" fill="#2228a8"/><rect x="289.56" y="495.96" width="1.35" height="1.15" fill="#2228a8"/><rect x="289.93" y="489.59" width="1.35" height="1.15" fill="#2228a8"/><rect x="291.21" y="511.92" width="1.35" height="1.15" fill="#2228a8"/><rect x="290.22" y="522.13" width="1.35" height="1.15" fill="#2228a8"/><rect x="290.30" y="498.12" width="1.35" height="1.15" fill="#2228a8"/><rect x="288.92" y="494.17" width="1.35" height="1.15" fill="#2228a8"/><rect x="288.18" y="516.48" width="1.35" height="1.15" fill="#2228a8"/><rect x="290.94" y="499.70" width="1.35" height="1.15" fill="#2228a8"/><rect x="288.72" y="511.70" width="1.35" height="1.15" fill="#2228a8"/><rect x="290.96" y="521.83" width="1.35" height="1.15" fill="#2228a8"/><rect x="288.66" y="516.84" width="1.35" height="1.15" fill="#2228a8"/><rect x="290.91" y="515.36" width="1.35" height="1.15" fill="#2228a8"/><rect x="289.20" y="495.78" width="1.35" height="1.15" fill="#2228a8"/><rect x="290.89" y="500.54" width="1.35" height="1.15" fill="#2228a8"/><rect x="289.34" y="508.64" width="1.35" height="1.15" fill="#2228a8"/><rect x="289.34" y="518.48" width="1.35" height="1.15" fill="#2228a8"/><rect x="288.90" y="490.75" width="1.35" height="1.15" fill="#2228a8"/><rect x="290.01" y="511.35" width="1.35" height="1.15" fill="#2228a8"/><rect x="290.87" y="514.07" width="1.35" height="1.15" fill="#2228a8"/><rect x="291.16" y="522.47" width="1.35" height="1.15" fill="#2228a8"/><rect x="289.77" y="506.83" width="1.35" height="1.15" fill="#2228a8"/><rect x="288.62" y="499.81" width="1.35" height="1.15" fill="#2228a8"/><rect x="290.06" y="492.12" width="1.35" height="1.15" fill="#2228a8"/><rect x="290.42" y="495.04" width="1.35" height="1.15" fill="#2228a8"/><rect x="289.59" y="523.34" width="1.35" height="1.15" fill="#2228a8"/><rect x="288.39" y="490.70" width="1.35" height="1.15" fill="#2228a8"/><rect x="289.58" y="496.00" width="1.35" height="1.15" fill="#2228a8"/><rect x="290.54" y="489.40" width="1.35" height="1.15" fill="#2228a8"/><rect x="290.94" y="519.32" width="1.35" height="1.15" fill="#2228a8"/><rect x="290.76" y="504.23" width="1.35" height="1.15" fill="#2228a8"/><rect x="289.05" y="512.52" width="1.35" height="1.15" fill="#2228a8"/><rect x="289.83" y="504.08" width="1.35" height="1.15" fill="#2228a8"/><rect x="289.24" y="504.70" width="1.35" height="1.15" fill="#2228a8"/><rect x="290.35" y="518.30" width="1.35" height="1.15" fill="#2228a8"/><rect x="291.16" y="495.07" width="1.35" height="1.15" fill="#2228a8"/><rect x="289.09" y="504.85" width="1.35" height="1.15" fill="#2228a8"/><ellipse cx="290.46" cy="482.55" rx="2.8" ry="7.75" fill="#f6f6fd" stroke="#4f58c4" stroke-width="0.65"/><rect x="290.02" y="469.26" width="1.20" height="1.02" fill="#3038b4"/><rect x="289.07" y="466.42" width="1.20" height="1.02" fill="#3038b4"/><rect x="289.40" y="470.47" width="1.20" height="1.02" fill="#3038b4"/><rect x="291.09" y="475.31" width="1.20" height="1.02" fill="#3038b4"/><rect x="290.81" y="476.02" width="1.20" height="1.02" fill="#3038b4"/><rect x="291.06" y="472.19" width="1.20" height="1.02" fill="#3038b4"/><rect x="290.67" y="466.15" width="1.20" height="1.02" fill="#3038b4"/><rect x="290.32" y="472.08" width="1.20" height="1.02" fill="#3038b4"/><rect x="289.33" y="471.67" width="1.20" height="1.02" fill="#3038b4"/><rect x="291.04" y="470.69" width="1.20" height="1.02" fill="#3038b4"/><rect x="290.24" y="468.73" width="1.20" height="1.02" fill="#3038b4"/><rect x="289.45" y="475.06" width="1.20" height="1.02" fill="#3038b4"/><rect x="288.63" y="467.54" width="1.20" height="1.02" fill="#3038b4"/><rect x="290.32" y="470.33" width="1.20" height="1.02" fill="#3038b4"/>
<ellipse cx="290.46" cy="540.40" rx="7.10" ry="17.00" fill="#e8e9f8" stroke="#8a90dc" stroke-width="0.5"/><ellipse cx="290.46" cy="541.80" rx="6.50" ry="14.30" fill="#c4c7ef" stroke="#6a72d6" stroke-width="0.5"/><ellipse cx="290.46" cy="542.50" rx="6.30" ry="12.90" fill="#9096e2" stroke="#5058cc" stroke-width="0.45"/><ellipse cx="290.46" cy="543.00" rx="5.50" ry="11.50" fill="#2f3ee8"/><ellipse cx="290.46" cy="543.00" rx="4.29" ry="10.12" fill="#1ccff5"/><ellipse cx="290.46" cy="543.00" rx="3.46" ry="8.74" fill="#4cd64a"/><ellipse cx="290.46" cy="543.00" rx="2.53" ry="6.90" fill="#eeee22"/><ellipse cx="290.46" cy="542.31" rx="1.87" ry="4.83" fill="#ff9a1e"/><ellipse cx="290.46" cy="542.08" rx="1.10" ry="2.76" fill="#ff3a22"/>
<path d="M300.15,532.40 C300.15,525.20 304.05,518.32 306.15,516.40 C308.25,518.32 312.15,525.20 312.15,532.40 Z" fill="#f2f3fc" stroke="#6e76d4" stroke-width="0.5"/><path d="M304.55,476.40 L304.55,525.40 M307.75,476.40 L307.75,525.40" stroke="#6a72d2" stroke-width="0.5"/><rect x="304.06" y="507.76" width="1.35" height="1.15" fill="#2228a8"/><rect x="305.04" y="503.86" width="1.35" height="1.15" fill="#2228a8"/><rect x="305.19" y="501.37" width="1.35" height="1.15" fill="#2228a8"/><rect x="305.70" y="494.82" width="1.35" height="1.15" fill="#2228a8"/><rect x="304.16" y="484.24" width="1.35" height="1.15" fill="#2228a8"/><rect x="306.80" y="502.26" width="1.35" height="1.15" fill="#2228a8"/><rect x="304.16" y="517.65" width="1.35" height="1.15" fill="#2228a8"/><rect x="304.64" y="480.05" width="1.35" height="1.15" fill="#2228a8"/><rect x="305.58" y="487.73" width="1.35" height="1.15" fill="#2228a8"/><rect x="305.44" y="502.55" width="1.35" height="1.15" fill="#2228a8"/><rect x="304.55" y="503.46" width="1.35" height="1.15" fill="#2228a8"/><rect x="304.16" y="500.55" width="1.35" height="1.15" fill="#2228a8"/><rect x="305.78" y="479.33" width="1.35" height="1.15" fill="#2228a8"/><rect x="305.16" y="479.00" width="1.35" height="1.15" fill="#2228a8"/><rect x="305.27" y="517.71" width="1.35" height="1.15" fill="#2228a8"/><rect x="305.65" y="510.42" width="1.35" height="1.15" fill="#2228a8"/><rect x="306.35" y="481.02" width="1.35" height="1.15" fill="#2228a8"/><rect x="307.14" y="510.76" width="1.35" height="1.15" fill="#2228a8"/><rect x="304.12" y="516.08" width="1.35" height="1.15" fill="#2228a8"/><rect x="305.11" y="483.79" width="1.35" height="1.15" fill="#2228a8"/><rect x="307.04" y="502.99" width="1.35" height="1.15" fill="#2228a8"/><rect x="306.41" y="482.10" width="1.35" height="1.15" fill="#2228a8"/><rect x="306.41" y="478.22" width="1.35" height="1.15" fill="#2228a8"/><rect x="304.58" y="493.64" width="1.35" height="1.15" fill="#2228a8"/><rect x="303.83" y="504.52" width="1.35" height="1.15" fill="#2228a8"/><rect x="304.50" y="490.10" width="1.35" height="1.15" fill="#2228a8"/><rect x="306.18" y="496.27" width="1.35" height="1.15" fill="#2228a8"/><rect x="306.80" y="505.84" width="1.35" height="1.15" fill="#2228a8"/><rect x="306.74" y="502.99" width="1.35" height="1.15" fill="#2228a8"/><rect x="306.89" y="518.07" width="1.35" height="1.15" fill="#2228a8"/><rect x="304.35" y="511.93" width="1.35" height="1.15" fill="#2228a8"/><rect x="304.94" y="512.82" width="1.35" height="1.15" fill="#2228a8"/><rect x="306.09" y="515.86" width="1.35" height="1.15" fill="#2228a8"/><rect x="304.19" y="493.68" width="1.35" height="1.15" fill="#2228a8"/><rect x="306.28" y="521.85" width="1.35" height="1.15" fill="#2228a8"/><rect x="306.23" y="477.53" width="1.35" height="1.15" fill="#2228a8"/><rect x="305.83" y="480.28" width="1.35" height="1.15" fill="#2228a8"/><rect x="305.64" y="514.75" width="1.35" height="1.15" fill="#2228a8"/><rect x="304.16" y="520.74" width="1.35" height="1.15" fill="#2228a8"/><rect x="306.07" y="487.88" width="1.35" height="1.15" fill="#2228a8"/><rect x="304.43" y="497.29" width="1.35" height="1.15" fill="#2228a8"/><rect x="306.62" y="503.89" width="1.35" height="1.15" fill="#2228a8"/><rect x="304.16" y="476.43" width="1.35" height="1.15" fill="#2228a8"/><rect x="304.15" y="514.63" width="1.35" height="1.15" fill="#2228a8"/><rect x="304.40" y="502.56" width="1.35" height="1.15" fill="#2228a8"/><rect x="304.76" y="509.07" width="1.35" height="1.15" fill="#2228a8"/><rect x="305.07" y="482.47" width="1.35" height="1.15" fill="#2228a8"/><rect x="306.75" y="501.78" width="1.35" height="1.15" fill="#2228a8"/><rect x="306.12" y="515.00" width="1.35" height="1.15" fill="#2228a8"/><rect x="307.00" y="476.08" width="1.35" height="1.15" fill="#2228a8"/><rect x="304.94" y="482.80" width="1.35" height="1.15" fill="#2228a8"/><rect x="305.48" y="518.18" width="1.35" height="1.15" fill="#2228a8"/><rect x="306.50" y="477.14" width="1.35" height="1.15" fill="#2228a8"/><rect x="304.39" y="515.50" width="1.35" height="1.15" fill="#2228a8"/><rect x="306.09" y="494.64" width="1.35" height="1.15" fill="#2228a8"/><rect x="305.39" y="483.16" width="1.35" height="1.15" fill="#2228a8"/><rect x="306.65" y="494.68" width="1.35" height="1.15" fill="#2228a8"/><rect x="306.74" y="505.33" width="1.35" height="1.15" fill="#2228a8"/><rect x="304.03" y="491.53" width="1.35" height="1.15" fill="#2228a8"/><rect x="304.51" y="519.21" width="1.35" height="1.15" fill="#2228a8"/><rect x="305.78" y="477.54" width="1.35" height="1.15" fill="#2228a8"/><rect x="304.35" y="493.09" width="1.35" height="1.15" fill="#2228a8"/><rect x="305.37" y="503.68" width="1.35" height="1.15" fill="#2228a8"/><rect x="305.09" y="492.73" width="1.35" height="1.15" fill="#2228a8"/><rect x="303.80" y="503.78" width="1.35" height="1.15" fill="#2228a8"/><rect x="304.91" y="476.41" width="1.35" height="1.15" fill="#2228a8"/><rect x="305.34" y="523.73" width="1.35" height="1.15" fill="#2228a8"/><rect x="303.93" y="482.55" width="1.35" height="1.15" fill="#2228a8"/><rect x="306.06" y="488.76" width="1.35" height="1.15" fill="#2228a8"/><rect x="304.70" y="499.90" width="1.35" height="1.15" fill="#2228a8"/><rect x="304.67" y="503.28" width="1.35" height="1.15" fill="#2228a8"/><rect x="305.57" y="522.29" width="1.35" height="1.15" fill="#2228a8"/><rect x="307.15" y="477.07" width="1.35" height="1.15" fill="#2228a8"/><rect x="305.68" y="513.17" width="1.35" height="1.15" fill="#2228a8"/><rect x="306.74" y="513.34" width="1.35" height="1.15" fill="#2228a8"/><rect x="305.93" y="506.50" width="1.35" height="1.15" fill="#2228a8"/><rect x="305.01" y="489.20" width="1.35" height="1.15" fill="#2228a8"/><rect x="306.48" y="518.17" width="1.35" height="1.15" fill="#2228a8"/><rect x="306.97" y="508.79" width="1.35" height="1.15" fill="#2228a8"/><rect x="304.81" y="512.80" width="1.35" height="1.15" fill="#2228a8"/><rect x="306.29" y="500.34" width="1.35" height="1.15" fill="#2228a8"/><rect x="305.93" y="492.57" width="1.35" height="1.15" fill="#2228a8"/><rect x="305.65" y="495.29" width="1.35" height="1.15" fill="#2228a8"/><rect x="303.98" y="491.92" width="1.35" height="1.15" fill="#2228a8"/><rect x="304.87" y="523.83" width="1.35" height="1.15" fill="#2228a8"/><rect x="305.41" y="493.40" width="1.35" height="1.15" fill="#2228a8"/><rect x="304.60" y="486.91" width="1.35" height="1.15" fill="#2228a8"/><rect x="304.96" y="482.05" width="1.35" height="1.15" fill="#2228a8"/><rect x="303.80" y="518.08" width="1.35" height="1.15" fill="#2228a8"/><rect x="305.32" y="497.23" width="1.35" height="1.15" fill="#2228a8"/><rect x="305.71" y="490.22" width="1.35" height="1.15" fill="#2228a8"/><rect x="304.35" y="478.65" width="1.35" height="1.15" fill="#2228a8"/><rect x="304.80" y="490.52" width="1.35" height="1.15" fill="#2228a8"/><rect x="306.25" y="502.41" width="1.35" height="1.15" fill="#2228a8"/><rect x="306.96" y="492.08" width="1.35" height="1.15" fill="#2228a8"/><rect x="306.91" y="503.98" width="1.35" height="1.15" fill="#2228a8"/><rect x="304.05" y="484.16" width="1.35" height="1.15" fill="#2228a8"/><rect x="305.75" y="523.79" width="1.35" height="1.15" fill="#2228a8"/><rect x="304.99" y="513.35" width="1.35" height="1.15" fill="#2228a8"/><rect x="305.23" y="517.95" width="1.35" height="1.15" fill="#2228a8"/><rect x="304.01" y="499.14" width="1.35" height="1.15" fill="#2228a8"/><rect x="306.83" y="488.92" width="1.35" height="1.15" fill="#2228a8"/><rect x="304.65" y="476.53" width="1.35" height="1.15" fill="#2228a8"/><rect x="304.33" y="488.53" width="1.35" height="1.15" fill="#2228a8"/><rect x="306.17" y="486.10" width="1.35" height="1.15" fill="#2228a8"/><ellipse cx="306.15" cy="470.20" rx="2.8" ry="6.20" fill="#f6f6fd" stroke="#4f58c4" stroke-width="0.65"/><rect x="305.29" y="459.34" width="1.20" height="1.02" fill="#3038b4"/><rect x="305.82" y="464.45" width="1.20" height="1.02" fill="#3038b4"/><rect x="305.94" y="459.31" width="1.20" height="1.02" fill="#3038b4"/><rect x="306.16" y="465.22" width="1.20" height="1.02" fill="#3038b4"/><rect x="305.81" y="458.41" width="1.20" height="1.02" fill="#3038b4"/><rect x="306.35" y="464.54" width="1.20" height="1.02" fill="#3038b4"/><rect x="305.14" y="458.85" width="1.20" height="1.02" fill="#3038b4"/><rect x="304.74" y="461.93" width="1.20" height="1.02" fill="#3038b4"/><rect x="306.53" y="462.73" width="1.20" height="1.02" fill="#3038b4"/><rect x="306.65" y="459.43" width="1.20" height="1.02" fill="#3038b4"/>
<ellipse cx="306.15" cy="540.40" rx="7.10" ry="17.00" fill="#e8e9f8" stroke="#8a90dc" stroke-width="0.5"/><ellipse cx="306.15" cy="541.80" rx="6.50" ry="14.30" fill="#c4c7ef" stroke="#6a72d6" stroke-width="0.5"/><ellipse cx="306.15" cy="542.50" rx="6.30" ry="12.90" fill="#9096e2" stroke="#5058cc" stroke-width="0.45"/><ellipse cx="306.15" cy="543.00" rx="5.50" ry="11.50" fill="#2f3ee8"/><ellipse cx="306.15" cy="543.00" rx="4.29" ry="10.12" fill="#1ccff5"/><ellipse cx="306.15" cy="543.00" rx="3.46" ry="8.74" fill="#4cd64a"/><ellipse cx="306.15" cy="543.00" rx="2.53" ry="6.90" fill="#eeee22"/><ellipse cx="306.15" cy="542.31" rx="1.87" ry="4.83" fill="#ff9a1e"/><ellipse cx="306.15" cy="542.08" rx="1.10" ry="2.76" fill="#ff3a22"/>
<path d="M315.84,532.40 C315.84,525.20 319.74,518.32 321.84,516.40 C323.94,518.32 327.84,525.20 327.84,532.40 Z" fill="#f2f3fc" stroke="#6e76d4" stroke-width="0.5"/><path d="M320.24,465.50 L320.24,525.40 M323.44,465.50 L323.44,525.40" stroke="#6a72d2" stroke-width="0.5"/><rect x="320.58" y="509.38" width="1.35" height="1.15" fill="#2228a8"/><rect x="321.67" y="488.78" width="1.35" height="1.15" fill="#2228a8"/><rect x="321.77" y="484.73" width="1.35" height="1.15" fill="#2228a8"/><rect x="319.66" y="489.31" width="1.35" height="1.15" fill="#2228a8"/><rect x="319.62" y="502.02" width="1.35" height="1.15" fill="#2228a8"/><rect x="320.60" y="494.11" width="1.35" height="1.15" fill="#2228a8"/><rect x="321.50" y="479.90" width="1.35" height="1.15" fill="#2228a8"/><rect x="321.04" y="465.31" width="1.35" height="1.15" fill="#2228a8"/><rect x="322.61" y="498.29" width="1.35" height="1.15" fill="#2228a8"/><rect x="322.82" y="467.86" width="1.35" height="1.15" fill="#2228a8"/><rect x="321.55" y="507.88" width="1.35" height="1.15" fill="#2228a8"/><rect x="320.58" y="470.10" width="1.35" height="1.15" fill="#2228a8"/><rect x="320.00" y="473.05" width="1.35" height="1.15" fill="#2228a8"/><rect x="322.07" y="469.88" width="1.35" height="1.15" fill="#2228a8"/><rect x="322.23" y="489.85" width="1.35" height="1.15" fill="#2228a8"/><rect x="321.30" y="499.75" width="1.35" height="1.15" fill="#2228a8"/><rect x="321.35" y="503.88" width="1.35" height="1.15" fill="#2228a8"/><rect x="321.51" y="484.32" width="1.35" height="1.15" fill="#2228a8"/><rect x="321.98" y="479.94" width="1.35" height="1.15" fill="#2228a8"/><rect x="321.88" y="510.22" width="1.35" height="1.15" fill="#2228a8"/><rect x="322.10" y="483.02" width="1.35" height="1.15" fill="#2228a8"/><rect x="322.09" y="523.05" width="1.35" height="1.15" fill="#2228a8"/><rect x="321.01" y="481.17" width="1.35" height="1.15" fill="#2228a8"/><rect x="321.24" y="520.86" width="1.35" height="1.15" fill="#2228a8"/><rect x="319.91" y="465.04" width="1.35" height="1.15" fill="#2228a8"/><rect x="321.08" y="503.76" width="1.35" height="1.15" fill="#2228a8"/><rect x="322.10" y="486.21" width="1.35" height="1.15" fill="#2228a8"/><rect x="322.83" y="478.17" width="1.35" height="1.15" fill="#2228a8"/><rect x="322.04" y="469.89" width="1.35" height="1.15" fill="#2228a8"/><rect x="319.56" y="472.54" width="1.35" height="1.15" fill="#2228a8"/><rect x="319.67" y="494.56" width="1.35" height="1.15" fill="#2228a8"/><rect x="321.35" y="475.39" width="1.35" height="1.15" fill="#2228a8"/><rect x="322.66" y="486.40" width="1.35" height="1.15" fill="#2228a8"/><rect x="319.97" y="475.13" width="1.35" height="1.15" fill="#2228a8"/><rect x="321.97" y="519.70" width="1.35" height="1.15" fill="#2228a8"/><rect x="320.02" y="466.24" width="1.35" height="1.15" fill="#2228a8"/><rect x="322.11" y="479.03" width="1.35" height="1.15" fill="#2228a8"/><rect x="322.80" y="494.39" width="1.35" height="1.15" fill="#2228a8"/><rect x="321.63" y="485.12" width="1.35" height="1.15" fill="#2228a8"/><rect x="322.19" y="492.06" width="1.35" height="1.15" fill="#2228a8"/><rect x="320.57" y="518.62" width="1.35" height="1.15" fill="#2228a8"/><rect x="319.83" y="508.43" width="1.35" height="1.15" fill="#2228a8"/><rect x="319.69" y="503.16" width="1.35" height="1.15" fill="#2228a8"/><rect x="320.83" y="516.26" width="1.35" height="1.15" fill="#2228a8"/><rect x="319.67" y="498.30" width="1.35" height="1.15" fill="#2228a8"/><rect x="320.86" y="519.56" width="1.35" height="1.15" fill="#2228a8"/><rect x="322.68" y="502.06" width="1.35" height="1.15" fill="#2228a8"/><rect x="320.23" y="479.59" width="1.35" height="1.15" fill="#2228a8"/><rect x="320.36" y="490.48" width="1.35" height="1.15" fill="#2228a8"/><rect x="320.25" y="476.67" width="1.35" height="1.15" fill="#2228a8"/><rect x="322.05" y="503.00" width="1.35" height="1.15" fill="#2228a8"/><rect x="320.48" y="524.06" width="1.35" height="1.15" fill="#2228a8"/><rect x="320.20" y="498.61" width="1.35" height="1.15" fill="#2228a8"/><rect x="320.00" y="516.20" width="1.35" height="1.15" fill="#2228a8"/><rect x="322.42" y="480.51" width="1.35" height="1.15" fill="#2228a8"/><rect x="322.02" y="513.79" width="1.35" height="1.15" fill="#2228a8"/><rect x="320.43" y="484.36" width="1.35" height="1.15" fill="#2228a8"/><rect x="321.12" y="517.87" width="1.35" height="1.15" fill="#2228a8"/><rect x="320.01" y="505.40" width="1.35" height="1.15" fill="#2228a8"/><rect x="321.50" y="491.64" width="1.35" height="1.15" fill="#2228a8"/><rect x="321.43" y="517.38" width="1.35" height="1.15" fill="#2228a8"/><rect x="320.18" y="517.43" width="1.35" height="1.15" fill="#2228a8"/><rect x="320.69" y="511.21" width="1.35" height="1.15" fill="#2228a8"/><rect x="322.40" y="475.42" width="1.35" height="1.15" fill="#2228a8"/><rect x="322.40" y="524.09" width="1.35" height="1.15" fill="#2228a8"/><rect x="320.48" y="465.96" width="1.35" height="1.15" fill="#2228a8"/><rect x="319.84" y="522.86" width="1.35" height="1.15" fill="#2228a8"/><rect x="319.50" y="519.11" width="1.35" height="1.15" fill="#2228a8"/><rect x="319.98" y="508.59" width="1.35" height="1.15" fill="#2228a8"/><rect x="319.80" y="474.61" width="1.35" height="1.15" fill="#2228a8"/><rect x="321.79" y="469.90" width="1.35" height="1.15" fill="#2228a8"/><rect x="320.62" y="519.52" width="1.35" height="1.15" fill="#2228a8"/><rect x="321.90" y="517.33" width="1.35" height="1.15" fill="#2228a8"/><rect x="322.80" y="466.47" width="1.35" height="1.15" fill="#2228a8"/><rect x="320.26" y="511.95" width="1.35" height="1.15" fill="#2228a8"/><rect x="321.81" y="466.77" width="1.35" height="1.15" fill="#2228a8"/><rect x="321.18" y="478.37" width="1.35" height="1.15" fill="#2228a8"/><rect x="320.93" y="470.78" width="1.35" height="1.15" fill="#2228a8"/><rect x="319.53" y="523.85" width="1.35" height="1.15" fill="#2228a8"/><rect x="320.54" y="517.13" width="1.35" height="1.15" fill="#2228a8"/><rect x="319.87" y="493.69" width="1.35" height="1.15" fill="#2228a8"/><rect x="319.93" y="490.17" width="1.35" height="1.15" fill="#2228a8"/><rect x="320.07" y="505.55" width="1.35" height="1.15" fill="#2228a8"/><rect x="319.97" y="508.72" width="1.35" height="1.15" fill="#2228a8"/><rect x="321.17" y="471.23" width="1.35" height="1.15" fill="#2228a8"/><rect x="320.67" y="494.23" width="1.35" height="1.15" fill="#2228a8"/><rect x="322.59" y="485.43" width="1.35" height="1.15" fill="#2228a8"/><rect x="320.20" y="522.45" width="1.35" height="1.15" fill="#2228a8"/><rect x="322.47" y="508.31" width="1.35" height="1.15" fill="#2228a8"/><rect x="320.39" y="475.12" width="1.35" height="1.15" fill="#2228a8"/><rect x="320.36" y="468.63" width="1.35" height="1.15" fill="#2228a8"/><rect x="319.61" y="494.97" width="1.35" height="1.15" fill="#2228a8"/><rect x="320.85" y="497.84" width="1.35" height="1.15" fill="#2228a8"/><rect x="320.70" y="465.13" width="1.35" height="1.15" fill="#2228a8"/><rect x="321.80" y="503.62" width="1.35" height="1.15" fill="#2228a8"/><rect x="321.31" y="497.37" width="1.35" height="1.15" fill="#2228a8"/><rect x="321.81" y="523.34" width="1.35" height="1.15" fill="#2228a8"/><rect x="322.44" y="507.49" width="1.35" height="1.15" fill="#2228a8"/><rect x="320.82" y="483.56" width="1.35" height="1.15" fill="#2228a8"/><rect x="320.89" y="522.78" width="1.35" height="1.15" fill="#2228a8"/><rect x="320.78" y="487.59" width="1.35" height="1.15" fill="#2228a8"/><rect x="320.86" y="473.07" width="1.35" height="1.15" fill="#2228a8"/><rect x="322.86" y="464.81" width="1.35" height="1.15" fill="#2228a8"/><rect x="321.53" y="519.98" width="1.35" height="1.15" fill="#2228a8"/><rect x="320.33" y="501.09" width="1.35" height="1.15" fill="#2228a8"/><rect x="320.75" y="478.92" width="1.35" height="1.15" fill="#2228a8"/><rect x="320.14" y="471.46" width="1.35" height="1.15" fill="#2228a8"/><rect x="322.33" y="511.46" width="1.35" height="1.15" fill="#2228a8"/><rect x="322.55" y="467.47" width="1.35" height="1.15" fill="#2228a8"/><rect x="321.83" y="483.93" width="1.35" height="1.15" fill="#2228a8"/><rect x="321.66" y="497.38" width="1.35" height="1.15" fill="#2228a8"/><rect x="320.54" y="522.70" width="1.35" height="1.15" fill="#2228a8"/><rect x="319.47" y="509.20" width="1.35" height="1.15" fill="#2228a8"/><rect x="322.37" y="495.06" width="1.35" height="1.15" fill="#2228a8"/><rect x="321.48" y="524.09" width="1.35" height="1.15" fill="#2228a8"/><rect x="320.26" y="502.21" width="1.35" height="1.15" fill="#2228a8"/><rect x="321.99" y="487.19" width="1.35" height="1.15" fill="#2228a8"/><rect x="321.89" y="488.07" width="1.35" height="1.15" fill="#2228a8"/><rect x="321.25" y="501.21" width="1.35" height="1.15" fill="#2228a8"/><rect x="321.77" y="483.80" width="1.35" height="1.15" fill="#2228a8"/><rect x="321.60" y="497.03" width="1.35" height="1.15" fill="#2228a8"/><rect x="320.22" y="501.19" width="1.35" height="1.15" fill="#2228a8"/><rect x="320.37" y="518.93" width="1.35" height="1.15" fill="#2228a8"/><rect x="321.07" y="507.72" width="1.35" height="1.15" fill="#2228a8"/><rect x="321.24" y="493.05" width="1.35" height="1.15" fill="#2228a8"/><rect x="320.22" y="473.01" width="1.35" height="1.15" fill="#2228a8"/><rect x="322.62" y="496.17" width="1.35" height="1.15" fill="#2228a8"/><rect x="321.25" y="496.10" width="1.35" height="1.15" fill="#2228a8"/><rect x="322.23" y="478.79" width="1.35" height="1.15" fill="#2228a8"/><ellipse cx="321.84" cy="457.75" rx="2.8" ry="7.75" fill="#f6f6fd" stroke="#4f58c4" stroke-width="0.65"/><rect x="320.39" y="450.70" width="1.20" height="1.02" fill="#3038b4"/><rect x="321.14" y="449.88" width="1.20" height="1.02" fill="#3038b4"/><rect x="322.09" y="451.02" width="1.20" height="1.02" fill="#3038b4"/><rect x="322.20" y="447.19" width="1.20" height="1.02" fill="#3038b4"/><rect x="320.93" y="450.74" width="1.20" height="1.02" fill="#3038b4"/><rect x="322.07" y="447.55" width="1.20" height="1.02" fill="#3038b4"/>
<ellipse cx="321.84" cy="540.40" rx="7.10" ry="17.00" fill="#e8e9f8" stroke="#8a90dc" stroke-width="0.5"/><ellipse cx="321.84" cy="541.80" rx="6.50" ry="14.30" fill="#c4c7ef" stroke="#6a72d6" stroke-width="0.5"/><ellipse cx="321.84" cy="542.50" rx="6.30" ry="12.90" fill="#9096e2" stroke="#5058cc" stroke-width="0.45"/><ellipse cx="321.84" cy="543.00" rx="5.50" ry="11.50" fill="#2f3ee8"/><ellipse cx="321.84" cy="543.00" rx="4.29" ry="10.12" fill="#1ccff5"/><ellipse cx="321.84" cy="543.00" rx="3.46" ry="8.74" fill="#4cd64a"/><ellipse cx="321.84" cy="543.00" rx="2.53" ry="6.90" fill="#eeee22"/><ellipse cx="321.84" cy="542.31" rx="1.87" ry="4.83" fill="#ff9a1e"/><ellipse cx="321.84" cy="542.08" rx="1.10" ry="2.76" fill="#ff3a22"/>
<path d="M331.53,532.40 C331.53,525.20 335.43,518.32 337.53,516.40 C339.63,518.32 343.53,525.20 343.53,532.40 Z" fill="#f2f3fc" stroke="#6e76d4" stroke-width="0.5"/><path d="M335.93,456.30 L335.93,525.40 M339.13,456.30 L339.13,525.40" stroke="#6a72d2" stroke-width="0.5"/><rect x="335.68" y="472.68" width="1.35" height="1.15" fill="#2228a8"/><rect x="335.50" y="479.94" width="1.35" height="1.15" fill="#2228a8"/><rect x="337.89" y="491.33" width="1.35" height="1.15" fill="#2228a8"/><rect x="336.69" y="461.38" width="1.35" height="1.15" fill="#2228a8"/><rect x="336.50" y="524.19" width="1.35" height="1.15" fill="#2228a8"/><rect x="337.52" y="486.35" width="1.35" height="1.15" fill="#2228a8"/><rect x="336.78" y="510.46" width="1.35" height="1.15" fill="#2228a8"/><rect x="337.73" y="465.66" width="1.35" height="1.15" fill="#2228a8"/><rect x="337.47" y="480.65" width="1.35" height="1.15" fill="#2228a8"/><rect x="336.93" y="471.72" width="1.35" height="1.15" fill="#2228a8"/><rect x="336.42" y="478.80" width="1.35" height="1.15" fill="#2228a8"/><rect x="336.45" y="456.53" width="1.35" height="1.15" fill="#2228a8"/><rect x="335.84" y="494.73" width="1.35" height="1.15" fill="#2228a8"/><rect x="335.35" y="467.63" width="1.35" height="1.15" fill="#2228a8"/><rect x="337.60" y="474.27" width="1.35" height="1.15" fill="#2228a8"/><rect x="336.26" y="472.01" width="1.35" height="1.15" fill="#2228a8"/><rect x="337.99" y="461.61" width="1.35" height="1.15" fill="#2228a8"/><rect x="337.32" y="514.65" width="1.35" height="1.15" fill="#2228a8"/><rect x="335.84" y="484.54" width="1.35" height="1.15" fill="#2228a8"/><rect x="337.85" y="497.99" width="1.35" height="1.15" fill="#2228a8"/><rect x="336.42" y="458.33" width="1.35" height="1.15" fill="#2228a8"/><rect x="336.66" y="480.67" width="1.35" height="1.15" fill="#2228a8"/><rect x="337.58" y="475.70" width="1.35" height="1.15" fill="#2228a8"/><rect x="336.54" y="500.09" width="1.35" height="1.15" fill="#2228a8"/><rect x="337.91" y="479.65" width="1.35" height="1.15" fill="#2228a8"/><rect x="336.47" y="495.29" width="1.35" height="1.15" fill="#2228a8"/><rect x="338.30" y="468.54" width="1.35" height="1.15" fill="#2228a8"/><rect x="338.46" y="504.49" width="1.35" height="1.15" fill="#2228a8"/><rect x="336.42" y="501.29" width="1.35" height="1.15" fill="#2228a8"/><rect x="336.28" y="460.19" width="1.35" height="1.15" fill="#2228a8"/><rect x="337.73" y="481.52" width="1.35" height="1.15" fill="#2228a8"/><rect x="336.94" y="489.62" width="1.35" height="1.15" fill="#2228a8"/><rect x="338.22" y="507.61" width="1.35" height="1.15" fill="#2228a8"/><rect x="335.24" y="496.26" width="1.35" height="1.15" fill="#2228a8"/><rect x="336.73" y="487.24" width="1.35" height="1.15" fill="#2228a8"/><rect x="338.01" y="483.97" width="1.35" height="1.15" fill="#2228a8"/><rect x="336.77" y="516.82" width="1.35" height="1.15" fill="#2228a8"/><rect x="336.65" y="489.25" width="1.35" height="1.15" fill="#2228a8"/><rect x="336.90" y="512.28" width="1.35" height="1.15" fill="#2228a8"/><rect x="337.43" y="506.46" width="1.35" height="1.15" fill="#2228a8"/><rect x="336.52" y="458.10" width="1.35" height="1.15" fill="#2228a8"/><rect x="337.47" y="493.57" width="1.35" height="1.15" fill="#2228a8"/><rect x="337.77" y="508.50" width="1.35" height="1.15" fill="#2228a8"/><rect x="335.56" y="470.55" width="1.35" height="1.15" fill="#2228a8"/><rect x="335.42" y="511.79" width="1.35" height="1.15" fill="#2228a8"/><rect x="335.50" y="461.40" width="1.35" height="1.15" fill="#2228a8"/><rect x="337.72" y="494.30" width="1.35" height="1.15" fill="#2228a8"/><rect x="335.34" y="502.36" width="1.35" height="1.15" fill="#2228a8"/><rect x="337.57" y="488.66" width="1.35" height="1.15" fill="#2228a8"/><rect x="335.34" y="503.05" width="1.35" height="1.15" fill="#2228a8"/><rect x="336.58" y="495.65" width="1.35" height="1.15" fill="#2228a8"/><rect x="338.55" y="511.74" width="1.35" height="1.15" fill="#2228a8"/><rect x="338.12" y="465.36" width="1.35" height="1.15" fill="#2228a8"/><rect x="336.29" y="491.11" width="1.35" height="1.15" fill="#2228a8"/><rect x="335.18" y="523.62" width="1.35" height="1.15" fill="#2228a8"/><rect x="336.09" y="473.43" width="1.35" height="1.15" fill="#2228a8"/><rect x="336.22" y="472.92" width="1.35" height="1.15" fill="#2228a8"/><rect x="338.08" y="493.70" width="1.35" height="1.15" fill="#2228a8"/><rect x="336.89" y="484.34" width="1.35" height="1.15" fill="#2228a8"/><rect x="335.33" y="476.34" width="1.35" height="1.15" fill="#2228a8"/><rect x="338.10" y="510.72" width="1.35" height="1.15" fill="#2228a8"/><rect x="338.07" y="473.06" width="1.35" height="1.15" fill="#2228a8"/><rect x="335.84" y="458.90" width="1.35" height="1.15" fill="#2228a8"/><rect x="336.98" y="481.13" width="1.35" height="1.15" fill="#2228a8"/><rect x="336.73" y="489.09" width="1.35" height="1.15" fill="#2228a8"/><rect x="337.14" y="480.57" width="1.35" height="1.15" fill="#2228a8"/><rect x="337.88" y="469.14" width="1.35" height="1.15" fill="#2228a8"/><rect x="338.28" y="493.73" width="1.35" height="1.15" fill="#2228a8"/><rect x="335.33" y="477.02" width="1.35" height="1.15" fill="#2228a8"/><rect x="336.97" y="483.56" width="1.35" height="1.15" fill="#2228a8"/><rect x="337.08" y="477.66" width="1.35" height="1.15" fill="#2228a8"/><rect x="336.09" y="510.31" width="1.35" height="1.15" fill="#2228a8"/><rect x="336.15" y="504.40" width="1.35" height="1.15" fill="#2228a8"/><rect x="337.88" y="496.21" width="1.35" height="1.15" fill="#2228a8"/><rect x="336.70" y="519.90" width="1.35" height="1.15" fill="#2228a8"/><rect x="336.67" y="515.97" width="1.35" height="1.15" fill="#2228a8"/><rect x="335.35" y="485.27" width="1.35" height="1.15" fill="#2228a8"/><rect x="337.33" y="458.68" width="1.35" height="1.15" fill="#2228a8"/><rect x="338.09" y="460.27" width="1.35" height="1.15" fill="#2228a8"/><rect x="337.18" y="467.75" width="1.35" height="1.15" fill="#2228a8"/><rect x="338.29" y="494.07" width="1.35" height="1.15" fill="#2228a8"/><rect x="337.88" y="489.73" width="1.35" height="1.15" fill="#2228a8"/><rect x="337.45" y="501.94" width="1.35" height="1.15" fill="#2228a8"/><rect x="336.16" y="469.88" width="1.35" height="1.15" fill="#2228a8"/><rect x="338.01" y="465.37" width="1.35" height="1.15" fill="#2228a8"/><rect x="338.28" y="469.60" width="1.35" height="1.15" fill="#2228a8"/><rect x="335.50" y="461.88" width="1.35" height="1.15" fill="#2228a8"/><rect x="337.82" y="521.01" width="1.35" height="1.15" fill="#2228a8"/><rect x="336.56" y="500.83" width="1.35" height="1.15" fill="#2228a8"/><rect x="336.03" y="517.90" width="1.35" height="1.15" fill="#2228a8"/><rect x="337.49" y="466.00" width="1.35" height="1.15" fill="#2228a8"/><rect x="335.35" y="503.37" width="1.35" height="1.15" fill="#2228a8"/><rect x="335.30" y="513.08" width="1.35" height="1.15" fill="#2228a8"/><rect x="336.15" y="471.38" width="1.35" height="1.15" fill="#2228a8"/><rect x="337.13" y="477.32" width="1.35" height="1.15" fill="#2228a8"/><rect x="337.06" y="465.94" width="1.35" height="1.15" fill="#2228a8"/><rect x="338.26" y="477.72" width="1.35" height="1.15" fill="#2228a8"/><rect x="338.02" y="465.80" width="1.35" height="1.15" fill="#2228a8"/><rect x="337.87" y="523.02" width="1.35" height="1.15" fill="#2228a8"/><rect x="336.49" y="457.58" width="1.35" height="1.15" fill="#2228a8"/><rect x="336.45" y="499.58" width="1.35" height="1.15" fill="#2228a8"/><rect x="335.91" y="493.01" width="1.35" height="1.15" fill="#2228a8"/><rect x="335.47" y="487.39" width="1.35" height="1.15" fill="#2228a8"/><rect x="337.63" y="485.00" width="1.35" height="1.15" fill="#2228a8"/><rect x="337.46" y="463.20" width="1.35" height="1.15" fill="#2228a8"/><rect x="337.97" y="463.74" width="1.35" height="1.15" fill="#2228a8"/><rect x="338.29" y="524.13" width="1.35" height="1.15" fill="#2228a8"/><rect x="338.35" y="491.67" width="1.35" height="1.15" fill="#2228a8"/><rect x="336.14" y="479.34" width="1.35" height="1.15" fill="#2228a8"/><rect x="337.71" y="489.61" width="1.35" height="1.15" fill="#2228a8"/><rect x="338.32" y="461.73" width="1.35" height="1.15" fill="#2228a8"/><rect x="336.80" y="515.00" width="1.35" height="1.15" fill="#2228a8"/><rect x="337.19" y="492.66" width="1.35" height="1.15" fill="#2228a8"/><rect x="335.46" y="464.95" width="1.35" height="1.15" fill="#2228a8"/><rect x="336.08" y="517.01" width="1.35" height="1.15" fill="#2228a8"/><rect x="338.03" y="471.00" width="1.35" height="1.15" fill="#2228a8"/><rect x="338.30" y="457.54" width="1.35" height="1.15" fill="#2228a8"/><rect x="337.19" y="522.14" width="1.35" height="1.15" fill="#2228a8"/><rect x="336.33" y="520.56" width="1.35" height="1.15" fill="#2228a8"/><rect x="337.39" y="458.76" width="1.35" height="1.15" fill="#2228a8"/><rect x="336.29" y="486.37" width="1.35" height="1.15" fill="#2228a8"/><rect x="336.00" y="506.60" width="1.35" height="1.15" fill="#2228a8"/><rect x="335.76" y="509.73" width="1.35" height="1.15" fill="#2228a8"/><rect x="336.17" y="460.10" width="1.35" height="1.15" fill="#2228a8"/><rect x="337.06" y="461.91" width="1.35" height="1.15" fill="#2228a8"/><rect x="337.03" y="509.75" width="1.35" height="1.15" fill="#2228a8"/><rect x="337.18" y="487.18" width="1.35" height="1.15" fill="#2228a8"/><rect x="335.27" y="490.77" width="1.35" height="1.15" fill="#2228a8"/><rect x="335.49" y="499.99" width="1.35" height="1.15" fill="#2228a8"/><rect x="335.60" y="495.24" width="1.35" height="1.15" fill="#2228a8"/><rect x="336.35" y="481.19" width="1.35" height="1.15" fill="#2228a8"/><rect x="337.41" y="466.62" width="1.35" height="1.15" fill="#2228a8"/><rect x="335.73" y="520.36" width="1.35" height="1.15" fill="#2228a8"/><rect x="336.28" y="513.50" width="1.35" height="1.15" fill="#2228a8"/><rect x="338.12" y="488.49" width="1.35" height="1.15" fill="#2228a8"/><rect x="335.66" y="461.80" width="1.35" height="1.15" fill="#2228a8"/><rect x="338.14" y="463.39" width="1.35" height="1.15" fill="#2228a8"/><rect x="336.84" y="492.34" width="1.35" height="1.15" fill="#2228a8"/><rect x="335.55" y="487.63" width="1.35" height="1.15" fill="#2228a8"/><rect x="335.71" y="492.30" width="1.35" height="1.15" fill="#2228a8"/><rect x="336.88" y="480.65" width="1.35" height="1.15" fill="#2228a8"/><rect x="335.83" y="483.20" width="1.35" height="1.15" fill="#2228a8"/><rect x="335.85" y="464.08" width="1.35" height="1.15" fill="#2228a8"/><rect x="335.97" y="515.52" width="1.35" height="1.15" fill="#2228a8"/><rect x="336.86" y="516.84" width="1.35" height="1.15" fill="#2228a8"/><rect x="335.21" y="520.48" width="1.35" height="1.15" fill="#2228a8"/><rect x="336.82" y="509.96" width="1.35" height="1.15" fill="#2228a8"/><rect x="337.09" y="502.91" width="1.35" height="1.15" fill="#2228a8"/><rect x="335.93" y="507.13" width="1.35" height="1.15" fill="#2228a8"/><ellipse cx="337.53" cy="450.90" rx="2.8" ry="5.40" fill="#f6f6fd" stroke="#4f58c4" stroke-width="0.65"/><rect x="336.03" y="440.16" width="1.20" height="1.02" fill="#3038b4"/><rect x="335.71" y="441.36" width="1.20" height="1.02" fill="#3038b4"/><rect x="336.98" y="440.42" width="1.20" height="1.02" fill="#3038b4"/><rect x="337.95" y="438.48" width="1.20" height="1.02" fill="#3038b4"/><rect x="337.13" y="439.88" width="1.20" height="1.02" fill="#3038b4"/><rect x="337.18" y="444.99" width="1.20" height="1.02" fill="#3038b4"/><rect x="337.48" y="438.28" width="1.20" height="1.02" fill="#3038b4"/><rect x="336.27" y="443.27" width="1.20" height="1.02" fill="#3038b4"/><rect x="338.19" y="438.08" width="1.20" height="1.02" fill="#3038b4"/><rect x="337.24" y="444.13" width="1.20" height="1.02" fill="#3038b4"/><rect x="337.75" y="440.88" width="1.20" height="1.02" fill="#3038b4"/><rect x="337.74" y="441.99" width="1.20" height="1.02" fill="#3038b4"/>
<ellipse cx="337.53" cy="540.40" rx="7.10" ry="17.00" fill="#e8e9f8" stroke="#8a90dc" stroke-width="0.5"/><ellipse cx="337.53" cy="541.80" rx="6.50" ry="14.30" fill="#c4c7ef" stroke="#6a72d6" stroke-width="0.5"/><ellipse cx="337.53" cy="542.50" rx="6.30" ry="12.90" fill="#9096e2" stroke="#5058cc" stroke-width="0.45"/><ellipse cx="337.53" cy="543.00" rx="5.50" ry="11.50" fill="#2f3ee8"/><ellipse cx="337.53" cy="543.00" rx="4.29" ry="10.12" fill="#1ccff5"/><ellipse cx="337.53" cy="543.00" rx="3.46" ry="8.74" fill="#4cd64a"/><ellipse cx="337.53" cy="543.00" rx="2.53" ry="6.90" fill="#eeee22"/><ellipse cx="337.53" cy="542.31" rx="1.87" ry="4.83" fill="#ff9a1e"/>
<rect x="332.2" y="434.6" width="1" height="1" fill="#b4b8d0"/>
<rect x="334.5" y="470.4" width="1" height="1" fill="#b4b8d0"/>
<rect x="271.7" y="441.5" width="1" height="1" fill="#b4b8d0"/>
<rect x="252.5" y="499.2" width="1" height="1" fill="#b4b8d0"/>
<rect x="303.7" y="447.1" width="1" height="1" fill="#b4b8d0"/>
<rect x="264.3" y="446.1" width="1" height="1" fill="#b4b8d0"/>
<rect x="247.1" y="453.2" width="1" height="1" fill="#b4b8d0"/>
<rect x="262.7" y="520.9" width="1" height="1" fill="#b4b8d0"/>
<rect x="341.2" y="504.4" width="1" height="1" fill="#b4b8d0"/>
<rect x="280.2" y="478.1" width="1" height="1" fill="#b4b8d0"/>
<rect x="315.5" y="514.8" width="1" height="1" fill="#b4b8d0"/>
<rect x="312.2" y="490.5" width="1" height="1" fill="#b4b8d0"/>
<rect x="247.2" y="489.5" width="1" height="1" fill="#b4b8d0"/>
<rect x="323.4" y="503.9" width="1" height="1" fill="#b4b8d0"/>
<line x1="211.8" y1="559.7" x2="353.8" y2="559.7" stroke="#444" stroke-width="1.3"/>
<rect x="332.4" y="423.0" width="13.6" height="134.8" fill="#c4cec8" fill-opacity="0.12" stroke="#0e4a15" stroke-width="2.3"/>
<text x="223.1" y="417.0" font-size="12.8" fill="#333" stroke="#fff" stroke-width="0.22" textLength="22" lengthAdjust="spacingAndGlyphs">CAS</text>
<text x="233.7" y="567.2" text-anchor="end" font-size="7.4" fill="#222" stroke="#222" stroke-width="0.12" transform="rotate(-45 233.7 567.2)">8</text>
<text x="250.3" y="567.2" text-anchor="end" font-size="7.4" fill="#222" stroke="#222" stroke-width="0.12" transform="rotate(-45 250.3 567.2)">16</text>
<text x="266.9" y="567.2" text-anchor="end" font-size="7.4" fill="#222" stroke="#222" stroke-width="0.12" transform="rotate(-45 266.9 567.2)">32</text>
<text x="281.6" y="567.2" text-anchor="end" font-size="7.4" fill="#222" stroke="#222" stroke-width="0.12" transform="rotate(-45 281.6 567.2)">64</text>
<text x="297.4" y="567.2" text-anchor="end" font-size="7.4" fill="#222" stroke="#222" stroke-width="0.12" transform="rotate(-45 297.4 567.2)">125</text>
<text x="313.8" y="567.2" text-anchor="end" font-size="7.4" fill="#222" stroke="#222" stroke-width="0.12" transform="rotate(-45 313.8 567.2)">250</text>
<text x="333.7" y="567.2" text-anchor="end" font-size="7.4" fill="#222" stroke="#222" stroke-width="0.12" transform="rotate(-45 333.7 567.2)">500</text>
<text x="351.5" y="567.2" text-anchor="end" font-size="7.4" fill="#222" stroke="#222" stroke-width="0.12" transform="rotate(-45 351.5 567.2)">1000</text>
</g>
<g>
<line x1="394.5" y1="399.2" x2="394.5" y2="559.7" stroke="#555" stroke-width="1.3"/>
<text x="391.8" y="424.1" text-anchor="end" font-family="Liberation Serif, serif" font-size="7.4" fill="#808080">10<tspan font-size="4.6" dy="-3.4">6</tspan></text>
<text x="391.8" y="461.1" text-anchor="end" font-family="Liberation Serif, serif" font-size="7.4" fill="#808080">10<tspan font-size="4.6" dy="-3.4">5</tspan></text>
<text x="391.8" y="505.3" text-anchor="end" font-family="Liberation Serif, serif" font-size="7.4" fill="#808080">10<tspan font-size="4.6" dy="-3.4">4</tspan></text>
<text x="391.8" y="546.2" text-anchor="end" font-family="Liberation Serif, serif" font-size="7.4" fill="#808080">10<tspan font-size="4.6" dy="-3.4">3</tspan></text>
<text x="391.8" y="561.9" text-anchor="end" font-family="Liberation Serif, serif" font-size="7.4" fill="#808080">-10<tspan font-size="4.6" dy="-3.4">3</tspan></text>
<rect x="513.6" y="423.3" width="15.0" height="134.5" fill="#e0e5e1"/>
<path d="M404.90,540.00 C404.90,535.95 408.80,532.08 410.90,531.00 C413.00,532.08 416.90,535.95 416.90,540.00 Z" fill="#f2f3fc" stroke="#6e76d4" stroke-width="0.5"/><path d="M407.10,540.00 C407.10,535.95 409.57,532.08 410.90,531.00 C412.23,532.08 414.70,535.95 414.70,540.00 Z" fill="none" stroke="#7a82da" stroke-width="0.5"/><rect x="409.30" y="530.33" width="1.25" height="1.06" fill="#2a34b4"/><rect x="409.91" y="523.11" width="1.25" height="1.06" fill="#2a34b4"/><rect x="411.39" y="529.75" width="1.25" height="1.06" fill="#2a34b4"/><rect x="410.86" y="522.75" width="1.25" height="1.06" fill="#2a34b4"/><rect x="411.06" y="533.18" width="1.25" height="1.06" fill="#2a34b4"/><rect x="411.25" y="530.68" width="1.25" height="1.06" fill="#2a34b4"/><rect x="411.07" y="531.43" width="1.25" height="1.06" fill="#2a34b4"/><rect x="410.49" y="526.66" width="1.25" height="1.06" fill="#2a34b4"/><rect x="411.06" y="531.20" width="1.25" height="1.06" fill="#2a34b4"/><rect x="411.16" y="524.89" width="1.25" height="1.06" fill="#2a34b4"/><rect x="411.38" y="527.91" width="1.25" height="1.06" fill="#2a34b4"/><rect x="411.35" y="522.51" width="1.25" height="1.06" fill="#2a34b4"/><rect x="411.40" y="531.24" width="1.25" height="1.06" fill="#2a34b4"/><rect x="409.68" y="531.90" width="1.25" height="1.06" fill="#2a34b4"/><rect x="409.63" y="523.57" width="1.25" height="1.06" fill="#2a34b4"/><rect x="410.17" y="524.08" width="1.25" height="1.06" fill="#2a34b4"/><rect x="410.26" y="532.81" width="1.25" height="1.06" fill="#2a34b4"/><rect x="410.72" y="530.24" width="1.25" height="1.06" fill="#2a34b4"/><rect x="410.02" y="531.19" width="1.25" height="1.06" fill="#2a34b4"/><rect x="410.98" y="529.88" width="1.25" height="1.06" fill="#2a34b4"/><rect x="411.34" y="531.74" width="1.25" height="1.06" fill="#2a34b4"/><rect x="410.05" y="522.13" width="1.25" height="1.06" fill="#2a34b4"/><rect x="410.64" y="531.87" width="1.25" height="1.06" fill="#2a34b4"/>
<ellipse cx="410.90" cy="544.70" rx="7.30" ry="13.70" fill="#e8e9f8" stroke="#8a90dc" stroke-width="0.5"/><ellipse cx="410.90" cy="546.10" rx="6.70" ry="11.00" fill="#c4c7ef" stroke="#6a72d6" stroke-width="0.5"/><ellipse cx="410.90" cy="546.80" rx="6.50" ry="9.60" fill="#9096e2" stroke="#5058cc" stroke-width="0.45"/><ellipse cx="410.90" cy="547.30" rx="5.70" ry="8.20" fill="#2f3ee8"/><ellipse cx="410.90" cy="547.30" rx="4.33" ry="6.56" fill="#1ccff5"/><ellipse cx="410.90" cy="547.30" rx="3.42" ry="5.49" fill="#4cd64a"/><ellipse cx="410.90" cy="547.30" rx="2.51" ry="4.02" fill="#eeee22"/><ellipse cx="410.90" cy="547.30" rx="1.71" ry="2.46" fill="#ff9a1e"/><ellipse cx="410.90" cy="547.30" rx="1.03" ry="1.48" fill="#ff3a22"/>
<path d="M420.66,540.00 C420.66,533.88 424.56,528.03 426.66,526.40 C428.76,528.03 432.66,533.88 432.66,540.00 Z" fill="#f2f3fc" stroke="#6e76d4" stroke-width="0.5"/><path d="M422.86,540.00 C422.86,534.81 425.33,529.85 426.66,528.47 C427.99,529.85 430.46,534.81 430.46,540.00 Z" fill="none" stroke="#7a82da" stroke-width="0.5"/><rect x="425.65" y="523.77" width="1.25" height="1.06" fill="#2a34b4"/><rect x="426.84" y="526.52" width="1.25" height="1.06" fill="#2a34b4"/><rect x="424.85" y="522.30" width="1.25" height="1.06" fill="#2a34b4"/><rect x="424.87" y="517.04" width="1.25" height="1.06" fill="#2a34b4"/><rect x="426.78" y="521.32" width="1.25" height="1.06" fill="#2a34b4"/><rect x="426.29" y="521.86" width="1.25" height="1.06" fill="#2a34b4"/><rect x="425.64" y="518.47" width="1.25" height="1.06" fill="#2a34b4"/><rect x="425.68" y="527.24" width="1.25" height="1.06" fill="#2a34b4"/><rect x="426.32" y="519.56" width="1.25" height="1.06" fill="#2a34b4"/><rect x="425.05" y="519.27" width="1.25" height="1.06" fill="#2a34b4"/><rect x="426.52" y="521.64" width="1.25" height="1.06" fill="#2a34b4"/><rect x="426.42" y="526.72" width="1.25" height="1.06" fill="#2a34b4"/><rect x="425.12" y="524.99" width="1.25" height="1.06" fill="#2a34b4"/><rect x="424.93" y="526.94" width="1.25" height="1.06" fill="#2a34b4"/><rect x="425.28" y="519.27" width="1.25" height="1.06" fill="#2a34b4"/><rect x="427.13" y="520.54" width="1.25" height="1.06" fill="#2a34b4"/><rect x="425.37" y="527.87" width="1.25" height="1.06" fill="#2a34b4"/><rect x="426.30" y="527.93" width="1.25" height="1.06" fill="#2a34b4"/><rect x="425.78" y="522.45" width="1.25" height="1.06" fill="#2a34b4"/><rect x="427.13" y="522.54" width="1.25" height="1.06" fill="#2a34b4"/><rect x="427.21" y="518.13" width="1.25" height="1.06" fill="#2a34b4"/><rect x="426.83" y="517.75" width="1.25" height="1.06" fill="#2a34b4"/><rect x="426.10" y="515.50" width="1.25" height="1.06" fill="#2a34b4"/><rect x="425.26" y="528.64" width="1.25" height="1.06" fill="#2a34b4"/><rect x="425.93" y="526.75" width="1.25" height="1.06" fill="#2a34b4"/>
<ellipse cx="426.66" cy="544.70" rx="7.30" ry="13.70" fill="#e8e9f8" stroke="#8a90dc" stroke-width="0.5"/><ellipse cx="426.66" cy="546.10" rx="6.70" ry="11.00" fill="#c4c7ef" stroke="#6a72d6" stroke-width="0.5"/><ellipse cx="426.66" cy="546.80" rx="6.50" ry="9.60" fill="#9096e2" stroke="#5058cc" stroke-width="0.45"/><ellipse cx="426.66" cy="547.30" rx="5.70" ry="8.20" fill="#2f3ee8"/><ellipse cx="426.66" cy="547.30" rx="4.33" ry="6.56" fill="#1ccff5"/><ellipse cx="426.66" cy="547.30" rx="3.42" ry="5.49" fill="#4cd64a"/><ellipse cx="426.66" cy="547.30" rx="2.51" ry="4.02" fill="#eeee22"/><ellipse cx="426.66" cy="547.30" rx="1.71" ry="2.46" fill="#ff9a1e"/><ellipse cx="426.66" cy="547.30" rx="1.03" ry="1.48" fill="#ff3a22"/>
<path d="M436.42,540.00 C436.42,534.15 440.32,528.56 442.42,527.00 C444.52,528.56 448.42,534.15 448.42,540.00 Z" fill="#f2f3fc" stroke="#6e76d4" stroke-width="0.5"/><path d="M439.62,534.00 L439.62,529.56 C439.62,519.79 441.72,515.35 442.42,511.80 C443.12,515.35 445.22,519.79 445.22,529.56 L445.22,534.00" fill="#f6f6fd" stroke="#6a72d2" stroke-width="0.55"/><rect x="441.15" y="506.03" width="1.25" height="1.06" fill="#2a34b4"/><rect x="440.76" y="508.43" width="1.25" height="1.06" fill="#2a34b4"/><rect x="442.74" y="507.97" width="1.25" height="1.06" fill="#2a34b4"/><rect x="441.47" y="512.94" width="1.25" height="1.06" fill="#2a34b4"/><rect x="442.82" y="509.80" width="1.25" height="1.06" fill="#2a34b4"/><rect x="440.69" y="509.29" width="1.25" height="1.06" fill="#2a34b4"/><rect x="441.65" y="513.29" width="1.25" height="1.06" fill="#2a34b4"/><rect x="441.44" y="509.73" width="1.25" height="1.06" fill="#2a34b4"/><rect x="442.14" y="506.31" width="1.25" height="1.06" fill="#2a34b4"/><rect x="441.85" y="509.92" width="1.25" height="1.06" fill="#2a34b4"/><rect x="442.85" y="507.78" width="1.25" height="1.06" fill="#2a34b4"/><rect x="441.44" y="513.51" width="1.25" height="1.06" fill="#2a34b4"/><rect x="440.64" y="511.82" width="1.25" height="1.06" fill="#2a34b4"/><rect x="442.27" y="508.49" width="1.25" height="1.06" fill="#2a34b4"/><rect x="441.66" y="510.81" width="1.25" height="1.06" fill="#2a34b4"/><rect x="442.81" y="510.55" width="1.25" height="1.06" fill="#2a34b4"/><rect x="442.44" y="502.22" width="1.25" height="1.06" fill="#2a34b4"/><rect x="441.34" y="503.44" width="1.25" height="1.06" fill="#2a34b4"/><rect x="442.97" y="512.50" width="1.25" height="1.06" fill="#2a34b4"/><rect x="440.87" y="508.85" width="1.25" height="1.06" fill="#2a34b4"/><rect x="441.99" y="502.36" width="1.25" height="1.06" fill="#2a34b4"/><rect x="441.51" y="510.77" width="1.25" height="1.06" fill="#2a34b4"/>
<ellipse cx="442.42" cy="544.70" rx="7.30" ry="13.70" fill="#e8e9f8" stroke="#8a90dc" stroke-width="0.5"/><ellipse cx="442.42" cy="546.10" rx="6.70" ry="11.00" fill="#c4c7ef" stroke="#6a72d6" stroke-width="0.5"/><ellipse cx="442.42" cy="546.80" rx="6.50" ry="9.60" fill="#9096e2" stroke="#5058cc" stroke-width="0.45"/><ellipse cx="442.42" cy="547.30" rx="5.70" ry="8.20" fill="#2f3ee8"/><ellipse cx="442.42" cy="547.30" rx="4.33" ry="6.56" fill="#1ccff5"/><ellipse cx="442.42" cy="547.30" rx="3.42" ry="5.49" fill="#4cd64a"/><ellipse cx="442.42" cy="547.30" rx="2.51" ry="4.02" fill="#eeee22"/><ellipse cx="442.42" cy="547.30" rx="1.71" ry="2.46" fill="#ff9a1e"/><ellipse cx="442.42" cy="547.30" rx="1.03" ry="1.48" fill="#ff3a22"/>
<path d="M452.18,540.00 C452.18,532.80 456.08,525.92 458.18,524.00 C460.28,525.92 464.18,532.80 464.18,540.00 Z" fill="#f2f3fc" stroke="#6e76d4" stroke-width="0.5"/><path d="M456.58,512.70 L456.58,533.00 M459.78,512.70 L459.78,533.00" stroke="#6a72d2" stroke-width="0.5"/><rect x="457.99" y="517.40" width="1.35" height="1.15" fill="#2228a8"/><rect x="458.40" y="517.61" width="1.35" height="1.15" fill="#2228a8"/><rect x="457.66" y="520.24" width="1.35" height="1.15" fill="#2228a8"/><rect x="459.13" y="524.87" width="1.35" height="1.15" fill="#2228a8"/><rect x="458.54" y="525.43" width="1.35" height="1.15" fill="#2228a8"/><rect x="457.10" y="531.25" width="1.35" height="1.15" fill="#2228a8"/><rect x="458.22" y="525.72" width="1.35" height="1.15" fill="#2228a8"/><rect x="456.75" y="514.99" width="1.35" height="1.15" fill="#2228a8"/><rect x="457.76" y="528.47" width="1.35" height="1.15" fill="#2228a8"/><rect x="458.50" y="518.75" width="1.35" height="1.15" fill="#2228a8"/><rect x="456.28" y="522.17" width="1.35" height="1.15" fill="#2228a8"/><rect x="458.79" y="514.99" width="1.35" height="1.15" fill="#2228a8"/><rect x="458.32" y="515.16" width="1.35" height="1.15" fill="#2228a8"/><rect x="456.87" y="512.79" width="1.35" height="1.15" fill="#2228a8"/><rect x="456.82" y="519.47" width="1.35" height="1.15" fill="#2228a8"/><rect x="459.09" y="531.23" width="1.35" height="1.15" fill="#2228a8"/><rect x="456.44" y="517.98" width="1.35" height="1.15" fill="#2228a8"/><rect x="459.01" y="515.71" width="1.35" height="1.15" fill="#2228a8"/><rect x="456.90" y="520.60" width="1.35" height="1.15" fill="#2228a8"/><rect x="456.17" y="516.98" width="1.35" height="1.15" fill="#2228a8"/><rect x="457.14" y="519.53" width="1.35" height="1.15" fill="#2228a8"/><rect x="459.08" y="517.12" width="1.35" height="1.15" fill="#2228a8"/><rect x="456.50" y="530.15" width="1.35" height="1.15" fill="#2228a8"/><rect x="457.34" y="528.69" width="1.35" height="1.15" fill="#2228a8"/><rect x="457.97" y="527.51" width="1.35" height="1.15" fill="#2228a8"/><rect x="456.88" y="514.79" width="1.35" height="1.15" fill="#2228a8"/><rect x="458.38" y="521.25" width="1.35" height="1.15" fill="#2228a8"/><rect x="457.70" y="525.31" width="1.35" height="1.15" fill="#2228a8"/><rect x="458.36" y="517.29" width="1.35" height="1.15" fill="#2228a8"/><rect x="457.04" y="530.33" width="1.35" height="1.15" fill="#2228a8"/><rect x="457.60" y="517.55" width="1.35" height="1.15" fill="#2228a8"/><rect x="457.95" y="516.97" width="1.35" height="1.15" fill="#2228a8"/><rect x="458.43" y="512.54" width="1.35" height="1.15" fill="#2228a8"/><rect x="458.62" y="523.20" width="1.35" height="1.15" fill="#2228a8"/><rect x="457.01" y="530.78" width="1.35" height="1.15" fill="#2228a8"/><rect x="456.71" y="516.64" width="1.35" height="1.15" fill="#2228a8"/><rect x="456.04" y="522.84" width="1.35" height="1.15" fill="#2228a8"/><rect x="458.37" y="525.46" width="1.35" height="1.15" fill="#2228a8"/><rect x="457.21" y="528.10" width="1.35" height="1.15" fill="#2228a8"/><rect x="456.18" y="517.93" width="1.35" height="1.15" fill="#2228a8"/><rect x="458.00" y="531.34" width="1.35" height="1.15" fill="#2228a8"/><rect x="457.96" y="525.75" width="1.35" height="1.15" fill="#2228a8"/><ellipse cx="458.18" cy="506.35" rx="2.8" ry="6.35" fill="#f6f6fd" stroke="#4f58c4" stroke-width="0.65"/><rect x="458.29" y="493.33" width="1.20" height="1.02" fill="#3038b4"/><rect x="458.72" y="498.02" width="1.20" height="1.02" fill="#3038b4"/><rect x="457.17" y="493.30" width="1.20" height="1.02" fill="#3038b4"/><rect x="458.37" y="492.72" width="1.20" height="1.02" fill="#3038b4"/><rect x="456.76" y="499.77" width="1.20" height="1.02" fill="#3038b4"/><rect x="457.66" y="495.04" width="1.20" height="1.02" fill="#3038b4"/><rect x="458.02" y="500.17" width="1.20" height="1.02" fill="#3038b4"/><rect x="456.63" y="492.57" width="1.20" height="1.02" fill="#3038b4"/><rect x="456.45" y="493.58" width="1.20" height="1.02" fill="#3038b4"/><rect x="457.59" y="499.50" width="1.20" height="1.02" fill="#3038b4"/><rect x="458.02" y="495.80" width="1.20" height="1.02" fill="#3038b4"/><rect x="457.33" y="495.75" width="1.20" height="1.02" fill="#3038b4"/><rect x="456.99" y="499.40" width="1.20" height="1.02" fill="#3038b4"/><rect x="458.33" y="499.32" width="1.20" height="1.02" fill="#3038b4"/><rect x="456.67" y="497.07" width="1.20" height="1.02" fill="#3038b4"/><rect x="458.24" y="494.76" width="1.20" height="1.02" fill="#3038b4"/><rect x="458.62" y="500.13" width="1.20" height="1.02" fill="#3038b4"/>
<ellipse cx="458.18" cy="544.70" rx="7.30" ry="13.70" fill="#e8e9f8" stroke="#8a90dc" stroke-width="0.5"/><ellipse cx="458.18" cy="546.10" rx="6.70" ry="11.00" fill="#c4c7ef" stroke="#6a72d6" stroke-width="0.5"/><ellipse cx="458.18" cy="546.80" rx="6.50" ry="9.60" fill="#9096e2" stroke="#5058cc" stroke-width="0.45"/><ellipse cx="458.18" cy="547.30" rx="5.70" ry="8.20" fill="#2f3ee8"/><ellipse cx="458.18" cy="547.30" rx="4.33" ry="6.56" fill="#1ccff5"/><ellipse cx="458.18" cy="547.30" rx="3.42" ry="5.49" fill="#4cd64a"/><ellipse cx="458.18" cy="547.30" rx="2.51" ry="4.02" fill="#eeee22"/><ellipse cx="458.18" cy="547.30" rx="1.71" ry="2.46" fill="#ff9a1e"/><ellipse cx="458.18" cy="547.30" rx="1.03" ry="1.48" fill="#ff3a22"/>
<path d="M467.94,540.00 C467.94,532.80 471.84,525.92 473.94,524.00 C476.04,525.92 479.94,532.80 479.94,540.00 Z" fill="#f2f3fc" stroke="#6e76d4" stroke-width="0.5"/><path d="M472.34,501.00 L472.34,533.00 M475.54,501.00 L475.54,533.00" stroke="#6a72d2" stroke-width="0.5"/><rect x="474.09" y="526.27" width="1.35" height="1.15" fill="#2228a8"/><rect x="473.77" y="528.12" width="1.35" height="1.15" fill="#2228a8"/><rect x="472.01" y="522.53" width="1.35" height="1.15" fill="#2228a8"/><rect x="473.96" y="519.60" width="1.35" height="1.15" fill="#2228a8"/><rect x="472.50" y="502.15" width="1.35" height="1.15" fill="#2228a8"/><rect x="473.62" y="526.38" width="1.35" height="1.15" fill="#2228a8"/><rect x="472.49" y="506.82" width="1.35" height="1.15" fill="#2228a8"/><rect x="472.33" y="503.00" width="1.35" height="1.15" fill="#2228a8"/><rect x="473.86" y="531.19" width="1.35" height="1.15" fill="#2228a8"/><rect x="474.29" y="511.51" width="1.35" height="1.15" fill="#2228a8"/><rect x="473.94" y="502.31" width="1.35" height="1.15" fill="#2228a8"/><rect x="474.42" y="510.40" width="1.35" height="1.15" fill="#2228a8"/><rect x="471.58" y="520.14" width="1.35" height="1.15" fill="#2228a8"/><rect x="472.04" y="508.80" width="1.35" height="1.15" fill="#2228a8"/><rect x="471.77" y="514.26" width="1.35" height="1.15" fill="#2228a8"/><rect x="473.45" y="525.84" width="1.35" height="1.15" fill="#2228a8"/><rect x="471.70" y="526.48" width="1.35" height="1.15" fill="#2228a8"/><rect x="471.94" y="507.18" width="1.35" height="1.15" fill="#2228a8"/><rect x="473.71" y="510.88" width="1.35" height="1.15" fill="#2228a8"/><rect x="472.69" y="518.19" width="1.35" height="1.15" fill="#2228a8"/><rect x="472.31" y="525.39" width="1.35" height="1.15" fill="#2228a8"/><rect x="472.28" y="526.86" width="1.35" height="1.15" fill="#2228a8"/><rect x="474.31" y="517.19" width="1.35" height="1.15" fill="#2228a8"/><rect x="471.67" y="524.90" width="1.35" height="1.15" fill="#2228a8"/><rect x="471.66" y="516.15" width="1.35" height="1.15" fill="#2228a8"/><rect x="473.01" y="502.02" width="1.35" height="1.15" fill="#2228a8"/><rect x="473.71" y="523.19" width="1.35" height="1.15" fill="#2228a8"/><rect x="473.55" y="512.80" width="1.35" height="1.15" fill="#2228a8"/><rect x="473.31" y="518.84" width="1.35" height="1.15" fill="#2228a8"/><rect x="472.33" y="527.76" width="1.35" height="1.15" fill="#2228a8"/><rect x="474.95" y="525.73" width="1.35" height="1.15" fill="#2228a8"/><rect x="474.83" y="510.54" width="1.35" height="1.15" fill="#2228a8"/><rect x="474.92" y="502.28" width="1.35" height="1.15" fill="#2228a8"/><rect x="473.19" y="504.28" width="1.35" height="1.15" fill="#2228a8"/><rect x="473.11" y="521.85" width="1.35" height="1.15" fill="#2228a8"/><rect x="473.97" y="514.55" width="1.35" height="1.15" fill="#2228a8"/><rect x="472.73" y="506.08" width="1.35" height="1.15" fill="#2228a8"/><rect x="472.93" y="509.04" width="1.35" height="1.15" fill="#2228a8"/><rect x="472.23" y="523.55" width="1.35" height="1.15" fill="#2228a8"/><rect x="473.32" y="514.04" width="1.35" height="1.15" fill="#2228a8"/><rect x="472.24" y="522.52" width="1.35" height="1.15" fill="#2228a8"/><rect x="472.23" y="508.50" width="1.35" height="1.15" fill="#2228a8"/><rect x="473.47" y="522.44" width="1.35" height="1.15" fill="#2228a8"/><rect x="474.87" y="523.92" width="1.35" height="1.15" fill="#2228a8"/><rect x="474.79" y="529.44" width="1.35" height="1.15" fill="#2228a8"/><rect x="474.02" y="523.02" width="1.35" height="1.15" fill="#2228a8"/><rect x="471.78" y="506.58" width="1.35" height="1.15" fill="#2228a8"/><rect x="471.61" y="527.63" width="1.35" height="1.15" fill="#2228a8"/><rect x="474.02" y="520.17" width="1.35" height="1.15" fill="#2228a8"/><rect x="472.46" y="511.37" width="1.35" height="1.15" fill="#2228a8"/><rect x="472.12" y="520.23" width="1.35" height="1.15" fill="#2228a8"/><rect x="474.94" y="509.78" width="1.35" height="1.15" fill="#2228a8"/><rect x="471.72" y="505.61" width="1.35" height="1.15" fill="#2228a8"/><rect x="472.77" y="528.77" width="1.35" height="1.15" fill="#2228a8"/><rect x="474.30" y="514.56" width="1.35" height="1.15" fill="#2228a8"/><rect x="471.91" y="503.41" width="1.35" height="1.15" fill="#2228a8"/><rect x="472.09" y="524.88" width="1.35" height="1.15" fill="#2228a8"/><rect x="473.17" y="531.70" width="1.35" height="1.15" fill="#2228a8"/><rect x="474.66" y="525.43" width="1.35" height="1.15" fill="#2228a8"/><rect x="473.18" y="526.30" width="1.35" height="1.15" fill="#2228a8"/><rect x="472.00" y="503.48" width="1.35" height="1.15" fill="#2228a8"/><rect x="473.48" y="516.25" width="1.35" height="1.15" fill="#2228a8"/><rect x="472.28" y="508.06" width="1.35" height="1.15" fill="#2228a8"/><rect x="471.64" y="529.08" width="1.35" height="1.15" fill="#2228a8"/><rect x="473.98" y="530.25" width="1.35" height="1.15" fill="#2228a8"/><rect x="474.90" y="513.98" width="1.35" height="1.15" fill="#2228a8"/><rect x="474.06" y="512.29" width="1.35" height="1.15" fill="#2228a8"/><ellipse cx="473.94" cy="495.00" rx="2.8" ry="6.00" fill="#f6f6fd" stroke="#4f58c4" stroke-width="0.65"/><rect x="474.15" y="488.99" width="1.20" height="1.02" fill="#3038b4"/><rect x="472.39" y="481.12" width="1.20" height="1.02" fill="#3038b4"/><rect x="472.60" y="486.56" width="1.20" height="1.02" fill="#3038b4"/><rect x="473.03" y="481.09" width="1.20" height="1.02" fill="#3038b4"/><rect x="474.20" y="488.47" width="1.20" height="1.02" fill="#3038b4"/><rect x="473.25" y="481.41" width="1.20" height="1.02" fill="#3038b4"/><rect x="474.35" y="486.07" width="1.20" height="1.02" fill="#3038b4"/><rect x="472.22" y="484.07" width="1.20" height="1.02" fill="#3038b4"/><rect x="473.66" y="489.41" width="1.20" height="1.02" fill="#3038b4"/><rect x="473.30" y="487.07" width="1.20" height="1.02" fill="#3038b4"/><rect x="472.57" y="483.31" width="1.20" height="1.02" fill="#3038b4"/><rect x="474.40" y="484.63" width="1.20" height="1.02" fill="#3038b4"/>
<ellipse cx="473.94" cy="544.70" rx="7.30" ry="13.70" fill="#e8e9f8" stroke="#8a90dc" stroke-width="0.5"/><ellipse cx="473.94" cy="546.10" rx="6.70" ry="11.00" fill="#c4c7ef" stroke="#6a72d6" stroke-width="0.5"/><ellipse cx="473.94" cy="546.80" rx="6.50" ry="9.60" fill="#9096e2" stroke="#5058cc" stroke-width="0.45"/><ellipse cx="473.94" cy="547.30" rx="5.70" ry="8.20" fill="#2f3ee8"/><ellipse cx="473.94" cy="547.30" rx="4.33" ry="6.56" fill="#1ccff5"/><ellipse cx="473.94" cy="547.30" rx="3.42" ry="5.49" fill="#4cd64a"/><ellipse cx="473.94" cy="547.30" rx="2.51" ry="4.02" fill="#eeee22"/><ellipse cx="473.94" cy="547.30" rx="1.71" ry="2.46" fill="#ff9a1e"/><ellipse cx="473.94" cy="547.30" rx="1.03" ry="1.48" fill="#ff3a22"/>
<path d="M483.70,540.00 C483.70,532.80 487.60,525.92 489.70,524.00 C491.80,525.92 495.70,532.80 495.70,540.00 Z" fill="#f2f3fc" stroke="#6e76d4" stroke-width="0.5"/><path d="M488.10,488.00 L488.10,533.00 M491.30,488.00 L491.30,533.00" stroke="#6a72d2" stroke-width="0.5"/><rect x="487.68" y="513.60" width="1.35" height="1.15" fill="#2228a8"/><rect x="487.75" y="496.00" width="1.35" height="1.15" fill="#2228a8"/><rect x="488.88" y="513.35" width="1.35" height="1.15" fill="#2228a8"/><rect x="489.49" y="518.81" width="1.35" height="1.15" fill="#2228a8"/><rect x="488.82" y="490.04" width="1.35" height="1.15" fill="#2228a8"/><rect x="489.79" y="489.42" width="1.35" height="1.15" fill="#2228a8"/><rect x="488.93" y="505.01" width="1.35" height="1.15" fill="#2228a8"/><rect x="489.61" y="519.12" width="1.35" height="1.15" fill="#2228a8"/><rect x="488.14" y="516.23" width="1.35" height="1.15" fill="#2228a8"/><rect x="489.68" y="508.23" width="1.35" height="1.15" fill="#2228a8"/><rect x="487.81" y="527.91" width="1.35" height="1.15" fill="#2228a8"/><rect x="489.36" y="489.82" width="1.35" height="1.15" fill="#2228a8"/><rect x="488.14" y="531.41" width="1.35" height="1.15" fill="#2228a8"/><rect x="488.10" y="504.65" width="1.35" height="1.15" fill="#2228a8"/><rect x="490.00" y="524.07" width="1.35" height="1.15" fill="#2228a8"/><rect x="489.48" y="520.37" width="1.35" height="1.15" fill="#2228a8"/><rect x="487.46" y="491.22" width="1.35" height="1.15" fill="#2228a8"/><rect x="490.64" y="523.12" width="1.35" height="1.15" fill="#2228a8"/><rect x="487.45" y="489.19" width="1.35" height="1.15" fill="#2228a8"/><rect x="488.14" y="528.88" width="1.35" height="1.15" fill="#2228a8"/><rect x="488.07" y="517.23" width="1.35" height="1.15" fill="#2228a8"/><rect x="490.49" y="515.74" width="1.35" height="1.15" fill="#2228a8"/><rect x="490.45" y="498.83" width="1.35" height="1.15" fill="#2228a8"/><rect x="487.85" y="487.82" width="1.35" height="1.15" fill="#2228a8"/><rect x="489.90" y="491.67" width="1.35" height="1.15" fill="#2228a8"/><rect x="490.63" y="518.95" width="1.35" height="1.15" fill="#2228a8"/><rect x="487.96" y="523.32" width="1.35" height="1.15" fill="#2228a8"/><rect x="487.88" y="510.05" width="1.35" height="1.15" fill="#2228a8"/><rect x="487.68" y="522.41" width="1.35" height="1.15" fill="#2228a8"/><rect x="490.35" y="528.24" width="1.35" height="1.15" fill="#2228a8"/><rect x="487.33" y="525.31" width="1.35" height="1.15" fill="#2228a8"/><rect x="489.22" y="523.96" width="1.35" height="1.15" fill="#2228a8"/><rect x="489.03" y="514.89" width="1.35" height="1.15" fill="#2228a8"/><rect x="489.35" y="522.98" width="1.35" height="1.15" fill="#2228a8"/><rect x="487.59" y="489.44" width="1.35" height="1.15" fill="#2228a8"/><rect x="489.18" y="500.09" width="1.35" height="1.15" fill="#2228a8"/><rect x="488.67" y="487.34" width="1.35" height="1.15" fill="#2228a8"/><rect x="489.86" y="488.08" width="1.35" height="1.15" fill="#2228a8"/><rect x="490.15" y="523.52" width="1.35" height="1.15" fill="#2228a8"/><rect x="488.88" y="492.50" width="1.35" height="1.15" fill="#2228a8"/><rect x="489.54" y="496.32" width="1.35" height="1.15" fill="#2228a8"/><rect x="488.78" y="491.97" width="1.35" height="1.15" fill="#2228a8"/><rect x="490.64" y="511.58" width="1.35" height="1.15" fill="#2228a8"/><rect x="488.52" y="491.23" width="1.35" height="1.15" fill="#2228a8"/><rect x="489.81" y="525.24" width="1.35" height="1.15" fill="#2228a8"/><rect x="490.21" y="491.56" width="1.35" height="1.15" fill="#2228a8"/><rect x="488.57" y="500.62" width="1.35" height="1.15" fill="#2228a8"/><rect x="489.92" y="493.65" width="1.35" height="1.15" fill="#2228a8"/><rect x="489.39" y="531.04" width="1.35" height="1.15" fill="#2228a8"/><rect x="489.94" y="487.31" width="1.35" height="1.15" fill="#2228a8"/><rect x="487.58" y="492.12" width="1.35" height="1.15" fill="#2228a8"/><rect x="489.68" y="513.94" width="1.35" height="1.15" fill="#2228a8"/><rect x="489.09" y="507.50" width="1.35" height="1.15" fill="#2228a8"/><rect x="488.71" y="514.50" width="1.35" height="1.15" fill="#2228a8"/><rect x="489.53" y="528.24" width="1.35" height="1.15" fill="#2228a8"/><rect x="489.82" y="522.84" width="1.35" height="1.15" fill="#2228a8"/><rect x="490.43" y="524.67" width="1.35" height="1.15" fill="#2228a8"/><rect x="489.76" y="488.38" width="1.35" height="1.15" fill="#2228a8"/><rect x="489.64" y="525.25" width="1.35" height="1.15" fill="#2228a8"/><rect x="488.79" y="526.52" width="1.35" height="1.15" fill="#2228a8"/><rect x="487.94" y="529.42" width="1.35" height="1.15" fill="#2228a8"/><rect x="488.83" y="518.79" width="1.35" height="1.15" fill="#2228a8"/><rect x="488.18" y="500.52" width="1.35" height="1.15" fill="#2228a8"/><rect x="488.51" y="501.60" width="1.35" height="1.15" fill="#2228a8"/><rect x="487.65" y="506.93" width="1.35" height="1.15" fill="#2228a8"/><rect x="490.66" y="516.43" width="1.35" height="1.15" fill="#2228a8"/><rect x="490.49" y="521.30" width="1.35" height="1.15" fill="#2228a8"/><rect x="490.17" y="531.74" width="1.35" height="1.15" fill="#2228a8"/><rect x="489.88" y="499.34" width="1.35" height="1.15" fill="#2228a8"/><rect x="488.17" y="505.56" width="1.35" height="1.15" fill="#2228a8"/><rect x="487.40" y="497.39" width="1.35" height="1.15" fill="#2228a8"/><rect x="490.34" y="528.44" width="1.35" height="1.15" fill="#2228a8"/><rect x="488.44" y="521.67" width="1.35" height="1.15" fill="#2228a8"/><rect x="489.96" y="527.04" width="1.35" height="1.15" fill="#2228a8"/><rect x="490.03" y="510.94" width="1.35" height="1.15" fill="#2228a8"/><rect x="487.68" y="524.14" width="1.35" height="1.15" fill="#2228a8"/><rect x="488.39" y="515.21" width="1.35" height="1.15" fill="#2228a8"/><rect x="488.57" y="511.18" width="1.35" height="1.15" fill="#2228a8"/><rect x="490.61" y="494.25" width="1.35" height="1.15" fill="#2228a8"/><rect x="489.13" y="516.25" width="1.35" height="1.15" fill="#2228a8"/><rect x="489.16" y="529.21" width="1.35" height="1.15" fill="#2228a8"/><rect x="488.71" y="528.12" width="1.35" height="1.15" fill="#2228a8"/><rect x="489.67" y="530.53" width="1.35" height="1.15" fill="#2228a8"/><rect x="487.63" y="496.56" width="1.35" height="1.15" fill="#2228a8"/><rect x="488.30" y="527.79" width="1.35" height="1.15" fill="#2228a8"/><rect x="487.37" y="498.71" width="1.35" height="1.15" fill="#2228a8"/><rect x="489.76" y="531.54" width="1.35" height="1.15" fill="#2228a8"/><rect x="487.92" y="506.71" width="1.35" height="1.15" fill="#2228a8"/><rect x="489.66" y="518.08" width="1.35" height="1.15" fill="#2228a8"/><rect x="489.86" y="520.89" width="1.35" height="1.15" fill="#2228a8"/><rect x="488.17" y="498.57" width="1.35" height="1.15" fill="#2228a8"/><rect x="487.42" y="518.10" width="1.35" height="1.15" fill="#2228a8"/><rect x="488.04" y="498.68" width="1.35" height="1.15" fill="#2228a8"/><rect x="490.60" y="515.95" width="1.35" height="1.15" fill="#2228a8"/><rect x="489.33" y="516.53" width="1.35" height="1.15" fill="#2228a8"/><rect x="489.36" y="518.27" width="1.35" height="1.15" fill="#2228a8"/><ellipse cx="489.70" cy="481.75" rx="2.8" ry="6.25" fill="#f6f6fd" stroke="#4f58c4" stroke-width="0.65"/><rect x="488.59" y="467.92" width="1.20" height="1.02" fill="#3038b4"/><rect x="487.97" y="467.44" width="1.20" height="1.02" fill="#3038b4"/><rect x="488.74" y="468.68" width="1.20" height="1.02" fill="#3038b4"/><rect x="488.09" y="472.09" width="1.20" height="1.02" fill="#3038b4"/><rect x="490.32" y="473.97" width="1.20" height="1.02" fill="#3038b4"/><rect x="488.51" y="474.76" width="1.20" height="1.02" fill="#3038b4"/><rect x="488.26" y="468.27" width="1.20" height="1.02" fill="#3038b4"/><rect x="488.59" y="471.27" width="1.20" height="1.02" fill="#3038b4"/><rect x="489.59" y="471.62" width="1.20" height="1.02" fill="#3038b4"/><rect x="489.69" y="468.22" width="1.20" height="1.02" fill="#3038b4"/><rect x="490.22" y="470.62" width="1.20" height="1.02" fill="#3038b4"/><rect x="489.96" y="467.60" width="1.20" height="1.02" fill="#3038b4"/>
<ellipse cx="489.70" cy="544.70" rx="7.30" ry="13.70" fill="#e8e9f8" stroke="#8a90dc" stroke-width="0.5"/><ellipse cx="489.70" cy="546.10" rx="6.70" ry="11.00" fill="#c4c7ef" stroke="#6a72d6" stroke-width="0.5"/><ellipse cx="489.70" cy="546.80" rx="6.50" ry="9.60" fill="#9096e2" stroke="#5058cc" stroke-width="0.45"/><ellipse cx="489.70" cy="547.30" rx="5.70" ry="8.20" fill="#2f3ee8"/><ellipse cx="489.70" cy="547.30" rx="4.33" ry="6.56" fill="#1ccff5"/><ellipse cx="489.70" cy="547.30" rx="3.42" ry="5.49" fill="#4cd64a"/><ellipse cx="489.70" cy="547.30" rx="2.51" ry="4.02" fill="#eeee22"/><ellipse cx="489.70" cy="547.30" rx="1.71" ry="2.46" fill="#ff9a1e"/><ellipse cx="489.70" cy="547.30" rx="1.03" ry="1.48" fill="#ff3a22"/>
<path d="M499.46,540.00 C499.46,532.80 503.36,525.92 505.46,524.00 C507.56,525.92 511.46,532.80 511.46,540.00 Z" fill="#f2f3fc" stroke="#6e76d4" stroke-width="0.5"/><path d="M503.86,477.30 L503.86,533.00 M507.06,477.30 L507.06,533.00" stroke="#6a72d2" stroke-width="0.5"/><rect x="505.90" y="488.90" width="1.35" height="1.15" fill="#2228a8"/><rect x="505.99" y="521.02" width="1.35" height="1.15" fill="#2228a8"/><rect x="505.37" y="491.77" width="1.35" height="1.15" fill="#2228a8"/><rect x="503.12" y="486.88" width="1.35" height="1.15" fill="#2228a8"/><rect x="506.16" y="485.10" width="1.35" height="1.15" fill="#2228a8"/><rect x="505.33" y="508.99" width="1.35" height="1.15" fill="#2228a8"/><rect x="505.33" y="486.36" width="1.35" height="1.15" fill="#2228a8"/><rect x="503.57" y="481.71" width="1.35" height="1.15" fill="#2228a8"/><rect x="506.43" y="497.63" width="1.35" height="1.15" fill="#2228a8"/><rect x="505.30" y="508.03" width="1.35" height="1.15" fill="#2228a8"/><rect x="503.84" y="479.91" width="1.35" height="1.15" fill="#2228a8"/><rect x="503.14" y="523.79" width="1.35" height="1.15" fill="#2228a8"/><rect x="503.53" y="529.94" width="1.35" height="1.15" fill="#2228a8"/><rect x="504.32" y="516.55" width="1.35" height="1.15" fill="#2228a8"/><rect x="503.56" y="520.19" width="1.35" height="1.15" fill="#2228a8"/><rect x="503.94" y="496.70" width="1.35" height="1.15" fill="#2228a8"/><rect x="504.86" y="482.51" width="1.35" height="1.15" fill="#2228a8"/><rect x="503.93" y="520.64" width="1.35" height="1.15" fill="#2228a8"/><rect x="504.05" y="497.51" width="1.35" height="1.15" fill="#2228a8"/><rect x="505.69" y="488.78" width="1.35" height="1.15" fill="#2228a8"/><rect x="503.74" y="488.50" width="1.35" height="1.15" fill="#2228a8"/><rect x="504.39" y="496.65" width="1.35" height="1.15" fill="#2228a8"/><rect x="505.27" y="502.58" width="1.35" height="1.15" fill="#2228a8"/><rect x="506.04" y="479.12" width="1.35" height="1.15" fill="#2228a8"/><rect x="505.34" y="522.89" width="1.35" height="1.15" fill="#2228a8"/><rect x="503.88" y="477.94" width="1.35" height="1.15" fill="#2228a8"/><rect x="504.58" y="482.75" width="1.35" height="1.15" fill="#2228a8"/><rect x="504.65" y="515.93" width="1.35" height="1.15" fill="#2228a8"/><rect x="503.40" y="482.86" width="1.35" height="1.15" fill="#2228a8"/><rect x="504.72" y="485.98" width="1.35" height="1.15" fill="#2228a8"/><rect x="503.87" y="500.82" width="1.35" height="1.15" fill="#2228a8"/><rect x="503.49" y="480.08" width="1.35" height="1.15" fill="#2228a8"/><rect x="504.31" y="502.43" width="1.35" height="1.15" fill="#2228a8"/><rect x="506.27" y="507.20" width="1.35" height="1.15" fill="#2228a8"/><rect x="503.33" y="488.69" width="1.35" height="1.15" fill="#2228a8"/><rect x="505.62" y="507.65" width="1.35" height="1.15" fill="#2228a8"/><rect x="506.04" y="529.91" width="1.35" height="1.15" fill="#2228a8"/><rect x="506.00" y="482.43" width="1.35" height="1.15" fill="#2228a8"/><rect x="506.29" y="505.53" width="1.35" height="1.15" fill="#2228a8"/><rect x="503.90" y="485.81" width="1.35" height="1.15" fill="#2228a8"/><rect x="506.02" y="488.13" width="1.35" height="1.15" fill="#2228a8"/><rect x="503.37" y="491.08" width="1.35" height="1.15" fill="#2228a8"/><rect x="506.23" y="501.97" width="1.35" height="1.15" fill="#2228a8"/><rect x="505.57" y="480.45" width="1.35" height="1.15" fill="#2228a8"/><rect x="504.63" y="494.00" width="1.35" height="1.15" fill="#2228a8"/><rect x="503.78" y="513.23" width="1.35" height="1.15" fill="#2228a8"/><rect x="504.31" y="482.97" width="1.35" height="1.15" fill="#2228a8"/><rect x="506.43" y="503.12" width="1.35" height="1.15" fill="#2228a8"/><rect x="503.70" y="476.91" width="1.35" height="1.15" fill="#2228a8"/><rect x="505.31" y="504.97" width="1.35" height="1.15" fill="#2228a8"/><rect x="503.17" y="502.50" width="1.35" height="1.15" fill="#2228a8"/><rect x="505.60" y="506.22" width="1.35" height="1.15" fill="#2228a8"/><rect x="503.88" y="504.09" width="1.35" height="1.15" fill="#2228a8"/><rect x="505.14" y="512.57" width="1.35" height="1.15" fill="#2228a8"/><rect x="503.58" y="521.06" width="1.35" height="1.15" fill="#2228a8"/><rect x="506.30" y="517.54" width="1.35" height="1.15" fill="#2228a8"/><rect x="506.00" y="496.78" width="1.35" height="1.15" fill="#2228a8"/><rect x="506.15" y="486.42" width="1.35" height="1.15" fill="#2228a8"/><rect x="503.86" y="509.61" width="1.35" height="1.15" fill="#2228a8"/><rect x="506.15" y="480.87" width="1.35" height="1.15" fill="#2228a8"/><rect x="503.82" y="478.30" width="1.35" height="1.15" fill="#2228a8"/><rect x="504.58" y="484.12" width="1.35" height="1.15" fill="#2228a8"/><rect x="503.74" y="518.02" width="1.35" height="1.15" fill="#2228a8"/><rect x="505.07" y="528.63" width="1.35" height="1.15" fill="#2228a8"/><rect x="504.45" y="514.13" width="1.35" height="1.15" fill="#2228a8"/><rect x="503.13" y="529.13" width="1.35" height="1.15" fill="#2228a8"/><rect x="503.88" y="502.87" width="1.35" height="1.15" fill="#2228a8"/><rect x="504.82" y="529.12" width="1.35" height="1.15" fill="#2228a8"/><rect x="504.76" y="531.55" width="1.35" height="1.15" fill="#2228a8"/><rect x="505.20" y="488.35" width="1.35" height="1.15" fill="#2228a8"/><rect x="505.92" y="487.55" width="1.35" height="1.15" fill="#2228a8"/><rect x="506.48" y="501.73" width="1.35" height="1.15" fill="#2228a8"/><rect x="503.85" y="529.84" width="1.35" height="1.15" fill="#2228a8"/><rect x="504.18" y="498.97" width="1.35" height="1.15" fill="#2228a8"/><rect x="504.25" y="513.54" width="1.35" height="1.15" fill="#2228a8"/><rect x="503.16" y="497.13" width="1.35" height="1.15" fill="#2228a8"/><rect x="503.64" y="522.42" width="1.35" height="1.15" fill="#2228a8"/><rect x="503.09" y="510.14" width="1.35" height="1.15" fill="#2228a8"/><rect x="503.96" y="501.60" width="1.35" height="1.15" fill="#2228a8"/><rect x="505.00" y="515.94" width="1.35" height="1.15" fill="#2228a8"/><rect x="503.55" y="489.69" width="1.35" height="1.15" fill="#2228a8"/><rect x="503.49" y="529.79" width="1.35" height="1.15" fill="#2228a8"/><rect x="503.59" y="483.94" width="1.35" height="1.15" fill="#2228a8"/><rect x="504.86" y="508.68" width="1.35" height="1.15" fill="#2228a8"/><rect x="506.10" y="479.47" width="1.35" height="1.15" fill="#2228a8"/><rect x="503.88" y="485.63" width="1.35" height="1.15" fill="#2228a8"/><rect x="505.08" y="501.50" width="1.35" height="1.15" fill="#2228a8"/><rect x="504.48" y="525.78" width="1.35" height="1.15" fill="#2228a8"/><rect x="505.33" y="524.21" width="1.35" height="1.15" fill="#2228a8"/><rect x="506.34" y="491.28" width="1.35" height="1.15" fill="#2228a8"/><rect x="506.29" y="499.01" width="1.35" height="1.15" fill="#2228a8"/><rect x="503.26" y="527.25" width="1.35" height="1.15" fill="#2228a8"/><rect x="503.44" y="477.28" width="1.35" height="1.15" fill="#2228a8"/><rect x="504.07" y="492.40" width="1.35" height="1.15" fill="#2228a8"/><rect x="506.37" y="524.78" width="1.35" height="1.15" fill="#2228a8"/><rect x="504.51" y="505.79" width="1.35" height="1.15" fill="#2228a8"/><rect x="505.97" y="521.25" width="1.35" height="1.15" fill="#2228a8"/><rect x="505.31" y="504.86" width="1.35" height="1.15" fill="#2228a8"/><rect x="503.48" y="489.88" width="1.35" height="1.15" fill="#2228a8"/><rect x="505.32" y="508.96" width="1.35" height="1.15" fill="#2228a8"/><rect x="505.81" y="526.36" width="1.35" height="1.15" fill="#2228a8"/><rect x="506.36" y="487.03" width="1.35" height="1.15" fill="#2228a8"/><rect x="503.34" y="526.29" width="1.35" height="1.15" fill="#2228a8"/><rect x="505.02" y="486.41" width="1.35" height="1.15" fill="#2228a8"/><rect x="505.44" y="490.54" width="1.35" height="1.15" fill="#2228a8"/><rect x="503.89" y="496.70" width="1.35" height="1.15" fill="#2228a8"/><rect x="504.87" y="514.03" width="1.35" height="1.15" fill="#2228a8"/><rect x="503.33" y="517.59" width="1.35" height="1.15" fill="#2228a8"/><rect x="505.21" y="502.57" width="1.35" height="1.15" fill="#2228a8"/><rect x="505.37" y="520.84" width="1.35" height="1.15" fill="#2228a8"/><rect x="503.12" y="502.78" width="1.35" height="1.15" fill="#2228a8"/><rect x="505.39" y="515.80" width="1.35" height="1.15" fill="#2228a8"/><rect x="505.29" y="486.34" width="1.35" height="1.15" fill="#2228a8"/><rect x="506.34" y="520.06" width="1.35" height="1.15" fill="#2228a8"/><rect x="503.88" y="500.29" width="1.35" height="1.15" fill="#2228a8"/><rect x="506.34" y="487.84" width="1.35" height="1.15" fill="#2228a8"/><rect x="504.48" y="529.86" width="1.35" height="1.15" fill="#2228a8"/><rect x="506.15" y="489.25" width="1.35" height="1.15" fill="#2228a8"/><rect x="505.58" y="496.33" width="1.35" height="1.15" fill="#2228a8"/><rect x="505.34" y="519.02" width="1.35" height="1.15" fill="#2228a8"/><ellipse cx="505.46" cy="469.55" rx="2.8" ry="7.75" fill="#f6f6fd" stroke="#4f58c4" stroke-width="0.65"/><rect x="503.89" y="460.73" width="1.20" height="1.02" fill="#3038b4"/><rect x="504.12" y="460.88" width="1.20" height="1.02" fill="#3038b4"/><rect x="503.65" y="460.45" width="1.20" height="1.02" fill="#3038b4"/><rect x="504.62" y="461.39" width="1.20" height="1.02" fill="#3038b4"/><rect x="503.76" y="461.92" width="1.20" height="1.02" fill="#3038b4"/>
<ellipse cx="505.46" cy="544.70" rx="7.30" ry="13.70" fill="#e8e9f8" stroke="#8a90dc" stroke-width="0.5"/><ellipse cx="505.46" cy="546.10" rx="6.70" ry="11.00" fill="#c4c7ef" stroke="#6a72d6" stroke-width="0.5"/><ellipse cx="505.46" cy="546.80" rx="6.50" ry="9.60" fill="#9096e2" stroke="#5058cc" stroke-width="0.45"/><ellipse cx="505.46" cy="547.30" rx="5.70" ry="8.20" fill="#2f3ee8"/><ellipse cx="505.46" cy="547.30" rx="4.33" ry="6.56" fill="#1ccff5"/><ellipse cx="505.46" cy="547.30" rx="3.42" ry="5.49" fill="#4cd64a"/><ellipse cx="505.46" cy="547.30" rx="2.51" ry="4.02" fill="#eeee22"/><ellipse cx="505.46" cy="547.30" rx="1.71" ry="2.46" fill="#ff9a1e"/><ellipse cx="505.46" cy="547.30" rx="1.03" ry="1.48" fill="#ff3a22"/>
<path d="M515.22,540.00 C515.22,532.80 519.12,525.92 521.22,524.00 C523.32,525.92 527.22,532.80 527.22,540.00 Z" fill="#f2f3fc" stroke="#6e76d4" stroke-width="0.5"/><path d="M519.62,467.30 L519.62,533.00 M522.82,467.30 L522.82,533.00" stroke="#6a72d2" stroke-width="0.5"/><rect x="522.05" y="504.21" width="1.35" height="1.15" fill="#2228a8"/><rect x="520.05" y="512.58" width="1.35" height="1.15" fill="#2228a8"/><rect x="520.33" y="477.83" width="1.35" height="1.15" fill="#2228a8"/><rect x="520.48" y="467.46" width="1.35" height="1.15" fill="#2228a8"/><rect x="521.14" y="476.87" width="1.35" height="1.15" fill="#2228a8"/><rect x="520.10" y="529.54" width="1.35" height="1.15" fill="#2228a8"/><rect x="521.45" y="521.19" width="1.35" height="1.15" fill="#2228a8"/><rect x="521.03" y="507.99" width="1.35" height="1.15" fill="#2228a8"/><rect x="521.24" y="529.79" width="1.35" height="1.15" fill="#2228a8"/><rect x="519.51" y="516.64" width="1.35" height="1.15" fill="#2228a8"/><rect x="519.87" y="483.10" width="1.35" height="1.15" fill="#2228a8"/><rect x="521.64" y="505.79" width="1.35" height="1.15" fill="#2228a8"/><rect x="521.73" y="523.80" width="1.35" height="1.15" fill="#2228a8"/><rect x="520.85" y="479.33" width="1.35" height="1.15" fill="#2228a8"/><rect x="518.90" y="501.44" width="1.35" height="1.15" fill="#2228a8"/><rect x="521.31" y="484.20" width="1.35" height="1.15" fill="#2228a8"/><rect x="519.08" y="466.61" width="1.35" height="1.15" fill="#2228a8"/><rect x="519.43" y="512.02" width="1.35" height="1.15" fill="#2228a8"/><rect x="518.86" y="481.41" width="1.35" height="1.15" fill="#2228a8"/><rect x="519.75" y="513.02" width="1.35" height="1.15" fill="#2228a8"/><rect x="522.20" y="467.57" width="1.35" height="1.15" fill="#2228a8"/><rect x="519.23" y="527.70" width="1.35" height="1.15" fill="#2228a8"/><rect x="522.14" y="476.06" width="1.35" height="1.15" fill="#2228a8"/><rect x="519.99" y="500.62" width="1.35" height="1.15" fill="#2228a8"/><rect x="519.93" y="493.72" width="1.35" height="1.15" fill="#2228a8"/><rect x="520.47" y="483.28" width="1.35" height="1.15" fill="#2228a8"/><rect x="519.03" y="471.81" width="1.35" height="1.15" fill="#2228a8"/><rect x="519.40" y="472.30" width="1.35" height="1.15" fill="#2228a8"/><rect x="520.97" y="512.07" width="1.35" height="1.15" fill="#2228a8"/><rect x="519.74" y="518.32" width="1.35" height="1.15" fill="#2228a8"/><rect x="521.32" y="488.75" width="1.35" height="1.15" fill="#2228a8"/><rect x="520.52" y="478.68" width="1.35" height="1.15" fill="#2228a8"/><rect x="522.00" y="503.12" width="1.35" height="1.15" fill="#2228a8"/><rect x="519.02" y="476.41" width="1.35" height="1.15" fill="#2228a8"/><rect x="521.20" y="491.61" width="1.35" height="1.15" fill="#2228a8"/><rect x="521.28" y="481.37" width="1.35" height="1.15" fill="#2228a8"/><rect x="521.56" y="518.99" width="1.35" height="1.15" fill="#2228a8"/><rect x="519.17" y="504.81" width="1.35" height="1.15" fill="#2228a8"/><rect x="519.50" y="512.80" width="1.35" height="1.15" fill="#2228a8"/><rect x="521.58" y="518.29" width="1.35" height="1.15" fill="#2228a8"/><rect x="519.63" y="472.43" width="1.35" height="1.15" fill="#2228a8"/><rect x="521.10" y="503.42" width="1.35" height="1.15" fill="#2228a8"/><rect x="519.31" y="478.96" width="1.35" height="1.15" fill="#2228a8"/><rect x="520.83" y="473.39" width="1.35" height="1.15" fill="#2228a8"/><rect x="521.00" y="482.13" width="1.35" height="1.15" fill="#2228a8"/><rect x="519.72" y="494.12" width="1.35" height="1.15" fill="#2228a8"/><rect x="520.66" y="513.89" width="1.35" height="1.15" fill="#2228a8"/><rect x="518.95" y="513.89" width="1.35" height="1.15" fill="#2228a8"/><rect x="519.60" y="485.41" width="1.35" height="1.15" fill="#2228a8"/><rect x="521.02" y="511.71" width="1.35" height="1.15" fill="#2228a8"/><rect x="520.94" y="525.55" width="1.35" height="1.15" fill="#2228a8"/><rect x="519.54" y="486.74" width="1.35" height="1.15" fill="#2228a8"/><rect x="521.10" y="483.43" width="1.35" height="1.15" fill="#2228a8"/><rect x="519.38" y="481.17" width="1.35" height="1.15" fill="#2228a8"/><rect x="521.47" y="520.63" width="1.35" height="1.15" fill="#2228a8"/><rect x="521.28" y="529.29" width="1.35" height="1.15" fill="#2228a8"/><rect x="521.55" y="486.65" width="1.35" height="1.15" fill="#2228a8"/><rect x="519.92" y="513.68" width="1.35" height="1.15" fill="#2228a8"/><rect x="519.03" y="506.33" width="1.35" height="1.15" fill="#2228a8"/><rect x="519.15" y="469.52" width="1.35" height="1.15" fill="#2228a8"/><rect x="520.59" y="476.24" width="1.35" height="1.15" fill="#2228a8"/><rect x="522.01" y="523.94" width="1.35" height="1.15" fill="#2228a8"/><rect x="520.41" y="479.29" width="1.35" height="1.15" fill="#2228a8"/><rect x="519.25" y="499.60" width="1.35" height="1.15" fill="#2228a8"/><rect x="520.62" y="490.14" width="1.35" height="1.15" fill="#2228a8"/><rect x="521.28" y="501.07" width="1.35" height="1.15" fill="#2228a8"/><rect x="521.48" y="473.28" width="1.35" height="1.15" fill="#2228a8"/><rect x="519.08" y="491.73" width="1.35" height="1.15" fill="#2228a8"/><rect x="520.49" y="482.90" width="1.35" height="1.15" fill="#2228a8"/><rect x="521.12" y="480.88" width="1.35" height="1.15" fill="#2228a8"/><rect x="519.93" y="497.63" width="1.35" height="1.15" fill="#2228a8"/><rect x="521.27" y="516.91" width="1.35" height="1.15" fill="#2228a8"/><rect x="520.11" y="495.66" width="1.35" height="1.15" fill="#2228a8"/><rect x="522.00" y="527.66" width="1.35" height="1.15" fill="#2228a8"/><rect x="520.95" y="473.20" width="1.35" height="1.15" fill="#2228a8"/><rect x="520.39" y="508.14" width="1.35" height="1.15" fill="#2228a8"/><rect x="519.79" y="468.76" width="1.35" height="1.15" fill="#2228a8"/><rect x="522.18" y="526.06" width="1.35" height="1.15" fill="#2228a8"/><rect x="519.28" y="496.91" width="1.35" height="1.15" fill="#2228a8"/><rect x="520.95" y="486.01" width="1.35" height="1.15" fill="#2228a8"/><rect x="519.08" y="515.62" width="1.35" height="1.15" fill="#2228a8"/><rect x="521.47" y="495.03" width="1.35" height="1.15" fill="#2228a8"/><rect x="519.14" y="492.18" width="1.35" height="1.15" fill="#2228a8"/><rect x="519.16" y="529.60" width="1.35" height="1.15" fill="#2228a8"/><rect x="519.02" y="485.22" width="1.35" height="1.15" fill="#2228a8"/><rect x="521.46" y="475.17" width="1.35" height="1.15" fill="#2228a8"/><rect x="519.21" y="470.94" width="1.35" height="1.15" fill="#2228a8"/><rect x="519.40" y="501.24" width="1.35" height="1.15" fill="#2228a8"/><rect x="521.68" y="477.41" width="1.35" height="1.15" fill="#2228a8"/><rect x="519.44" y="516.56" width="1.35" height="1.15" fill="#2228a8"/><rect x="520.29" y="488.51" width="1.35" height="1.15" fill="#2228a8"/><rect x="519.26" y="482.25" width="1.35" height="1.15" fill="#2228a8"/><rect x="522.15" y="473.99" width="1.35" height="1.15" fill="#2228a8"/><rect x="519.73" y="514.96" width="1.35" height="1.15" fill="#2228a8"/><rect x="521.88" y="525.71" width="1.35" height="1.15" fill="#2228a8"/><rect x="520.45" y="529.14" width="1.35" height="1.15" fill="#2228a8"/><rect x="520.90" y="485.27" width="1.35" height="1.15" fill="#2228a8"/><rect x="520.43" y="513.34" width="1.35" height="1.15" fill="#2228a8"/><rect x="521.34" y="474.82" width="1.35" height="1.15" fill="#2228a8"/><rect x="519.50" y="529.26" width="1.35" height="1.15" fill="#2228a8"/><rect x="519.21" y="519.74" width="1.35" height="1.15" fill="#2228a8"/><rect x="520.00" y="482.59" width="1.35" height="1.15" fill="#2228a8"/><rect x="519.71" y="497.13" width="1.35" height="1.15" fill="#2228a8"/><rect x="522.21" y="476.06" width="1.35" height="1.15" fill="#2228a8"/><rect x="521.75" y="487.41" width="1.35" height="1.15" fill="#2228a8"/><rect x="519.43" y="515.23" width="1.35" height="1.15" fill="#2228a8"/><rect x="520.01" y="478.62" width="1.35" height="1.15" fill="#2228a8"/><rect x="520.27" y="520.28" width="1.35" height="1.15" fill="#2228a8"/><rect x="521.78" y="504.07" width="1.35" height="1.15" fill="#2228a8"/><rect x="518.88" y="516.46" width="1.35" height="1.15" fill="#2228a8"/><rect x="520.91" y="525.39" width="1.35" height="1.15" fill="#2228a8"/><rect x="522.08" y="487.79" width="1.35" height="1.15" fill="#2228a8"/><rect x="521.73" y="520.10" width="1.35" height="1.15" fill="#2228a8"/><rect x="519.75" y="490.34" width="1.35" height="1.15" fill="#2228a8"/><rect x="520.12" y="489.48" width="1.35" height="1.15" fill="#2228a8"/><rect x="520.13" y="473.54" width="1.35" height="1.15" fill="#2228a8"/><rect x="519.62" y="526.06" width="1.35" height="1.15" fill="#2228a8"/><rect x="520.24" y="508.07" width="1.35" height="1.15" fill="#2228a8"/><rect x="521.86" y="515.94" width="1.35" height="1.15" fill="#2228a8"/><rect x="519.68" y="526.72" width="1.35" height="1.15" fill="#2228a8"/><rect x="521.58" y="531.39" width="1.35" height="1.15" fill="#2228a8"/><rect x="521.32" y="515.89" width="1.35" height="1.15" fill="#2228a8"/><rect x="521.61" y="482.94" width="1.35" height="1.15" fill="#2228a8"/><rect x="521.08" y="491.31" width="1.35" height="1.15" fill="#2228a8"/><rect x="521.70" y="475.08" width="1.35" height="1.15" fill="#2228a8"/><rect x="520.68" y="488.40" width="1.35" height="1.15" fill="#2228a8"/><rect x="521.64" y="488.98" width="1.35" height="1.15" fill="#2228a8"/><rect x="521.71" y="522.01" width="1.35" height="1.15" fill="#2228a8"/><rect x="521.83" y="475.44" width="1.35" height="1.15" fill="#2228a8"/><rect x="522.04" y="515.20" width="1.35" height="1.15" fill="#2228a8"/><rect x="521.15" y="509.17" width="1.35" height="1.15" fill="#2228a8"/><rect x="519.01" y="523.47" width="1.35" height="1.15" fill="#2228a8"/><rect x="520.71" y="496.24" width="1.35" height="1.15" fill="#2228a8"/><rect x="520.00" y="517.74" width="1.35" height="1.15" fill="#2228a8"/><rect x="521.50" y="523.45" width="1.35" height="1.15" fill="#2228a8"/><rect x="519.57" y="488.67" width="1.35" height="1.15" fill="#2228a8"/><rect x="519.69" y="472.90" width="1.35" height="1.15" fill="#2228a8"/><rect x="519.96" y="468.01" width="1.35" height="1.15" fill="#2228a8"/><rect x="521.55" y="481.22" width="1.35" height="1.15" fill="#2228a8"/><rect x="519.09" y="470.75" width="1.35" height="1.15" fill="#2228a8"/><rect x="521.36" y="479.34" width="1.35" height="1.15" fill="#2228a8"/><rect x="520.42" y="492.70" width="1.35" height="1.15" fill="#2228a8"/><ellipse cx="521.22" cy="461.40" rx="2.8" ry="5.90" fill="#f6f6fd" stroke="#4f58c4" stroke-width="0.65"/><rect x="521.41" y="456.72" width="1.20" height="1.02" fill="#3038b4"/><rect x="520.13" y="454.79" width="1.20" height="1.02" fill="#3038b4"/><rect x="521.65" y="453.82" width="1.20" height="1.02" fill="#3038b4"/><rect x="521.66" y="455.40" width="1.20" height="1.02" fill="#3038b4"/><rect x="520.13" y="456.24" width="1.20" height="1.02" fill="#3038b4"/><rect x="520.81" y="451.64" width="1.20" height="1.02" fill="#3038b4"/><rect x="520.85" y="455.98" width="1.20" height="1.02" fill="#3038b4"/><rect x="520.67" y="453.90" width="1.20" height="1.02" fill="#3038b4"/>
<ellipse cx="521.22" cy="544.70" rx="7.30" ry="13.70" fill="#e8e9f8" stroke="#8a90dc" stroke-width="0.5"/><ellipse cx="521.22" cy="546.10" rx="6.70" ry="11.00" fill="#c4c7ef" stroke="#6a72d6" stroke-width="0.5"/><ellipse cx="521.22" cy="546.80" rx="6.50" ry="9.60" fill="#9096e2" stroke="#5058cc" stroke-width="0.45"/><ellipse cx="521.22" cy="547.30" rx="5.70" ry="8.20" fill="#2f3ee8"/><ellipse cx="521.22" cy="547.30" rx="4.33" ry="6.56" fill="#1ccff5"/><ellipse cx="521.22" cy="547.30" rx="3.42" ry="5.49" fill="#4cd64a"/><ellipse cx="521.22" cy="547.30" rx="2.51" ry="4.02" fill="#eeee22"/><ellipse cx="521.22" cy="547.30" rx="1.71" ry="2.46" fill="#ff9a1e"/><ellipse cx="521.22" cy="547.30" rx="1.03" ry="1.48" fill="#ff3a22"/>
<rect x="456.2" y="515.6" width="1" height="1" fill="#b4b8d0"/>
<rect x="485.6" y="449.6" width="1" height="1" fill="#b4b8d0"/>
<rect x="449.8" y="464.8" width="1" height="1" fill="#b4b8d0"/>
<rect x="520.3" y="497.5" width="1" height="1" fill="#b4b8d0"/>
<rect x="421.7" y="518.9" width="1" height="1" fill="#b4b8d0"/>
<rect x="411.0" y="487.2" width="1" height="1" fill="#b4b8d0"/>
<rect x="458.1" y="499.6" width="1" height="1" fill="#b4b8d0"/>
<rect x="457.7" y="438.3" width="1" height="1" fill="#b4b8d0"/>
<rect x="468.9" y="509.7" width="1" height="1" fill="#b4b8d0"/>
<rect x="500.2" y="464.2" width="1" height="1" fill="#b4b8d0"/>
<rect x="433.2" y="502.3" width="1" height="1" fill="#b4b8d0"/>
<rect x="501.8" y="450.7" width="1" height="1" fill="#b4b8d0"/>
<rect x="511.4" y="526.6" width="1" height="1" fill="#b4b8d0"/>
<rect x="458.2" y="466.5" width="1" height="1" fill="#b4b8d0"/>
<line x1="394.5" y1="559.7" x2="536.9" y2="559.7" stroke="#444" stroke-width="1.3"/>
<rect x="513.6" y="423.3" width="15.0" height="134.5" fill="#c4cec8" fill-opacity="0.12" stroke="#0e4a15" stroke-width="2.3"/>
<text x="410.4" y="418.0" font-size="12.8" fill="#333" stroke="#fff" stroke-width="0.22" textLength="43.6" lengthAdjust="spacingAndGlyphs">CAS -50</text>
<text x="416.7" y="566.0" text-anchor="end" font-size="7.4" fill="#222" stroke="#222" stroke-width="0.12" transform="rotate(-45 416.7 566.0)">8</text>
<text x="433.3" y="566.0" text-anchor="end" font-size="7.4" fill="#222" stroke="#222" stroke-width="0.12" transform="rotate(-45 433.3 566.0)">16</text>
<text x="449.3" y="566.0" text-anchor="end" font-size="7.4" fill="#222" stroke="#222" stroke-width="0.12" transform="rotate(-45 449.3 566.0)">32</text>
<text x="464.6" y="566.0" text-anchor="end" font-size="7.4" fill="#222" stroke="#222" stroke-width="0.12" transform="rotate(-45 464.6 566.0)">64</text>
<text x="480.3" y="566.0" text-anchor="end" font-size="7.4" fill="#222" stroke="#222" stroke-width="0.12" transform="rotate(-45 480.3 566.0)">125</text>
<text x="496.4" y="566.0" text-anchor="end" font-size="7.4" fill="#222" stroke="#222" stroke-width="0.12" transform="rotate(-45 496.4 566.0)">250</text>
<text x="516.7" y="566.0" text-anchor="end" font-size="7.4" fill="#222" stroke="#222" stroke-width="0.12" transform="rotate(-45 516.7 566.0)">500</text>
<text x="534.5" y="566.0" text-anchor="end" font-size="7.4" fill="#222" stroke="#222" stroke-width="0.12" transform="rotate(-45 534.5 566.0)">1000</text>
</g>
<line x1="37.3" y1="451.1" x2="529.5" y2="451.1" stroke="#1a5c22" stroke-width="2" stroke-dasharray="6.2,4.9"/>
<text x="271.5" y="594.6" text-anchor="middle" font-size="11.3" fill="#111" stroke="#111" stroke-width="0.14">Antibody Concentration (ng/test)</text>
<line x1="67.2" y1="206" x2="67.2" y2="349" stroke="#d9d9d9" stroke-width="1"/>
<line x1="67.2" y1="349" x2="193.6" y2="349" stroke="#d9d9d9" stroke-width="1"/>
<line x1="67.2" y1="349" x2="67.2" y2="351.5" stroke="#d9d9d9" stroke-width="1"/>
<text x="67.2" y="367.0" text-anchor="middle" font-size="10.5" fill="#595959">0</text>
<line x1="98.5" y1="349" x2="98.5" y2="351.5" stroke="#d9d9d9" stroke-width="1"/>
<text x="98.5" y="367.0" text-anchor="middle" font-size="10.5" fill="#595959">250</text>
<line x1="129.9" y1="349" x2="129.9" y2="351.5" stroke="#d9d9d9" stroke-width="1"/>
<text x="129.9" y="367.0" text-anchor="middle" font-size="10.5" fill="#595959">500</text>
<line x1="161.2" y1="349" x2="161.2" y2="351.5" stroke="#d9d9d9" stroke-width="1"/>
<text x="161.2" y="367.0" text-anchor="middle" font-size="10.5" fill="#595959">750</text>
<line x1="192.6" y1="349" x2="192.6" y2="351.5" stroke="#d9d9d9" stroke-width="1"/>
<text x="192.6" y="367.0" text-anchor="middle" font-size="10.5" fill="#595959">1000</text>
<text x="57.0" y="352.8" text-anchor="end" font-size="10.5" fill="#595959">0</text>
<text x="57.0" y="304.8" text-anchor="end" font-size="10.5" fill="#595959">4</text>
<text x="57.0" y="256.8" text-anchor="end" font-size="10.5" fill="#595959">8</text>
<text x="57.0" y="208.8" text-anchor="end" font-size="10.5" fill="#595959">12</text>
<line x1="192.6" y1="220" x2="192.6" y2="349" stroke="#1a5c22" stroke-width="1.8" stroke-dasharray="6.5,5"/>
<polyline points="68.2,328.6 69.2,327.4 71.2,326.2 75.2,321.4 82.9,309.4 98.5,284.8 129.9,262.6 192.6,241.6" fill="none" stroke="#156082" stroke-width="1.8" stroke-linejoin="round"/>
<circle cx="68.2" cy="328.6" r="2.9" fill="#156082"/>
<circle cx="69.2" cy="327.4" r="2.9" fill="#156082"/>
<circle cx="71.2" cy="326.2" r="2.9" fill="#156082"/>
<circle cx="75.2" cy="321.4" r="2.9" fill="#156082"/>
<circle cx="82.9" cy="309.4" r="2.9" fill="#156082"/>
<circle cx="98.5" cy="284.8" r="2.9" fill="#156082"/>
<circle cx="129.9" cy="262.6" r="2.9" fill="#156082"/>
<circle cx="192.6" cy="241.6" r="2.9" fill="#156082"/>
<polyline points="68.2,328.6 69.2,328.6 71.2,328.0 75.2,326.8 82.9,322.0 98.5,311.2 129.9,296.2 192.6,285.4" fill="none" stroke="#E97132" stroke-width="1.8" stroke-linejoin="round"/>
<circle cx="68.2" cy="328.6" r="2.9" fill="#E97132"/>
<circle cx="69.2" cy="328.6" r="2.9" fill="#E97132"/>
<circle cx="71.2" cy="328.0" r="2.9" fill="#E97132"/>
<circle cx="75.2" cy="326.8" r="2.9" fill="#E97132"/>
<circle cx="82.9" cy="322.0" r="2.9" fill="#E97132"/>
<circle cx="98.5" cy="311.2" r="2.9" fill="#E97132"/>
<circle cx="129.9" cy="296.2" r="2.9" fill="#E97132"/>
<circle cx="192.6" cy="285.4" r="2.9" fill="#E97132"/>
<polyline points="68.2,328.6 69.2,327.4 71.2,325.6 75.2,320.8 82.9,304.6 98.5,278.2 129.9,249.4 192.6,226.6" fill="none" stroke="#196B24" stroke-width="1.8" stroke-linejoin="round"/>
<circle cx="68.2" cy="328.6" r="2.9" fill="#196B24"/>
<circle cx="69.2" cy="327.4" r="2.9" fill="#196B24"/>
<circle cx="71.2" cy="325.6" r="2.9" fill="#196B24"/>
<circle cx="75.2" cy="320.8" r="2.9" fill="#196B24"/>
<circle cx="82.9" cy="304.6" r="2.9" fill="#196B24"/>
<circle cx="98.5" cy="278.2" r="2.9" fill="#196B24"/>
<circle cx="129.9" cy="249.4" r="2.9" fill="#196B24"/>
<circle cx="192.6" cy="226.6" r="2.9" fill="#196B24"/>
<text x="130" y="382.9" text-anchor="middle" font-size="10.6" fill="#595959">ng/test</text>
<text x="36" y="276.5" text-anchor="middle" font-size="10.6" fill="#595959" transform="rotate(-90 36 276.5)" dy="3.6">Stain Index</text>
<line x1="220.9" y1="273.6" x2="242.2" y2="273.6" stroke="#156082" stroke-width="1.8"/>
<circle cx="231.5" cy="273.6" r="2.9" fill="#156082"/>
<text x="244.2" y="277.20000000000005" font-size="10" fill="#595959">CAS</text>
<line x1="220.9" y1="293.3" x2="242.2" y2="293.3" stroke="#E97132" stroke-width="1.8"/>
<circle cx="231.5" cy="293.3" r="2.9" fill="#E97132"/>
<text x="244.2" y="296.90000000000003" font-size="10" fill="#595959">CAS-50</text>
<line x1="220.9" y1="313.3" x2="242.2" y2="313.3" stroke="#196B24" stroke-width="1.8"/>
<circle cx="231.5" cy="313.3" r="2.9" fill="#196B24"/>
<text x="244.2" y="316.90000000000003" font-size="10" fill="#595959">CAS+50</text>
<line x1="334.3" y1="205.2" x2="334.3" y2="351" stroke="#d9d9d9" stroke-width="1"/>
<line x1="334.3" y1="351" x2="457.9" y2="351" stroke="#d9d9d9" stroke-width="1"/>
<line x1="334.3" y1="351" x2="334.3" y2="353.5" stroke="#d9d9d9" stroke-width="1"/>
<text x="334.3" y="370.0" text-anchor="middle" font-size="10.5" fill="#595959">0</text>
<line x1="364.9" y1="351" x2="364.9" y2="353.5" stroke="#d9d9d9" stroke-width="1"/>
<text x="364.9" y="370.0" text-anchor="middle" font-size="10.5" fill="#595959">250</text>
<line x1="395.6" y1="351" x2="395.6" y2="353.5" stroke="#d9d9d9" stroke-width="1"/>
<text x="395.6" y="370.0" text-anchor="middle" font-size="10.5" fill="#595959">500</text>
<line x1="426.2" y1="351" x2="426.2" y2="353.5" stroke="#d9d9d9" stroke-width="1"/>
<text x="426.2" y="370.0" text-anchor="middle" font-size="10.5" fill="#595959">750</text>
<line x1="456.9" y1="351" x2="456.9" y2="353.5" stroke="#d9d9d9" stroke-width="1"/>
<text x="456.9" y="370.0" text-anchor="middle" font-size="10.5" fill="#595959">1000</text>
<text x="324.0" y="354.8" text-anchor="end" font-size="10.5" fill="#595959">0</text>
<text x="324.0" y="322.2" text-anchor="end" font-size="10.5" fill="#595959">8</text>
<text x="324.0" y="289.6" text-anchor="end" font-size="10.5" fill="#595959">16</text>
<text x="324.0" y="257.0" text-anchor="end" font-size="10.5" fill="#595959">24</text>
<text x="324.0" y="224.4" text-anchor="end" font-size="10.5" fill="#595959">32</text>
<line x1="456.9" y1="218" x2="456.9" y2="351" stroke="#1a5c22" stroke-width="1.8" stroke-dasharray="6.5,5"/>
<polyline points="336.3,323.7 338.2,300.5 342.1,269.9 349.6,241.8 364.9,235.3 395.6,224.7 456.9,219.4" fill="none" stroke="#156082" stroke-width="1.8" stroke-linejoin="round"/>
<circle cx="336.3" cy="323.7" r="2.9" fill="#156082"/>
<circle cx="338.2" cy="300.5" r="2.9" fill="#156082"/>
<circle cx="342.1" cy="269.9" r="2.9" fill="#156082"/>
<circle cx="349.6" cy="241.8" r="2.9" fill="#156082"/>
<circle cx="364.9" cy="235.3" r="2.9" fill="#156082"/>
<circle cx="395.6" cy="224.7" r="2.9" fill="#156082"/>
<circle cx="456.9" cy="219.4" r="2.9" fill="#156082"/>
<polyline points="336.3,347.7 338.2,338.0 342.1,315.5 349.6,278.5 364.9,246.7 395.6,234.9 456.9,216.9" fill="none" stroke="#E97132" stroke-width="1.8" stroke-linejoin="round"/>
<circle cx="336.3" cy="347.7" r="2.9" fill="#E97132"/>
<circle cx="338.2" cy="338.0" r="2.9" fill="#E97132"/>
<circle cx="342.1" cy="315.5" r="2.9" fill="#E97132"/>
<circle cx="349.6" cy="278.5" r="2.9" fill="#E97132"/>
<circle cx="364.9" cy="246.7" r="2.9" fill="#E97132"/>
<circle cx="395.6" cy="234.9" r="2.9" fill="#E97132"/>
<circle cx="456.9" cy="216.9" r="2.9" fill="#E97132"/>
<polyline points="336.3,316.4 338.2,293.9 342.1,264.2 349.6,243.4 364.9,226.3 395.6,224.7 456.9,219.8" fill="none" stroke="#196B24" stroke-width="1.8" stroke-linejoin="round"/>
<circle cx="336.3" cy="316.4" r="2.9" fill="#196B24"/>
<circle cx="338.2" cy="293.9" r="2.9" fill="#196B24"/>
<circle cx="342.1" cy="264.2" r="2.9" fill="#196B24"/>
<circle cx="349.6" cy="243.4" r="2.9" fill="#196B24"/>
<circle cx="364.9" cy="226.3" r="2.9" fill="#196B24"/>
<circle cx="395.6" cy="224.7" r="2.9" fill="#196B24"/>
<circle cx="456.9" cy="219.8" r="2.9" fill="#196B24"/>
<text x="395.8" y="386.5" text-anchor="middle" font-size="10.6" fill="#595959">ng/test</text>
<text x="301.8" y="277.5" text-anchor="middle" font-size="10.6" fill="#595959" transform="rotate(-90 301.8 277.5)" dy="3.6">% Positive</text>
<line x1="485.4" y1="277" x2="506.6" y2="277" stroke="#156082" stroke-width="1.8"/>
<circle cx="496" cy="277" r="2.9" fill="#156082"/>
<text x="509.1" y="280.6" font-size="10" fill="#595959">CAS</text>
<line x1="485.4" y1="298" x2="506.6" y2="298" stroke="#E97132" stroke-width="1.8"/>
<circle cx="496" cy="298" r="2.9" fill="#E97132"/>
<text x="509.1" y="301.6" font-size="10" fill="#595959">CAS-50</text>
<line x1="485.4" y1="317.9" x2="506.6" y2="317.9" stroke="#196B24" stroke-width="1.8"/>
<circle cx="496" cy="317.9" r="2.9" fill="#196B24"/>
<text x="509.1" y="321.5" font-size="10" fill="#595959">CAS+50</text>
<line x1="61.9" y1="608.2" x2="61.9" y2="757.3" stroke="#d9d9d9" stroke-width="1"/>
<line x1="61.9" y1="757.3" x2="191.8" y2="757.3" stroke="#d9d9d9" stroke-width="1"/>
<line x1="61.9" y1="757.3" x2="61.9" y2="759.8" stroke="#d9d9d9" stroke-width="1"/>
<text x="61.9" y="775.2" text-anchor="middle" font-size="10.5" fill="#595959">0</text>
<line x1="94.1" y1="757.3" x2="94.1" y2="759.8" stroke="#d9d9d9" stroke-width="1"/>
<text x="94.1" y="775.2" text-anchor="middle" font-size="10.5" fill="#595959">250</text>
<line x1="126.3" y1="757.3" x2="126.3" y2="759.8" stroke="#d9d9d9" stroke-width="1"/>
<text x="126.3" y="775.2" text-anchor="middle" font-size="10.5" fill="#595959">500</text>
<line x1="158.6" y1="757.3" x2="158.6" y2="759.8" stroke="#d9d9d9" stroke-width="1"/>
<text x="158.6" y="775.2" text-anchor="middle" font-size="10.5" fill="#595959">750</text>
<line x1="190.8" y1="757.3" x2="190.8" y2="759.8" stroke="#d9d9d9" stroke-width="1"/>
<text x="190.8" y="775.2" text-anchor="middle" font-size="10.5" fill="#595959">1000</text>
<text x="52.5" y="761.1" text-anchor="end" font-size="10.5" fill="#595959">0</text>
<text x="52.5" y="710.9" text-anchor="end" font-size="10.5" fill="#595959">10</text>
<text x="52.5" y="660.7" text-anchor="end" font-size="10.5" fill="#595959">20</text>
<text x="52.5" y="610.5" text-anchor="end" font-size="10.5" fill="#595959">30</text>
<line x1="192.0" y1="633" x2="192.0" y2="757.3" stroke="#1a5c22" stroke-width="1.8" stroke-dasharray="6.5,5"/>
<polyline points="62.9,745.8 64.0,744.8 66.0,743.2 70.1,740.2 78.0,727.7 94.1,707.1 126.3,677.0 190.8,623.3" fill="none" stroke="#156082" stroke-width="1.8" stroke-linejoin="round"/>
<circle cx="62.9" cy="745.8" r="2.9" fill="#156082"/>
<circle cx="64.0" cy="744.8" r="2.9" fill="#156082"/>
<circle cx="66.0" cy="743.2" r="2.9" fill="#156082"/>
<circle cx="70.1" cy="740.2" r="2.9" fill="#156082"/>
<circle cx="78.0" cy="727.7" r="2.9" fill="#156082"/>
<circle cx="94.1" cy="707.1" r="2.9" fill="#156082"/>
<circle cx="126.3" cy="677.0" r="2.9" fill="#156082"/>
<circle cx="190.8" cy="623.3" r="2.9" fill="#156082"/>
<polyline points="62.9,739.2 64.0,743.2 66.0,744.8 70.1,744.2 78.0,740.7 94.1,726.7 126.3,707.6 190.8,686.5" fill="none" stroke="#E97132" stroke-width="1.8" stroke-linejoin="round"/>
<circle cx="62.9" cy="739.2" r="2.9" fill="#E97132"/>
<circle cx="64.0" cy="743.2" r="2.9" fill="#E97132"/>
<circle cx="66.0" cy="744.8" r="2.9" fill="#E97132"/>
<circle cx="70.1" cy="744.2" r="2.9" fill="#E97132"/>
<circle cx="78.0" cy="740.7" r="2.9" fill="#E97132"/>
<circle cx="94.1" cy="726.7" r="2.9" fill="#E97132"/>
<circle cx="126.3" cy="707.6" r="2.9" fill="#E97132"/>
<circle cx="190.8" cy="686.5" r="2.9" fill="#E97132"/>
<polyline points="62.9,745.8 64.0,744.2 66.0,742.2 70.1,736.2 78.0,720.7 94.1,695.6 126.3,658.9 190.8,627.8" fill="none" stroke="#196B24" stroke-width="1.8" stroke-linejoin="round"/>
<circle cx="62.9" cy="745.8" r="2.9" fill="#196B24"/>
<circle cx="64.0" cy="744.2" r="2.9" fill="#196B24"/>
<circle cx="66.0" cy="742.2" r="2.9" fill="#196B24"/>
<circle cx="70.1" cy="736.2" r="2.9" fill="#196B24"/>
<circle cx="78.0" cy="720.7" r="2.9" fill="#196B24"/>
<circle cx="94.1" cy="695.6" r="2.9" fill="#196B24"/>
<circle cx="126.3" cy="658.9" r="2.9" fill="#196B24"/>
<circle cx="190.8" cy="627.8" r="2.9" fill="#196B24"/>
<text x="125.8" y="791.5" text-anchor="middle" font-size="10.6" fill="#595959">ng/test</text>
<text x="30.8" y="683.4" text-anchor="middle" font-size="10.6" fill="#595959" transform="rotate(-90 30.8 683.4)" dy="3.6">Stain Index</text>
<line x1="217.8" y1="682.2" x2="239.6" y2="682.2" stroke="#156082" stroke-width="1.8"/>
<circle cx="228.5" cy="682.2" r="2.9" fill="#156082"/>
<text x="241.8" y="685.8000000000001" font-size="10" fill="#595959">CAS</text>
<line x1="217.8" y1="701.5" x2="239.6" y2="701.5" stroke="#E97132" stroke-width="1.8"/>
<circle cx="228.5" cy="701.5" r="2.9" fill="#E97132"/>
<text x="241.8" y="705.1" font-size="10" fill="#595959">CAS-50</text>
<line x1="217.8" y1="720.9" x2="239.6" y2="720.9" stroke="#196B24" stroke-width="1.8"/>
<circle cx="228.5" cy="720.9" r="2.9" fill="#196B24"/>
<text x="241.8" y="724.5" font-size="10" fill="#595959">CAS+50</text>
<line x1="331.1" y1="610.4" x2="331.1" y2="757.3" stroke="#d9d9d9" stroke-width="1"/>
<line x1="331.1" y1="757.3" x2="458.2" y2="757.3" stroke="#d9d9d9" stroke-width="1"/>
<line x1="331.1" y1="757.3" x2="331.1" y2="759.8" stroke="#d9d9d9" stroke-width="1"/>
<text x="331.1" y="774.8" text-anchor="middle" font-size="10.5" fill="#595959">0</text>
<line x1="362.6" y1="757.3" x2="362.6" y2="759.8" stroke="#d9d9d9" stroke-width="1"/>
<text x="362.6" y="774.8" text-anchor="middle" font-size="10.5" fill="#595959">250</text>
<line x1="394.1" y1="757.3" x2="394.1" y2="759.8" stroke="#d9d9d9" stroke-width="1"/>
<text x="394.1" y="774.8" text-anchor="middle" font-size="10.5" fill="#595959">500</text>
<line x1="425.7" y1="757.3" x2="425.7" y2="759.8" stroke="#d9d9d9" stroke-width="1"/>
<text x="425.7" y="774.8" text-anchor="middle" font-size="10.5" fill="#595959">750</text>
<line x1="457.2" y1="757.3" x2="457.2" y2="759.8" stroke="#d9d9d9" stroke-width="1"/>
<text x="457.2" y="774.8" text-anchor="middle" font-size="10.5" fill="#595959">1000</text>
<text x="321.5" y="761.1" text-anchor="end" font-size="10.5" fill="#595959">0</text>
<text x="321.5" y="724.4" text-anchor="end" font-size="10.5" fill="#595959">1</text>
<text x="321.5" y="687.7" text-anchor="end" font-size="10.5" fill="#595959">2</text>
<text x="321.5" y="651.0" text-anchor="end" font-size="10.5" fill="#595959">3</text>
<text x="321.5" y="614.3" text-anchor="end" font-size="10.5" fill="#595959">4</text>
<line x1="457.2" y1="651.8" x2="457.2" y2="757.3" stroke="#1a5c22" stroke-width="1.8" stroke-dasharray="6.5,5"/>
<polyline points="332.1,749.2 333.1,726.8 335.1,726.1 339.2,699.3 346.9,671.8 362.6,671.1 394.1,653.8 457.2,646.1" fill="none" stroke="#156082" stroke-width="1.8" stroke-linejoin="round"/>
<circle cx="332.1" cy="749.2" r="2.9" fill="#156082"/>
<circle cx="333.1" cy="726.8" r="2.9" fill="#156082"/>
<circle cx="335.1" cy="726.1" r="2.9" fill="#156082"/>
<circle cx="339.2" cy="699.3" r="2.9" fill="#156082"/>
<circle cx="346.9" cy="671.8" r="2.9" fill="#156082"/>
<circle cx="362.6" cy="671.1" r="2.9" fill="#156082"/>
<circle cx="394.1" cy="653.8" r="2.9" fill="#156082"/>
<circle cx="457.2" cy="646.1" r="2.9" fill="#156082"/>
<polyline points="332.1,756.6 333.1,755.8 335.1,753.6 339.2,741.2 346.9,703.0 362.6,698.6 394.1,665.5 457.2,653.8" fill="none" stroke="#E97132" stroke-width="1.8" stroke-linejoin="round"/>
<circle cx="332.1" cy="756.6" r="2.9" fill="#E97132"/>
<circle cx="333.1" cy="755.8" r="2.9" fill="#E97132"/>
<circle cx="335.1" cy="753.6" r="2.9" fill="#E97132"/>
<circle cx="339.2" cy="741.2" r="2.9" fill="#E97132"/>
<circle cx="346.9" cy="703.0" r="2.9" fill="#E97132"/>
<circle cx="362.6" cy="698.6" r="2.9" fill="#E97132"/>
<circle cx="394.1" cy="665.5" r="2.9" fill="#E97132"/>
<circle cx="457.2" cy="653.8" r="2.9" fill="#E97132"/>
<polyline points="332.1,726.8 333.1,726.1 335.1,693.4 339.2,676.6 346.9,671.8 362.6,659.7 394.1,641.0 457.2,634.0" fill="none" stroke="#196B24" stroke-width="1.8" stroke-linejoin="round"/>
<circle cx="332.1" cy="726.8" r="2.9" fill="#196B24"/>
<circle cx="333.1" cy="726.1" r="2.9" fill="#196B24"/>
<circle cx="335.1" cy="693.4" r="2.9" fill="#196B24"/>
<circle cx="339.2" cy="676.6" r="2.9" fill="#196B24"/>
<circle cx="346.9" cy="671.8" r="2.9" fill="#196B24"/>
<circle cx="362.6" cy="659.7" r="2.9" fill="#196B24"/>
<circle cx="394.1" cy="641.0" r="2.9" fill="#196B24"/>
<circle cx="457.2" cy="634.0" r="2.9" fill="#196B24"/>
<text x="394.4" y="791.5" text-anchor="middle" font-size="10.6" fill="#595959">ng/test</text>
<text x="304.9" y="684.6" text-anchor="middle" font-size="10.6" fill="#595959" transform="rotate(-90 304.9 684.6)" dy="3.6">% Positive</text>
<line x1="485.4" y1="683.2" x2="506.6" y2="683.2" stroke="#156082" stroke-width="1.8"/>
<circle cx="496.3" cy="683.2" r="2.9" fill="#156082"/>
<text x="508.8" y="686.8000000000001" font-size="10" fill="#595959">CAS</text>
<line x1="485.4" y1="702.9" x2="506.6" y2="702.9" stroke="#E97132" stroke-width="1.8"/>
<circle cx="496.3" cy="702.9" r="2.9" fill="#E97132"/>
<text x="508.8" y="706.5" font-size="10" fill="#595959">CAS-50</text>
<line x1="485.4" y1="722.5" x2="506.6" y2="722.5" stroke="#196B24" stroke-width="1.8"/>
<circle cx="496.3" cy="722.5" r="2.9" fill="#196B24"/>
<text x="508.8" y="726.1" font-size="10" fill="#595959">CAS+50</text>
</svg></body></html>
